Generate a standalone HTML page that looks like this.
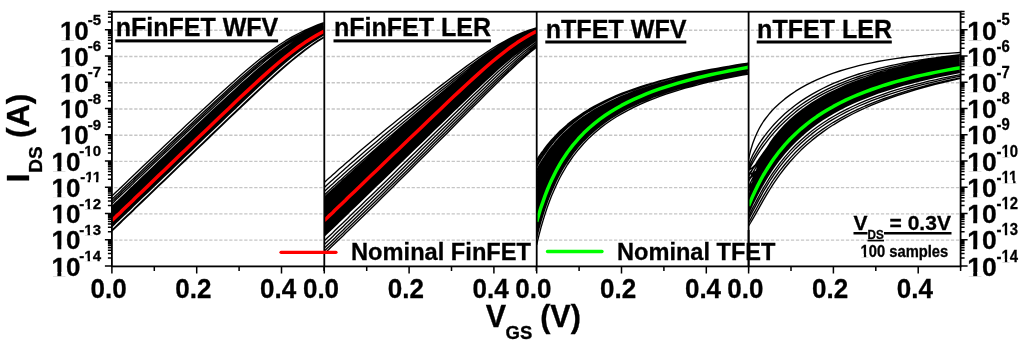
<!DOCTYPE html>
<html><head><meta charset="utf-8"><style>html,body{margin:0;padding:0;background:#fff;overflow:hidden}svg{display:block}</style></head><body>
<svg width="1024" height="343" viewBox="0 0 1024 343">
<rect width="1024" height="343" fill="#fff"/>
<defs>
<clipPath id="c0"><rect x="111.90" y="11.70" width="212.00" height="254.30"/></clipPath>
<clipPath id="c1"><rect x="324.30" y="11.70" width="212.00" height="254.30"/></clipPath>
<clipPath id="c2"><rect x="536.70" y="11.70" width="212.00" height="254.30"/></clipPath>
<clipPath id="c3"><rect x="748.60" y="11.70" width="212.00" height="254.30"/></clipPath>
</defs>
<line x1="114.2" y1="30.25" x2="322.9" y2="30.25" stroke="#c6c6c6" stroke-width="1.3" stroke-dasharray="3.3 1.7"/>
<line x1="114.2" y1="56.49" x2="322.9" y2="56.49" stroke="#c6c6c6" stroke-width="1.3" stroke-dasharray="3.3 1.7"/>
<line x1="114.2" y1="82.74" x2="322.9" y2="82.74" stroke="#c6c6c6" stroke-width="1.3" stroke-dasharray="3.3 1.7"/>
<line x1="114.2" y1="108.98" x2="322.9" y2="108.98" stroke="#c6c6c6" stroke-width="1.3" stroke-dasharray="3.3 1.7"/>
<line x1="114.2" y1="135.23" x2="322.9" y2="135.23" stroke="#c6c6c6" stroke-width="1.3" stroke-dasharray="3.3 1.7"/>
<line x1="114.2" y1="161.47" x2="322.9" y2="161.47" stroke="#c6c6c6" stroke-width="1.3" stroke-dasharray="3.3 1.7"/>
<line x1="114.2" y1="187.72" x2="322.9" y2="187.72" stroke="#c6c6c6" stroke-width="1.3" stroke-dasharray="3.3 1.7"/>
<line x1="114.2" y1="213.96" x2="322.9" y2="213.96" stroke="#c6c6c6" stroke-width="1.3" stroke-dasharray="3.3 1.7"/>
<line x1="114.2" y1="240.21" x2="322.9" y2="240.21" stroke="#c6c6c6" stroke-width="1.3" stroke-dasharray="3.3 1.7"/>
<line x1="326.6" y1="30.25" x2="535.3" y2="30.25" stroke="#c6c6c6" stroke-width="1.3" stroke-dasharray="3.3 1.7"/>
<line x1="326.6" y1="56.49" x2="535.3" y2="56.49" stroke="#c6c6c6" stroke-width="1.3" stroke-dasharray="3.3 1.7"/>
<line x1="326.6" y1="82.74" x2="535.3" y2="82.74" stroke="#c6c6c6" stroke-width="1.3" stroke-dasharray="3.3 1.7"/>
<line x1="326.6" y1="108.98" x2="535.3" y2="108.98" stroke="#c6c6c6" stroke-width="1.3" stroke-dasharray="3.3 1.7"/>
<line x1="326.6" y1="135.23" x2="535.3" y2="135.23" stroke="#c6c6c6" stroke-width="1.3" stroke-dasharray="3.3 1.7"/>
<line x1="326.6" y1="161.47" x2="535.3" y2="161.47" stroke="#c6c6c6" stroke-width="1.3" stroke-dasharray="3.3 1.7"/>
<line x1="326.6" y1="187.72" x2="535.3" y2="187.72" stroke="#c6c6c6" stroke-width="1.3" stroke-dasharray="3.3 1.7"/>
<line x1="326.6" y1="213.96" x2="535.3" y2="213.96" stroke="#c6c6c6" stroke-width="1.3" stroke-dasharray="3.3 1.7"/>
<line x1="326.6" y1="240.21" x2="535.3" y2="240.21" stroke="#c6c6c6" stroke-width="1.3" stroke-dasharray="3.3 1.7"/>
<line x1="539.0" y1="30.25" x2="747.7" y2="30.25" stroke="#c6c6c6" stroke-width="1.3" stroke-dasharray="3.3 1.7"/>
<line x1="539.0" y1="56.49" x2="747.7" y2="56.49" stroke="#c6c6c6" stroke-width="1.3" stroke-dasharray="3.3 1.7"/>
<line x1="539.0" y1="82.74" x2="747.7" y2="82.74" stroke="#c6c6c6" stroke-width="1.3" stroke-dasharray="3.3 1.7"/>
<line x1="539.0" y1="108.98" x2="747.7" y2="108.98" stroke="#c6c6c6" stroke-width="1.3" stroke-dasharray="3.3 1.7"/>
<line x1="539.0" y1="135.23" x2="747.7" y2="135.23" stroke="#c6c6c6" stroke-width="1.3" stroke-dasharray="3.3 1.7"/>
<line x1="539.0" y1="161.47" x2="747.7" y2="161.47" stroke="#c6c6c6" stroke-width="1.3" stroke-dasharray="3.3 1.7"/>
<line x1="539.0" y1="187.72" x2="747.7" y2="187.72" stroke="#c6c6c6" stroke-width="1.3" stroke-dasharray="3.3 1.7"/>
<line x1="539.0" y1="213.96" x2="747.7" y2="213.96" stroke="#c6c6c6" stroke-width="1.3" stroke-dasharray="3.3 1.7"/>
<line x1="539.0" y1="240.21" x2="747.7" y2="240.21" stroke="#c6c6c6" stroke-width="1.3" stroke-dasharray="3.3 1.7"/>
<line x1="750.9" y1="30.25" x2="959.6" y2="30.25" stroke="#c6c6c6" stroke-width="1.3" stroke-dasharray="3.3 1.7"/>
<line x1="750.9" y1="56.49" x2="959.6" y2="56.49" stroke="#c6c6c6" stroke-width="1.3" stroke-dasharray="3.3 1.7"/>
<line x1="750.9" y1="82.74" x2="959.6" y2="82.74" stroke="#c6c6c6" stroke-width="1.3" stroke-dasharray="3.3 1.7"/>
<line x1="750.9" y1="108.98" x2="959.6" y2="108.98" stroke="#c6c6c6" stroke-width="1.3" stroke-dasharray="3.3 1.7"/>
<line x1="750.9" y1="135.23" x2="959.6" y2="135.23" stroke="#c6c6c6" stroke-width="1.3" stroke-dasharray="3.3 1.7"/>
<line x1="750.9" y1="161.47" x2="959.6" y2="161.47" stroke="#c6c6c6" stroke-width="1.3" stroke-dasharray="3.3 1.7"/>
<line x1="750.9" y1="187.72" x2="959.6" y2="187.72" stroke="#c6c6c6" stroke-width="1.3" stroke-dasharray="3.3 1.7"/>
<line x1="750.9" y1="213.96" x2="959.6" y2="213.96" stroke="#c6c6c6" stroke-width="1.3" stroke-dasharray="3.3 1.7"/>
<line x1="750.9" y1="240.21" x2="959.6" y2="240.21" stroke="#c6c6c6" stroke-width="1.3" stroke-dasharray="3.3 1.7"/>
<g clip-path="url(#c0)" fill="none" stroke-linejoin="round">
<path d="M111.9 196.1l2.1 -2 2.1 -2.1 2.2 -2 2.1 -2 2.1 -2.1 2.1 -2 2.1 -2 2.2 -2.1 2.1 -2 2.1 -2 2.1 -2 2.1 -2.1 5.4 -5.1 5.4 -5.2 5.4 -5.1 5.4 -5.1 5.4 -5.2 5.4 -5.1 5.4 -5.1 5.4 -5.1 5.4 -5.1 5.4 -5 5.4 -5.1 6.4 -5.9 6.3 -5.9 6.4 -5.9 6.3 -5.9 6.4 -5.7 6.4 -5.7 6.3 -5.7 6.4 -5.5 6.3 -5.3 6.4 -5.2 6.4 -4.9 6.3 -4.7 6.4 -4.4 6.3 -4.1 6.4 -3.8 6.4 -3.4 6.3 -3.1 6.4 -2.9 6.3 -2.6 6.4 -2.3 M111.9 199.3l2.1 -2 2.1 -2.1 2.2 -2 2.1 -2 2.1 -2.1 2.1 -2 2.1 -2 2.2 -2.1 2.1 -2 2.1 -2 2.1 -2.1 2.1 -2 5.4 -5.1 5.4 -5.2 5.4 -5.1 5.4 -5.2 5.4 -5.1 5.4 -5.1 5.4 -5.1 5.4 -5.1 5.4 -5.1 5.4 -5.1 5.4 -5.1 6.4 -6 6.3 -5.9 6.4 -5.9 6.3 -5.9 6.4 -5.8 6.4 -5.8 6.3 -5.7 6.4 -5.5 6.3 -5.5 6.4 -5.3 6.4 -5 6.3 -4.9 6.4 -4.5 6.3 -4.3 6.4 -3.9 6.4 -3.6 6.3 -3.3 6.4 -3 6.3 -2.8 6.4 -2.4 M111.9 201.5l2.1 -2 2.1 -2.1 2.2 -2 2.1 -2 2.1 -2.1 2.1 -2 2.1 -2 2.2 -2.1 2.1 -2 2.1 -2 2.1 -2.1 2.1 -2 5.4 -5.1 5.4 -5.2 5.4 -5.1 5.4 -5.2 5.4 -5.1 5.4 -5.2 5.4 -5.1 5.4 -5.1 5.4 -5.1 5.4 -5.1 5.4 -5.1 6.4 -6 6.3 -5.9 6.4 -6 6.3 -5.9 6.4 -5.8 6.4 -5.8 6.3 -5.7 6.4 -5.7 6.3 -5.5 6.4 -5.3 6.4 -5.2 6.3 -4.9 6.4 -4.7 6.3 -4.4 6.4 -4 6.4 -3.7 6.3 -3.4 6.4 -3.1 6.3 -2.9 6.4 -2.5 M111.9 203.7l2.1 -2 2.1 -2.1 2.2 -2 2.1 -2 2.1 -2.1 2.1 -2 2.1 -2 2.2 -2.1 2.1 -2 2.1 -2 2.1 -2.1 2.1 -2 5.4 -5.1 5.4 -5.2 5.4 -5.2 5.4 -5.1 5.4 -5.1 5.4 -5.2 5.4 -5.1 5.4 -5.1 5.4 -5.2 5.4 -5.1 5.4 -5.1 6.4 -6 6.3 -5.9 6.4 -6 6.3 -5.9 6.4 -5.9 6.4 -5.8 6.3 -5.8 6.4 -5.7 6.3 -5.5 6.4 -5.4 6.4 -5.3 6.3 -5 6.4 -4.8 6.3 -4.5 6.4 -4.2 6.4 -3.8 6.3 -3.5 6.4 -3.2 6.3 -2.9 6.4 -2.7 M111.9 206.6l2.1 -2 2.1 -2.1 2.2 -2 2.1 -2 2.1 -2.1 2.1 -2 2.1 -2 2.2 -2.1 2.1 -2 2.1 -2 2.1 -2.1 2.1 -2 5.4 -5.2 5.4 -5.1 5.4 -5.2 5.4 -5.1 5.4 -5.2 5.4 -5.1 5.4 -5.2 5.4 -5.1 5.4 -5.1 5.4 -5.1 5.4 -5.2 6.4 -6 6.3 -6 6.4 -6 6.3 -5.9 6.4 -5.9 6.4 -5.9 6.3 -5.8 6.4 -5.7 6.3 -5.7 6.4 -5.5 6.4 -5.3 6.3 -5.2 6.4 -4.9 6.3 -4.6 6.4 -4.3 6.4 -4.1 6.3 -3.6 6.4 -3.4 6.3 -3 6.4 -2.8 M111.9 206.9l2.1 -2 2.1 -2.1 2.2 -2 2.1 -2 2.1 -2.1 2.1 -2 2.1 -2 2.2 -2.1 2.1 -2 2.1 -2 2.1 -2.1 2.1 -2 5.4 -5.2 5.4 -5.1 5.4 -5.2 5.4 -5.1 5.4 -5.2 5.4 -5.1 5.4 -5.2 5.4 -5.1 5.4 -5.1 5.4 -5.2 5.4 -5.1 6.4 -6 6.3 -6 6.4 -6 6.3 -5.9 6.4 -5.9 6.4 -5.9 6.3 -5.8 6.4 -5.8 6.3 -5.6 6.4 -5.5 6.4 -5.4 6.3 -5.2 6.4 -4.9 6.3 -4.6 6.4 -4.4 6.4 -4 6.3 -3.7 6.4 -3.3 6.3 -3.1 6.4 -2.8 M111.9 207l2.1 -2 2.1 -2 2.2 -2.1 2.1 -2 2.1 -2 2.1 -2.1 2.1 -2 2.2 -2 2.1 -2.1 2.1 -2 2.1 -2 2.1 -2.1 5.4 -5.1 5.4 -5.2 5.4 -5.2 5.4 -5.1 5.4 -5.2 5.4 -5.1 5.4 -5.1 5.4 -5.2 5.4 -5.1 5.4 -5.1 5.4 -5.1 6.4 -6.1 6.3 -6 6.4 -5.9 6.3 -6 6.4 -5.9 6.4 -5.9 6.3 -5.8 6.4 -5.8 6.3 -5.6 6.4 -5.5 6.4 -5.4 6.3 -5.2 6.4 -4.9 6.3 -4.6 6.4 -4.4 6.4 -4 6.3 -3.7 6.4 -3.4 6.3 -3 6.4 -2.8 M111.9 207.2l2.1 -2.1 2.1 -2 2.2 -2.1 2.1 -2 2.1 -2 2.1 -2.1 2.1 -2 2.2 -2 2.1 -2.1 2.1 -2 2.1 -2 2.1 -2 5.4 -5.2 5.4 -5.2 5.4 -5.1 5.4 -5.2 5.4 -5.1 5.4 -5.2 5.4 -5.1 5.4 -5.2 5.4 -5.1 5.4 -5.1 5.4 -5.1 6.4 -6 6.3 -6.1 6.4 -5.9 6.3 -6 6.4 -5.9 6.4 -5.9 6.3 -5.8 6.4 -5.8 6.3 -5.6 6.4 -5.5 6.4 -5.4 6.3 -5.2 6.4 -4.9 6.3 -4.7 6.4 -4.3 6.4 -4.1 6.3 -3.7 6.4 -3.3 6.3 -3.1 6.4 -2.8 M111.9 207.5l2.1 -2 2.1 -2.1 2.2 -2 2.1 -2.1 2.1 -2 2.1 -2 2.1 -2.1 2.2 -2 2.1 -2 2.1 -2.1 2.1 -2 2.1 -2 5.4 -5.2 5.4 -5.1 5.4 -5.2 5.4 -5.2 5.4 -5.1 5.4 -5.2 5.4 -5.1 5.4 -5.1 5.4 -5.2 5.4 -5.1 5.4 -5.1 6.4 -6 6.3 -6 6.4 -6 6.3 -6 6.4 -5.9 6.4 -5.9 6.3 -5.8 6.4 -5.8 6.3 -5.6 6.4 -5.6 6.4 -5.3 6.3 -5.2 6.4 -5 6.3 -4.6 6.4 -4.4 6.4 -4.1 6.3 -3.7 6.4 -3.4 6.3 -3.1 6.4 -2.7 M111.9 207.6l2.1 -2 2.1 -2 2.2 -2.1 2.1 -2 2.1 -2.1 2.1 -2 2.1 -2 2.2 -2.1 2.1 -2 2.1 -2 2.1 -2.1 2.1 -2 5.4 -5.2 5.4 -5.1 5.4 -5.2 5.4 -5.1 5.4 -5.2 5.4 -5.1 5.4 -5.2 5.4 -5.1 5.4 -5.1 5.4 -5.2 5.4 -5.1 6.4 -6 6.3 -6 6.4 -6 6.3 -6 6.4 -5.9 6.4 -5.9 6.3 -5.8 6.4 -5.8 6.3 -5.6 6.4 -5.6 6.4 -5.3 6.3 -5.2 6.4 -5 6.3 -4.7 6.4 -4.3 6.4 -4.1 6.3 -3.7 6.4 -3.4 6.3 -3.1 6.4 -2.8 M111.9 208.1l2.1 -2.1 2.1 -2 2.2 -2 2.1 -2.1 2.1 -2 2.1 -2 2.1 -2.1 2.2 -2 2.1 -2 2.1 -2.1 2.1 -2 2.1 -2 5.4 -5.2 5.4 -5.2 5.4 -5.1 5.4 -5.2 5.4 -5.1 5.4 -5.2 5.4 -5.1 5.4 -5.2 5.4 -5.1 5.4 -5.1 5.4 -5.1 6.4 -6.1 6.3 -6 6.4 -6 6.3 -5.9 6.4 -6 6.4 -5.9 6.3 -5.8 6.4 -5.8 6.3 -5.6 6.4 -5.6 6.4 -5.4 6.3 -5.2 6.4 -5 6.3 -4.7 6.4 -4.4 6.4 -4 6.3 -3.8 6.4 -3.4 6.3 -3.1 6.4 -2.8 M111.9 208.6l2.1 -2.1 2.1 -2 2.2 -2 2.1 -2.1 2.1 -2 2.1 -2 2.1 -2.1 2.2 -2 2.1 -2 2.1 -2.1 2.1 -2 2.1 -2 5.4 -5.2 5.4 -5.2 5.4 -5.1 5.4 -5.2 5.4 -5.1 5.4 -5.2 5.4 -5.1 5.4 -5.2 5.4 -5.1 5.4 -5.1 5.4 -5.2 6.4 -6 6.3 -6 6.4 -6 6.3 -6 6.4 -5.9 6.4 -5.9 6.3 -5.9 6.4 -5.7 6.3 -5.7 6.4 -5.6 6.4 -5.4 6.3 -5.2 6.4 -5 6.3 -4.7 6.4 -4.5 6.4 -4.1 6.3 -3.7 6.4 -3.5 6.3 -3.1 6.4 -2.9 M111.9 208.5l2.1 -2.1 2.1 -2 2.2 -2.1 2.1 -2 2.1 -2 2.1 -2.1 2.1 -2 2.2 -2 2.1 -2.1 2.1 -2 2.1 -2 2.1 -2.1 5.4 -5.1 5.4 -5.2 5.4 -5.2 5.4 -5.1 5.4 -5.2 5.4 -5.1 5.4 -5.2 5.4 -5.1 5.4 -5.1 5.4 -5.2 5.4 -5.1 6.4 -6 6.3 -6 6.4 -6 6.3 -6 6.4 -5.9 6.4 -5.9 6.3 -5.9 6.4 -5.7 6.3 -5.7 6.4 -5.6 6.4 -5.4 6.3 -5.2 6.4 -5 6.3 -4.7 6.4 -4.4 6.4 -4.1 6.3 -3.8 6.4 -3.4 6.3 -3.2 6.4 -2.8 M111.9 208.7l2.1 -2.1 2.1 -2 2.2 -2 2.1 -2.1 2.1 -2 2.1 -2 2.1 -2.1 2.2 -2 2.1 -2 2.1 -2.1 2.1 -2 2.1 -2 5.4 -5.2 5.4 -5.2 5.4 -5.1 5.4 -5.2 5.4 -5.2 5.4 -5.1 5.4 -5.1 5.4 -5.2 5.4 -5.1 5.4 -5.2 5.4 -5.1 6.4 -6 6.3 -6 6.4 -6 6.3 -6 6.4 -5.9 6.4 -5.9 6.3 -5.9 6.4 -5.8 6.3 -5.6 6.4 -5.6 6.4 -5.4 6.3 -5.2 6.4 -5 6.3 -4.8 6.4 -4.4 6.4 -4.1 6.3 -3.8 6.4 -3.5 6.3 -3.1 6.4 -2.8 M111.9 209.1l2.1 -2 2.1 -2 2.2 -2.1 2.1 -2 2.1 -2 2.1 -2.1 2.1 -2 2.2 -2 2.1 -2.1 2.1 -2 2.1 -2 2.1 -2.1 5.4 -5.1 5.4 -5.2 5.4 -5.2 5.4 -5.1 5.4 -5.2 5.4 -5.1 5.4 -5.2 5.4 -5.1 5.4 -5.2 5.4 -5.1 5.4 -5.1 6.4 -6.1 6.3 -6 6.4 -6 6.3 -5.9 6.4 -6 6.4 -5.9 6.3 -5.9 6.4 -5.7 6.3 -5.7 6.4 -5.6 6.4 -5.4 6.3 -5.3 6.4 -5 6.3 -4.8 6.4 -4.4 6.4 -4.2 6.3 -3.8 6.4 -3.4 6.3 -3.2 6.4 -2.9 M111.9 209.3l2.1 -2 2.1 -2 2.2 -2.1 2.1 -2 2.1 -2 2.1 -2.1 2.1 -2 2.2 -2 2.1 -2.1 2.1 -2 2.1 -2 2.1 -2.1 5.4 -5.1 5.4 -5.2 5.4 -5.2 5.4 -5.1 5.4 -5.2 5.4 -5.1 5.4 -5.2 5.4 -5.1 5.4 -5.2 5.4 -5.1 5.4 -5.1 6.4 -6.1 6.3 -6 6.4 -6 6.3 -5.9 6.4 -6 6.4 -5.9 6.3 -5.9 6.4 -5.8 6.3 -5.7 6.4 -5.5 6.4 -5.5 6.3 -5.2 6.4 -5.1 6.3 -4.7 6.4 -4.5 6.4 -4.1 6.3 -3.9 6.4 -3.4 6.3 -3.2 6.4 -2.9 M111.9 209.5l2.1 -2 2.1 -2 2.2 -2.1 2.1 -2 2.1 -2 2.1 -2.1 2.1 -2 2.2 -2 2.1 -2.1 2.1 -2 2.1 -2 2.1 -2.1 5.4 -5.1 5.4 -5.2 5.4 -5.2 5.4 -5.1 5.4 -5.2 5.4 -5.1 5.4 -5.2 5.4 -5.1 5.4 -5.2 5.4 -5.1 5.4 -5.1 6.4 -6.1 6.3 -6 6.4 -6 6.3 -6 6.4 -5.9 6.4 -5.9 6.3 -5.9 6.4 -5.8 6.3 -5.7 6.4 -5.6 6.4 -5.4 6.3 -5.3 6.4 -5 6.3 -4.8 6.4 -4.5 6.4 -4.1 6.3 -3.9 6.4 -3.5 6.3 -3.1 6.4 -2.9 M111.9 209.6l2.1 -2.1 2.1 -2 2.2 -2 2.1 -2.1 2.1 -2 2.1 -2 2.1 -2.1 2.2 -2 2.1 -2 2.1 -2.1 2.1 -2 2.1 -2 5.4 -5.2 5.4 -5.2 5.4 -5.1 5.4 -5.2 5.4 -5.2 5.4 -5.1 5.4 -5.2 5.4 -5.1 5.4 -5.1 5.4 -5.2 5.4 -5.1 6.4 -6 6.3 -6.1 6.4 -6 6.3 -5.9 6.4 -6 6.4 -5.9 6.3 -5.9 6.4 -5.8 6.3 -5.7 6.4 -5.6 6.4 -5.4 6.3 -5.3 6.4 -5 6.3 -4.8 6.4 -4.4 6.4 -4.2 6.3 -3.8 6.4 -3.5 6.3 -3.2 6.4 -2.9 M111.9 210l2.1 -2 2.1 -2.1 2.2 -2 2.1 -2 2.1 -2.1 2.1 -2 2.1 -2.1 2.2 -2 2.1 -2 2.1 -2.1 2.1 -2 2.1 -2 5.4 -5.2 5.4 -5.2 5.4 -5.1 5.4 -5.2 5.4 -5.1 5.4 -5.2 5.4 -5.1 5.4 -5.2 5.4 -5.1 5.4 -5.2 5.4 -5.1 6.4 -6 6.3 -6.1 6.4 -6 6.3 -5.9 6.4 -6 6.4 -5.9 6.3 -5.9 6.4 -5.8 6.3 -5.7 6.4 -5.6 6.4 -5.5 6.3 -5.2 6.4 -5.1 6.3 -4.8 6.4 -4.5 6.4 -4.2 6.3 -3.8 6.4 -3.5 6.3 -3.2 6.4 -2.9 M111.9 210.4l2.1 -2.1 2.1 -2 2.2 -2 2.1 -2.1 2.1 -2 2.1 -2 2.1 -2.1 2.2 -2 2.1 -2 2.1 -2.1 2.1 -2 2.1 -2 5.4 -5.2 5.4 -5.2 5.4 -5.1 5.4 -5.2 5.4 -5.2 5.4 -5.1 5.4 -5.2 5.4 -5.1 5.4 -5.2 5.4 -5.1 5.4 -5.1 6.4 -6.1 6.3 -6 6.4 -6 6.3 -6 6.4 -5.9 6.4 -6 6.3 -5.8 6.4 -5.8 6.3 -5.8 6.4 -5.6 6.4 -5.5 6.3 -5.2 6.4 -5.1 6.3 -4.8 6.4 -4.5 6.4 -4.3 6.3 -3.8 6.4 -3.6 6.3 -3.2 6.4 -2.9 M111.9 210.2l2.1 -2 2.1 -2.1 2.2 -2 2.1 -2 2.1 -2.1 2.1 -2 2.1 -2 2.2 -2.1 2.1 -2 2.1 -2 2.1 -2.1 2.1 -2 5.4 -5.2 5.4 -5.1 5.4 -5.2 5.4 -5.2 5.4 -5.1 5.4 -5.2 5.4 -5.1 5.4 -5.2 5.4 -5.1 5.4 -5.1 5.4 -5.2 6.4 -6 6.3 -6 6.4 -6 6.3 -6 6.4 -6 6.4 -5.9 6.3 -5.9 6.4 -5.8 6.3 -5.7 6.4 -5.6 6.4 -5.5 6.3 -5.3 6.4 -5 6.3 -4.8 6.4 -4.6 6.4 -4.1 6.3 -3.9 6.4 -3.5 6.3 -3.2 6.4 -3 M111.9 210.6l2.1 -2 2.1 -2 2.2 -2.1 2.1 -2 2.1 -2 2.1 -2.1 2.1 -2 2.2 -2 2.1 -2.1 2.1 -2 2.1 -2 2.1 -2.1 5.4 -5.1 5.4 -5.2 5.4 -5.2 5.4 -5.1 5.4 -5.2 5.4 -5.2 5.4 -5.1 5.4 -5.2 5.4 -5.1 5.4 -5.1 5.4 -5.2 6.4 -6 6.3 -6 6.4 -6.1 6.3 -5.9 6.4 -6 6.4 -5.9 6.3 -5.9 6.4 -5.8 6.3 -5.8 6.4 -5.6 6.4 -5.4 6.3 -5.3 6.4 -5.1 6.3 -4.9 6.4 -4.5 6.4 -4.2 6.3 -3.9 6.4 -3.5 6.3 -3.3 6.4 -2.9 M111.9 210.6l2.1 -2 2.1 -2.1 2.2 -2 2.1 -2.1 2.1 -2 2.1 -2 2.1 -2.1 2.2 -2 2.1 -2 2.1 -2.1 2.1 -2 2.1 -2 5.4 -5.2 5.4 -5.2 5.4 -5.1 5.4 -5.2 5.4 -5.1 5.4 -5.2 5.4 -5.2 5.4 -5.1 5.4 -5.1 5.4 -5.2 5.4 -5.1 6.4 -6.1 6.3 -6 6.4 -6 6.3 -6 6.4 -5.9 6.4 -6 6.3 -5.8 6.4 -5.9 6.3 -5.7 6.4 -5.6 6.4 -5.5 6.3 -5.3 6.4 -5.1 6.3 -4.8 6.4 -4.5 6.4 -4.2 6.3 -3.9 6.4 -3.6 6.3 -3.2 6.4 -2.9 M111.9 211l2.1 -2.1 2.1 -2 2.2 -2.1 2.1 -2 2.1 -2 2.1 -2.1 2.1 -2 2.2 -2 2.1 -2.1 2.1 -2 2.1 -2 2.1 -2.1 5.4 -5.1 5.4 -5.2 5.4 -5.2 5.4 -5.1 5.4 -5.2 5.4 -5.1 5.4 -5.2 5.4 -5.1 5.4 -5.2 5.4 -5.1 5.4 -5.2 6.4 -6 6.3 -6 6.4 -6.1 6.3 -5.9 6.4 -6 6.4 -5.9 6.3 -5.9 6.4 -5.8 6.3 -5.8 6.4 -5.6 6.4 -5.5 6.3 -5.3 6.4 -5.1 6.3 -4.8 6.4 -4.6 6.4 -4.2 6.3 -3.9 6.4 -3.6 6.3 -3.2 6.4 -3 M111.9 211.1l2.1 -2 2.1 -2.1 2.2 -2 2.1 -2.1 2.1 -2 2.1 -2 2.1 -2.1 2.2 -2 2.1 -2 2.1 -2.1 2.1 -2 2.1 -2 5.4 -5.2 5.4 -5.2 5.4 -5.1 5.4 -5.2 5.4 -5.2 5.4 -5.1 5.4 -5.2 5.4 -5.1 5.4 -5.2 5.4 -5.1 5.4 -5.1 6.4 -6.1 6.3 -6 6.4 -6 6.3 -6 6.4 -6 6.4 -5.9 6.3 -5.9 6.4 -5.8 6.3 -5.8 6.4 -5.6 6.4 -5.5 6.3 -5.3 6.4 -5.1 6.3 -4.9 6.4 -4.5 6.4 -4.3 6.3 -3.9 6.4 -3.5 6.3 -3.3 6.4 -2.9 M111.9 211.7l2.1 -2.1 2.1 -2 2.2 -2.1 2.1 -2 2.1 -2 2.1 -2.1 2.1 -2 2.2 -2 2.1 -2.1 2.1 -2 2.1 -2 2.1 -2.1 5.4 -5.1 5.4 -5.2 5.4 -5.2 5.4 -5.1 5.4 -5.2 5.4 -5.2 5.4 -5.1 5.4 -5.2 5.4 -5.1 5.4 -5.2 5.4 -5.1 6.4 -6 6.3 -6.1 6.4 -6 6.3 -6 6.4 -6 6.4 -5.9 6.3 -5.9 6.4 -5.8 6.3 -5.8 6.4 -5.6 6.4 -5.5 6.3 -5.4 6.4 -5.1 6.3 -4.9 6.4 -4.6 6.4 -4.2 6.3 -4 6.4 -3.6 6.3 -3.2 6.4 -3 M111.9 211.7l2.1 -2 2.1 -2.1 2.2 -2 2.1 -2.1 2.1 -2 2.1 -2 2.1 -2.1 2.2 -2 2.1 -2 2.1 -2.1 2.1 -2 2.1 -2 5.4 -5.2 5.4 -5.2 5.4 -5.1 5.4 -5.2 5.4 -5.2 5.4 -5.1 5.4 -5.2 5.4 -5.1 5.4 -5.2 5.4 -5.1 5.4 -5.2 6.4 -6 6.3 -6 6.4 -6.1 6.3 -6 6.4 -5.9 6.4 -6 6.3 -5.9 6.4 -5.8 6.3 -5.7 6.4 -5.7 6.4 -5.5 6.3 -5.3 6.4 -5.2 6.3 -4.8 6.4 -4.6 6.4 -4.3 6.3 -3.9 6.4 -3.7 6.3 -3.2 6.4 -3 M111.9 212.2l2.1 -2 2.1 -2 2.2 -2.1 2.1 -2 2.1 -2 2.1 -2.1 2.1 -2 2.2 -2 2.1 -2.1 2.1 -2 2.1 -2 2.1 -2.1 5.4 -5.2 5.4 -5.1 5.4 -5.2 5.4 -5.2 5.4 -5.1 5.4 -5.2 5.4 -5.1 5.4 -5.2 5.4 -5.1 5.4 -5.2 5.4 -5.1 6.4 -6.1 6.3 -6 6.4 -6 6.3 -6 6.4 -6 6.4 -6 6.3 -5.9 6.4 -5.8 6.3 -5.8 6.4 -5.6 6.4 -5.6 6.3 -5.3 6.4 -5.2 6.3 -4.9 6.4 -4.6 6.4 -4.3 6.3 -4 6.4 -3.6 6.3 -3.3 6.4 -3 M111.9 212.5l2.1 -2.1 2.1 -2 2.2 -2.1 2.1 -2 2.1 -2 2.1 -2.1 2.1 -2 2.2 -2 2.1 -2.1 2.1 -2 2.1 -2 2.1 -2.1 5.4 -5.1 5.4 -5.2 5.4 -5.2 5.4 -5.1 5.4 -5.2 5.4 -5.2 5.4 -5.1 5.4 -5.2 5.4 -5.1 5.4 -5.2 5.4 -5.1 6.4 -6.1 6.3 -6 6.4 -6 6.3 -6 6.4 -6 6.4 -6 6.3 -5.9 6.4 -5.8 6.3 -5.8 6.4 -5.7 6.4 -5.5 6.3 -5.3 6.4 -5.2 6.3 -4.9 6.4 -4.6 6.4 -4.4 6.3 -3.9 6.4 -3.7 6.3 -3.3 6.4 -3 M111.9 212.6l2.1 -2 2.1 -2 2.2 -2.1 2.1 -2 2.1 -2 2.1 -2.1 2.1 -2 2.2 -2.1 2.1 -2 2.1 -2 2.1 -2.1 2.1 -2 5.4 -5.2 5.4 -5.1 5.4 -5.2 5.4 -5.2 5.4 -5.1 5.4 -5.2 5.4 -5.2 5.4 -5.1 5.4 -5.2 5.4 -5.1 5.4 -5.2 6.4 -6 6.3 -6 6.4 -6.1 6.3 -6 6.4 -6 6.4 -5.9 6.3 -5.9 6.4 -5.9 6.3 -5.7 6.4 -5.7 6.4 -5.5 6.3 -5.4 6.4 -5.2 6.3 -4.9 6.4 -4.6 6.4 -4.4 6.3 -3.9 6.4 -3.7 6.3 -3.3 6.4 -3.1 M111.9 212.4l2.1 -2 2.1 -2.1 2.2 -2 2.1 -2 2.1 -2.1 2.1 -2 2.1 -2 2.2 -2.1 2.1 -2 2.1 -2 2.1 -2.1 2.1 -2 5.4 -5.2 5.4 -5.2 5.4 -5.1 5.4 -5.2 5.4 -5.2 5.4 -5.1 5.4 -5.2 5.4 -5.1 5.4 -5.2 5.4 -5.1 5.4 -5.2 6.4 -6 6.3 -6.1 6.4 -6 6.3 -6 6.4 -6 6.4 -5.9 6.3 -5.9 6.4 -5.9 6.3 -5.7 6.4 -5.7 6.4 -5.5 6.3 -5.4 6.4 -5.1 6.3 -5 6.4 -4.6 6.4 -4.3 6.3 -4 6.4 -3.6 6.3 -3.3 6.4 -3 M111.9 213l2.1 -2 2.1 -2 2.2 -2.1 2.1 -2 2.1 -2 2.1 -2.1 2.1 -2 2.2 -2 2.1 -2.1 2.1 -2 2.1 -2 2.1 -2.1 5.4 -5.2 5.4 -5.1 5.4 -5.2 5.4 -5.2 5.4 -5.1 5.4 -5.2 5.4 -5.1 5.4 -5.2 5.4 -5.2 5.4 -5.1 5.4 -5.2 6.4 -6 6.3 -6 6.4 -6.1 6.3 -6 6.4 -6 6.4 -5.9 6.3 -5.9 6.4 -5.9 6.3 -5.8 6.4 -5.7 6.4 -5.5 6.3 -5.4 6.4 -5.2 6.3 -4.9 6.4 -4.7 6.4 -4.3 6.3 -4 6.4 -3.7 6.3 -3.4 6.4 -3 M111.9 213.4l2.1 -2 2.1 -2.1 2.2 -2 2.1 -2.1 2.1 -2 2.1 -2 2.1 -2.1 2.2 -2 2.1 -2 2.1 -2.1 2.1 -2 2.1 -2 5.4 -5.2 5.4 -5.2 5.4 -5.2 5.4 -5.1 5.4 -5.2 5.4 -5.2 5.4 -5.1 5.4 -5.2 5.4 -5.1 5.4 -5.2 5.4 -5.1 6.4 -6.1 6.3 -6 6.4 -6.1 6.3 -6 6.4 -6 6.4 -5.9 6.3 -5.9 6.4 -5.9 6.3 -5.8 6.4 -5.7 6.4 -5.5 6.3 -5.4 6.4 -5.2 6.3 -5 6.4 -4.7 6.4 -4.3 6.3 -4 6.4 -3.7 6.3 -3.4 6.4 -3.1 M111.9 213.7l2.1 -2.1 2.1 -2 2.2 -2 2.1 -2.1 2.1 -2 2.1 -2.1 2.1 -2 2.2 -2 2.1 -2.1 2.1 -2 2.1 -2 2.1 -2.1 5.4 -5.1 5.4 -5.2 5.4 -5.2 5.4 -5.2 5.4 -5.1 5.4 -5.2 5.4 -5.1 5.4 -5.2 5.4 -5.2 5.4 -5.1 5.4 -5.2 6.4 -6 6.3 -6.1 6.4 -6 6.3 -6 6.4 -6 6.4 -6 6.3 -5.9 6.4 -5.9 6.3 -5.7 6.4 -5.7 6.4 -5.6 6.3 -5.4 6.4 -5.2 6.3 -5 6.4 -4.7 6.4 -4.4 6.3 -4 6.4 -3.7 6.3 -3.4 6.4 -3.1 M111.9 213.6l2.1 -2.1 2.1 -2 2.2 -2 2.1 -2.1 2.1 -2 2.1 -2 2.1 -2.1 2.2 -2 2.1 -2 2.1 -2.1 2.1 -2 2.1 -2 5.4 -5.2 5.4 -5.2 5.4 -5.2 5.4 -5.1 5.4 -5.2 5.4 -5.2 5.4 -5.1 5.4 -5.2 5.4 -5.1 5.4 -5.2 5.4 -5.1 6.4 -6.1 6.3 -6 6.4 -6.1 6.3 -6 6.4 -6 6.4 -5.9 6.3 -6 6.4 -5.8 6.3 -5.8 6.4 -5.7 6.4 -5.6 6.3 -5.4 6.4 -5.2 6.3 -4.9 6.4 -4.7 6.4 -4.4 6.3 -4 6.4 -3.8 6.3 -3.3 6.4 -3.1 M111.9 214l2.1 -2 2.1 -2 2.2 -2.1 2.1 -2 2.1 -2.1 2.1 -2 2.1 -2 2.2 -2.1 2.1 -2 2.1 -2 2.1 -2.1 2.1 -2 5.4 -5.2 5.4 -5.1 5.4 -5.2 5.4 -5.2 5.4 -5.2 5.4 -5.1 5.4 -5.2 5.4 -5.1 5.4 -5.2 5.4 -5.2 5.4 -5.1 6.4 -6.1 6.3 -6 6.4 -6 6.3 -6.1 6.4 -6 6.4 -5.9 6.3 -6 6.4 -5.8 6.3 -5.8 6.4 -5.7 6.4 -5.6 6.3 -5.4 6.4 -5.3 6.3 -4.9 6.4 -4.7 6.4 -4.4 6.3 -4.1 6.4 -3.7 6.3 -3.4 6.4 -3.1 M111.9 214.2l2.1 -2.1 2.1 -2 2.2 -2 2.1 -2.1 2.1 -2 2.1 -2 2.1 -2.1 2.2 -2 2.1 -2.1 2.1 -2 2.1 -2 2.1 -2.1 5.4 -5.1 5.4 -5.2 5.4 -5.2 5.4 -5.1 5.4 -5.2 5.4 -5.2 5.4 -5.1 5.4 -5.2 5.4 -5.2 5.4 -5.1 5.4 -5.2 6.4 -6 6.3 -6.1 6.4 -6 6.3 -6 6.4 -6 6.4 -6 6.3 -5.9 6.4 -5.9 6.3 -5.8 6.4 -5.7 6.4 -5.6 6.3 -5.4 6.4 -5.2 6.3 -5 6.4 -4.7 6.4 -4.5 6.3 -4 6.4 -3.8 6.3 -3.4 6.4 -3.1 M111.9 214.4l2.1 -2 2.1 -2 2.2 -2.1 2.1 -2 2.1 -2 2.1 -2.1 2.1 -2 2.2 -2 2.1 -2.1 2.1 -2 2.1 -2 2.1 -2.1 5.4 -5.2 5.4 -5.1 5.4 -5.2 5.4 -5.2 5.4 -5.1 5.4 -5.2 5.4 -5.2 5.4 -5.1 5.4 -5.2 5.4 -5.1 5.4 -5.2 6.4 -6.1 6.3 -6 6.4 -6.1 6.3 -6 6.4 -6 6.4 -6 6.3 -5.9 6.4 -5.9 6.3 -5.8 6.4 -5.7 6.4 -5.6 6.3 -5.4 6.4 -5.2 6.3 -5 6.4 -4.8 6.4 -4.4 6.3 -4.1 6.4 -3.7 6.3 -3.4 6.4 -3.2 M111.9 215.1l2.1 -2.1 2.1 -2 2.2 -2 2.1 -2.1 2.1 -2 2.1 -2.1 2.1 -2 2.2 -2 2.1 -2.1 2.1 -2 2.1 -2 2.1 -2.1 5.4 -5.1 5.4 -5.2 5.4 -5.2 5.4 -5.2 5.4 -5.1 5.4 -5.2 5.4 -5.2 5.4 -5.1 5.4 -5.2 5.4 -5.2 5.4 -5.1 6.4 -6.1 6.3 -6 6.4 -6.1 6.3 -6 6.4 -6 6.4 -6 6.3 -5.9 6.4 -5.9 6.3 -5.8 6.4 -5.8 6.4 -5.6 6.3 -5.4 6.4 -5.3 6.3 -5 6.4 -4.8 6.4 -4.4 6.3 -4.1 6.4 -3.8 6.3 -3.5 6.4 -3.1 M111.9 214.9l2.1 -2 2.1 -2 2.2 -2.1 2.1 -2 2.1 -2 2.1 -2.1 2.1 -2 2.2 -2.1 2.1 -2 2.1 -2 2.1 -2.1 2.1 -2 5.4 -5.2 5.4 -5.1 5.4 -5.2 5.4 -5.2 5.4 -5.2 5.4 -5.1 5.4 -5.2 5.4 -5.2 5.4 -5.1 5.4 -5.2 5.4 -5.1 6.4 -6.1 6.3 -6.1 6.4 -6 6.3 -6 6.4 -6 6.4 -6 6.3 -5.9 6.4 -5.9 6.3 -5.9 6.4 -5.7 6.4 -5.6 6.3 -5.4 6.4 -5.3 6.3 -5 6.4 -4.8 6.4 -4.4 6.3 -4.1 6.4 -3.8 6.3 -3.4 6.4 -3.2 M111.9 215.3l2.1 -2 2.1 -2 2.2 -2.1 2.1 -2 2.1 -2.1 2.1 -2 2.1 -2 2.2 -2.1 2.1 -2 2.1 -2 2.1 -2.1 2.1 -2 5.4 -5.2 5.4 -5.2 5.4 -5.1 5.4 -5.2 5.4 -5.2 5.4 -5.1 5.4 -5.2 5.4 -5.2 5.4 -5.1 5.4 -5.2 5.4 -5.1 6.4 -6.1 6.3 -6.1 6.4 -6 6.3 -6.1 6.4 -6 6.4 -5.9 6.3 -6 6.4 -5.9 6.3 -5.8 6.4 -5.7 6.4 -5.7 6.3 -5.4 6.4 -5.3 6.3 -5 6.4 -4.8 6.4 -4.5 6.3 -4.1 6.4 -3.8 6.3 -3.5 6.4 -3.1 M111.9 215.8l2.1 -2.1 2.1 -2 2.2 -2.1 2.1 -2 2.1 -2 2.1 -2.1 2.1 -2 2.2 -2 2.1 -2.1 2.1 -2 2.1 -2 2.1 -2.1 5.4 -5.2 5.4 -5.1 5.4 -5.2 5.4 -5.2 5.4 -5.2 5.4 -5.1 5.4 -5.2 5.4 -5.2 5.4 -5.1 5.4 -5.2 5.4 -5.1 6.4 -6.1 6.3 -6.1 6.4 -6 6.3 -6.1 6.4 -6 6.4 -6 6.3 -5.9 6.4 -5.9 6.3 -5.8 6.4 -5.8 6.4 -5.6 6.3 -5.5 6.4 -5.3 6.3 -5 6.4 -4.8 6.4 -4.5 6.3 -4.2 6.4 -3.8 6.3 -3.5 6.4 -3.1 M111.9 215.7l2.1 -2 2.1 -2.1 2.2 -2 2.1 -2 2.1 -2.1 2.1 -2 2.1 -2.1 2.2 -2 2.1 -2 2.1 -2.1 2.1 -2 2.1 -2 5.4 -5.2 5.4 -5.2 5.4 -5.2 5.4 -5.1 5.4 -5.2 5.4 -5.2 5.4 -5.1 5.4 -5.2 5.4 -5.2 5.4 -5.1 5.4 -5.2 6.4 -6.1 6.3 -6 6.4 -6.1 6.3 -6 6.4 -6 6.4 -6 6.3 -6 6.4 -5.8 6.3 -5.9 6.4 -5.7 6.4 -5.6 6.3 -5.5 6.4 -5.3 6.3 -5.1 6.4 -4.8 6.4 -4.4 6.3 -4.2 6.4 -3.8 6.3 -3.5 6.4 -3.2 M111.9 216l2.1 -2 2.1 -2 2.2 -2.1 2.1 -2 2.1 -2 2.1 -2.1 2.1 -2 2.2 -2 2.1 -2.1 2.1 -2 2.1 -2.1 2.1 -2 5.4 -5.2 5.4 -5.1 5.4 -5.2 5.4 -5.2 5.4 -5.2 5.4 -5.1 5.4 -5.2 5.4 -5.2 5.4 -5.1 5.4 -5.2 5.4 -5.2 6.4 -6 6.3 -6.1 6.4 -6 6.3 -6.1 6.4 -6 6.4 -6 6.3 -5.9 6.4 -6 6.3 -5.8 6.4 -5.7 6.4 -5.7 6.3 -5.5 6.4 -5.3 6.3 -5 6.4 -4.8 6.4 -4.5 6.3 -4.2 6.4 -3.8 6.3 -3.5 6.4 -3.2 M111.9 216.3l2.1 -2 2.1 -2 2.2 -2.1 2.1 -2 2.1 -2.1 2.1 -2 2.1 -2 2.2 -2.1 2.1 -2 2.1 -2 2.1 -2.1 2.1 -2 5.4 -5.2 5.4 -5.2 5.4 -5.1 5.4 -5.2 5.4 -5.2 5.4 -5.2 5.4 -5.1 5.4 -5.2 5.4 -5.2 5.4 -5.1 5.4 -5.2 6.4 -6.1 6.3 -6 6.4 -6.1 6.3 -6 6.4 -6 6.4 -6 6.3 -6 6.4 -5.9 6.3 -5.8 6.4 -5.8 6.4 -5.6 6.3 -5.5 6.4 -5.3 6.3 -5.1 6.4 -4.8 6.4 -4.6 6.3 -4.1 6.4 -3.9 6.3 -3.5 6.4 -3.2 M111.9 216.6l2.1 -2.1 2.1 -2 2.2 -2 2.1 -2.1 2.1 -2 2.1 -2.1 2.1 -2 2.2 -2 2.1 -2.1 2.1 -2 2.1 -2 2.1 -2.1 5.4 -5.2 5.4 -5.1 5.4 -5.2 5.4 -5.2 5.4 -5.2 5.4 -5.1 5.4 -5.2 5.4 -5.2 5.4 -5.1 5.4 -5.2 5.4 -5.2 6.4 -6 6.3 -6.1 6.4 -6.1 6.3 -6 6.4 -6 6.4 -6 6.3 -6 6.4 -5.9 6.3 -5.8 6.4 -5.8 6.4 -5.6 6.3 -5.5 6.4 -5.4 6.3 -5.1 6.4 -4.8 6.4 -4.5 6.3 -4.2 6.4 -3.9 6.3 -3.5 6.4 -3.2 M111.9 216.5l2.1 -2 2.1 -2 2.2 -2.1 2.1 -2 2.1 -2 2.1 -2.1 2.1 -2 2.2 -2 2.1 -2.1 2.1 -2 2.1 -2.1 2.1 -2 5.4 -5.2 5.4 -5.1 5.4 -5.2 5.4 -5.2 5.4 -5.2 5.4 -5.1 5.4 -5.2 5.4 -5.2 5.4 -5.1 5.4 -5.2 5.4 -5.2 6.4 -6 6.3 -6.1 6.4 -6.1 6.3 -6 6.4 -6 6.4 -6 6.3 -6 6.4 -5.9 6.3 -5.8 6.4 -5.8 6.4 -5.7 6.3 -5.5 6.4 -5.3 6.3 -5.1 6.4 -4.8 6.4 -4.5 6.3 -4.2 6.4 -3.9 6.3 -3.5 6.4 -3.2 M111.9 217l2.1 -2 2.1 -2 2.2 -2.1 2.1 -2 2.1 -2 2.1 -2.1 2.1 -2 2.2 -2 2.1 -2.1 2.1 -2 2.1 -2.1 2.1 -2 5.4 -5.2 5.4 -5.1 5.4 -5.2 5.4 -5.2 5.4 -5.2 5.4 -5.1 5.4 -5.2 5.4 -5.2 5.4 -5.2 5.4 -5.1 5.4 -5.2 6.4 -6.1 6.3 -6 6.4 -6.1 6.3 -6 6.4 -6.1 6.4 -6 6.3 -5.9 6.4 -6 6.3 -5.8 6.4 -5.8 6.4 -5.6 6.3 -5.6 6.4 -5.3 6.3 -5.1 6.4 -4.9 6.4 -4.5 6.3 -4.2 6.4 -3.9 6.3 -3.6 6.4 -3.2 M111.9 217.5l2.1 -2 2.1 -2 2.2 -2.1 2.1 -2 2.1 -2 2.1 -2.1 2.1 -2 2.2 -2 2.1 -2.1 2.1 -2 2.1 -2.1 2.1 -2 5.4 -5.2 5.4 -5.1 5.4 -5.2 5.4 -5.2 5.4 -5.2 5.4 -5.2 5.4 -5.1 5.4 -5.2 5.4 -5.2 5.4 -5.1 5.4 -5.2 6.4 -6.1 6.3 -6.1 6.4 -6 6.3 -6.1 6.4 -6 6.4 -6 6.3 -6 6.4 -5.9 6.3 -5.9 6.4 -5.8 6.4 -5.6 6.3 -5.6 6.4 -5.3 6.3 -5.2 6.4 -4.8 6.4 -4.6 6.3 -4.3 6.4 -3.9 6.3 -3.6 6.4 -3.2 M111.9 217.2l2.1 -2 2.1 -2.1 2.2 -2 2.1 -2 2.1 -2.1 2.1 -2 2.1 -2 2.2 -2.1 2.1 -2 2.1 -2.1 2.1 -2 2.1 -2 5.4 -5.2 5.4 -5.2 5.4 -5.2 5.4 -5.1 5.4 -5.2 5.4 -5.2 5.4 -5.2 5.4 -5.1 5.4 -5.2 5.4 -5.2 5.4 -5.1 6.4 -6.1 6.3 -6.1 6.4 -6 6.3 -6.1 6.4 -6 6.4 -6 6.3 -6 6.4 -5.9 6.3 -5.9 6.4 -5.7 6.4 -5.7 6.3 -5.5 6.4 -5.4 6.3 -5.1 6.4 -4.9 6.4 -4.5 6.3 -4.3 6.4 -3.9 6.3 -3.5 6.4 -3.3 M111.9 217.9l2.1 -2 2.1 -2 2.2 -2.1 2.1 -2 2.1 -2.1 2.1 -2 2.1 -2 2.2 -2.1 2.1 -2 2.1 -2 2.1 -2.1 2.1 -2 5.4 -5.2 5.4 -5.2 5.4 -5.1 5.4 -5.2 5.4 -5.2 5.4 -5.2 5.4 -5.2 5.4 -5.1 5.4 -5.2 5.4 -5.2 5.4 -5.1 6.4 -6.1 6.3 -6.1 6.4 -6.1 6.3 -6 6.4 -6 6.4 -6.1 6.3 -5.9 6.4 -6 6.3 -5.8 6.4 -5.8 6.4 -5.7 6.3 -5.6 6.4 -5.3 6.3 -5.2 6.4 -4.9 6.4 -4.6 6.3 -4.3 6.4 -3.9 6.3 -3.6 6.4 -3.3 M111.9 218l2.1 -2 2.1 -2 2.2 -2.1 2.1 -2 2.1 -2.1 2.1 -2 2.1 -2 2.2 -2.1 2.1 -2 2.1 -2 2.1 -2.1 2.1 -2 5.4 -5.2 5.4 -5.2 5.4 -5.2 5.4 -5.1 5.4 -5.2 5.4 -5.2 5.4 -5.2 5.4 -5.1 5.4 -5.2 5.4 -5.2 5.4 -5.1 6.4 -6.1 6.3 -6.1 6.4 -6.1 6.3 -6 6.4 -6.1 6.4 -6 6.3 -6 6.4 -5.9 6.3 -5.9 6.4 -5.8 6.4 -5.6 6.3 -5.6 6.4 -5.4 6.3 -5.1 6.4 -4.9 6.4 -4.6 6.3 -4.3 6.4 -3.9 6.3 -3.6 6.4 -3.3 M111.9 218.1l2.1 -2 2.1 -2.1 2.2 -2 2.1 -2 2.1 -2.1 2.1 -2 2.1 -2 2.2 -2.1 2.1 -2 2.1 -2 2.1 -2.1 2.1 -2 5.4 -5.2 5.4 -5.2 5.4 -5.2 5.4 -5.1 5.4 -5.2 5.4 -5.2 5.4 -5.2 5.4 -5.1 5.4 -5.2 5.4 -5.2 5.4 -5.2 6.4 -6 6.3 -6.1 6.4 -6.1 6.3 -6 6.4 -6.1 6.4 -6 6.3 -6 6.4 -5.9 6.3 -5.9 6.4 -5.8 6.4 -5.7 6.3 -5.5 6.4 -5.4 6.3 -5.2 6.4 -4.9 6.4 -4.6 6.3 -4.2 6.4 -4 6.3 -3.6 6.4 -3.3 M111.9 218.9l2.1 -2 2.1 -2.1 2.2 -2 2.1 -2.1 2.1 -2 2.1 -2 2.1 -2.1 2.2 -2 2.1 -2 2.1 -2.1 2.1 -2 2.1 -2.1 5.4 -5.1 5.4 -5.2 5.4 -5.2 5.4 -5.2 5.4 -5.2 5.4 -5.1 5.4 -5.2 5.4 -5.2 5.4 -5.2 5.4 -5.1 5.4 -5.2 6.4 -6.1 6.3 -6.1 6.4 -6.1 6.3 -6 6.4 -6.1 6.4 -6 6.3 -6 6.4 -5.9 6.3 -5.9 6.4 -5.8 6.4 -5.7 6.3 -5.6 6.4 -5.4 6.3 -5.2 6.4 -4.9 6.4 -4.7 6.3 -4.3 6.4 -4 6.3 -3.6 6.4 -3.4 M111.9 218.9l2.1 -2.1 2.1 -2 2.2 -2 2.1 -2.1 2.1 -2 2.1 -2 2.1 -2.1 2.2 -2 2.1 -2 2.1 -2.1 2.1 -2 2.1 -2.1 5.4 -5.1 5.4 -5.2 5.4 -5.2 5.4 -5.2 5.4 -5.2 5.4 -5.1 5.4 -5.2 5.4 -5.2 5.4 -5.2 5.4 -5.1 5.4 -5.2 6.4 -6.1 6.3 -6.1 6.4 -6.1 6.3 -6 6.4 -6.1 6.4 -6 6.3 -6 6.4 -5.9 6.3 -5.9 6.4 -5.8 6.4 -5.7 6.3 -5.6 6.4 -5.4 6.3 -5.2 6.4 -4.9 6.4 -4.7 6.3 -4.3 6.4 -4 6.3 -3.7 6.4 -3.3 M111.9 218.7l2.1 -2 2.1 -2 2.2 -2.1 2.1 -2 2.1 -2.1 2.1 -2 2.1 -2 2.2 -2.1 2.1 -2 2.1 -2 2.1 -2.1 2.1 -2 5.4 -5.2 5.4 -5.2 5.4 -5.2 5.4 -5.1 5.4 -5.2 5.4 -5.2 5.4 -5.2 5.4 -5.1 5.4 -5.2 5.4 -5.2 5.4 -5.2 6.4 -6 6.3 -6.1 6.4 -6.1 6.3 -6.1 6.4 -6 6.4 -6 6.3 -6 6.4 -6 6.3 -5.8 6.4 -5.9 6.4 -5.7 6.3 -5.5 6.4 -5.4 6.3 -5.2 6.4 -4.9 6.4 -4.7 6.3 -4.3 6.4 -4 6.3 -3.6 6.4 -3.3 M111.9 219.2l2.1 -2 2.1 -2 2.2 -2.1 2.1 -2 2.1 -2.1 2.1 -2 2.1 -2 2.2 -2.1 2.1 -2 2.1 -2 2.1 -2.1 2.1 -2 5.4 -5.2 5.4 -5.2 5.4 -5.2 5.4 -5.1 5.4 -5.2 5.4 -5.2 5.4 -5.2 5.4 -5.2 5.4 -5.1 5.4 -5.2 5.4 -5.2 6.4 -6.1 6.3 -6.1 6.4 -6 6.3 -6.1 6.4 -6 6.4 -6.1 6.3 -6 6.4 -5.9 6.3 -5.9 6.4 -5.8 6.4 -5.7 6.3 -5.6 6.4 -5.4 6.3 -5.3 6.4 -4.9 6.4 -4.7 6.3 -4.3 6.4 -4 6.3 -3.7 6.4 -3.3 M111.9 219.6l2.1 -2.1 2.1 -2 2.2 -2 2.1 -2.1 2.1 -2 2.1 -2 2.1 -2.1 2.2 -2 2.1 -2.1 2.1 -2 2.1 -2 2.1 -2.1 5.4 -5.2 5.4 -5.1 5.4 -5.2 5.4 -5.2 5.4 -5.2 5.4 -5.2 5.4 -5.1 5.4 -5.2 5.4 -5.2 5.4 -5.2 5.4 -5.1 6.4 -6.1 6.3 -6.1 6.4 -6.1 6.3 -6.1 6.4 -6 6.4 -6.1 6.3 -5.9 6.4 -6 6.3 -5.9 6.4 -5.8 6.4 -5.8 6.3 -5.6 6.4 -5.4 6.3 -5.2 6.4 -5 6.4 -4.7 6.3 -4.3 6.4 -4 6.3 -3.7 6.4 -3.4 M111.9 219.7l2.1 -2.1 2.1 -2 2.2 -2 2.1 -2.1 2.1 -2 2.1 -2.1 2.1 -2 2.2 -2 2.1 -2.1 2.1 -2 2.1 -2 2.1 -2.1 5.4 -5.2 5.4 -5.1 5.4 -5.2 5.4 -5.2 5.4 -5.2 5.4 -5.2 5.4 -5.2 5.4 -5.1 5.4 -5.2 5.4 -5.2 5.4 -5.2 6.4 -6.1 6.3 -6 6.4 -6.1 6.3 -6.1 6.4 -6 6.4 -6.1 6.3 -6 6.4 -5.9 6.3 -5.9 6.4 -5.9 6.4 -5.7 6.3 -5.6 6.4 -5.4 6.3 -5.2 6.4 -5 6.4 -4.7 6.3 -4.4 6.4 -4 6.3 -3.7 6.4 -3.3 M111.9 220.1l2.1 -2.1 2.1 -2 2.2 -2 2.1 -2.1 2.1 -2 2.1 -2 2.1 -2.1 2.2 -2 2.1 -2.1 2.1 -2 2.1 -2 2.1 -2.1 5.4 -5.1 5.4 -5.2 5.4 -5.2 5.4 -5.2 5.4 -5.2 5.4 -5.2 5.4 -5.1 5.4 -5.2 5.4 -5.2 5.4 -5.2 5.4 -5.2 6.4 -6.1 6.3 -6 6.4 -6.1 6.3 -6.1 6.4 -6.1 6.4 -6 6.3 -6 6.4 -6 6.3 -5.9 6.4 -5.8 6.4 -5.7 6.3 -5.7 6.4 -5.4 6.3 -5.2 6.4 -5 6.4 -4.7 6.3 -4.4 6.4 -4.1 6.3 -3.7 6.4 -3.4 M111.9 220.2l2.1 -2.1 2.1 -2 2.2 -2 2.1 -2.1 2.1 -2 2.1 -2.1 2.1 -2 2.2 -2 2.1 -2.1 2.1 -2 2.1 -2 2.1 -2.1 5.4 -5.2 5.4 -5.1 5.4 -5.2 5.4 -5.2 5.4 -5.2 5.4 -5.2 5.4 -5.2 5.4 -5.1 5.4 -5.2 5.4 -5.2 5.4 -5.2 6.4 -6.1 6.3 -6.1 6.4 -6 6.3 -6.1 6.4 -6.1 6.4 -6 6.3 -6 6.4 -6 6.3 -5.9 6.4 -5.8 6.4 -5.8 6.3 -5.6 6.4 -5.4 6.3 -5.3 6.4 -5 6.4 -4.7 6.3 -4.4 6.4 -4 6.3 -3.7 6.4 -3.4 M111.9 220.6l2.1 -2.1 2.1 -2 2.2 -2.1 2.1 -2 2.1 -2 2.1 -2.1 2.1 -2 2.2 -2 2.1 -2.1 2.1 -2 2.1 -2 2.1 -2.1 5.4 -5.2 5.4 -5.2 5.4 -5.1 5.4 -5.2 5.4 -5.2 5.4 -5.2 5.4 -5.2 5.4 -5.2 5.4 -5.1 5.4 -5.2 5.4 -5.2 6.4 -6.1 6.3 -6.1 6.4 -6.1 6.3 -6 6.4 -6.1 6.4 -6 6.3 -6.1 6.4 -5.9 6.3 -5.9 6.4 -5.9 6.4 -5.7 6.3 -5.7 6.4 -5.4 6.3 -5.3 6.4 -5 6.4 -4.7 6.3 -4.4 6.4 -4.1 6.3 -3.8 6.4 -3.4 M111.9 221l2.1 -2.1 2.1 -2 2.2 -2.1 2.1 -2 2.1 -2 2.1 -2.1 2.1 -2 2.2 -2 2.1 -2.1 2.1 -2 2.1 -2 2.1 -2.1 5.4 -5.2 5.4 -5.2 5.4 -5.1 5.4 -5.2 5.4 -5.2 5.4 -5.2 5.4 -5.2 5.4 -5.2 5.4 -5.1 5.4 -5.2 5.4 -5.2 6.4 -6.1 6.3 -6.1 6.4 -6.1 6.3 -6 6.4 -6.1 6.4 -6 6.3 -6.1 6.4 -5.9 6.3 -6 6.4 -5.8 6.4 -5.8 6.3 -5.6 6.4 -5.5 6.3 -5.2 6.4 -5.1 6.4 -4.7 6.3 -4.5 6.4 -4.1 6.3 -3.7 6.4 -3.4 M111.9 220.8l2.1 -2.1 2.1 -2 2.2 -2 2.1 -2.1 2.1 -2 2.1 -2 2.1 -2.1 2.2 -2 2.1 -2.1 2.1 -2 2.1 -2 2.1 -2.1 5.4 -5.2 5.4 -5.1 5.4 -5.2 5.4 -5.2 5.4 -5.2 5.4 -5.2 5.4 -5.2 5.4 -5.1 5.4 -5.2 5.4 -5.2 5.4 -5.2 6.4 -6.1 6.3 -6.1 6.4 -6.1 6.3 -6 6.4 -6.1 6.4 -6 6.3 -6 6.4 -6 6.3 -5.9 6.4 -5.9 6.4 -5.7 6.3 -5.7 6.4 -5.4 6.3 -5.3 6.4 -5 6.4 -4.8 6.3 -4.4 6.4 -4.1 6.3 -3.7 6.4 -3.4 M111.9 221.2l2.1 -2 2.1 -2.1 2.2 -2 2.1 -2.1 2.1 -2 2.1 -2 2.1 -2.1 2.2 -2 2.1 -2 2.1 -2.1 2.1 -2 2.1 -2 5.4 -5.2 5.4 -5.2 5.4 -5.2 5.4 -5.2 5.4 -5.2 5.4 -5.2 5.4 -5.1 5.4 -5.2 5.4 -5.2 5.4 -5.2 5.4 -5.2 6.4 -6.1 6.3 -6.1 6.4 -6 6.3 -6.1 6.4 -6.1 6.4 -6 6.3 -6 6.4 -6 6.3 -5.9 6.4 -5.9 6.4 -5.7 6.3 -5.7 6.4 -5.5 6.3 -5.2 6.4 -5.1 6.4 -4.8 6.3 -4.4 6.4 -4.1 6.3 -3.8 6.4 -3.4 M111.9 221.3l2.1 -2 2.1 -2.1 2.2 -2 2.1 -2 2.1 -2.1 2.1 -2 2.1 -2.1 2.2 -2 2.1 -2 2.1 -2.1 2.1 -2 2.1 -2 5.4 -5.2 5.4 -5.2 5.4 -5.2 5.4 -5.2 5.4 -5.2 5.4 -5.1 5.4 -5.2 5.4 -5.2 5.4 -5.2 5.4 -5.2 5.4 -5.2 6.4 -6 6.3 -6.1 6.4 -6.1 6.3 -6.1 6.4 -6.1 6.4 -6 6.3 -6 6.4 -6 6.3 -5.9 6.4 -5.9 6.4 -5.7 6.3 -5.7 6.4 -5.5 6.3 -5.3 6.4 -5 6.4 -4.8 6.3 -4.4 6.4 -4.1 6.3 -3.8 6.4 -3.5 M111.9 221.7l2.1 -2.1 2.1 -2 2.2 -2 2.1 -2.1 2.1 -2 2.1 -2.1 2.1 -2 2.2 -2 2.1 -2.1 2.1 -2 2.1 -2 2.1 -2.1 5.4 -5.2 5.4 -5.1 5.4 -5.2 5.4 -5.2 5.4 -5.2 5.4 -5.2 5.4 -5.2 5.4 -5.2 5.4 -5.1 5.4 -5.2 5.4 -5.2 6.4 -6.1 6.3 -6.1 6.4 -6.1 6.3 -6 6.4 -6.1 6.4 -6.1 6.3 -6 6.4 -5.9 6.3 -6 6.4 -5.8 6.4 -5.8 6.3 -5.7 6.4 -5.4 6.3 -5.3 6.4 -5.1 6.4 -4.8 6.3 -4.5 6.4 -4.1 6.3 -3.8 6.4 -3.5 M111.9 221.6l2.1 -2 2.1 -2 2.2 -2.1 2.1 -2 2.1 -2 2.1 -2.1 2.1 -2 2.2 -2.1 2.1 -2 2.1 -2 2.1 -2.1 2.1 -2 5.4 -5.2 5.4 -5.2 5.4 -5.2 5.4 -5.1 5.4 -5.2 5.4 -5.2 5.4 -5.2 5.4 -5.2 5.4 -5.2 5.4 -5.1 5.4 -5.2 6.4 -6.1 6.3 -6.1 6.4 -6.1 6.3 -6.1 6.4 -6 6.4 -6.1 6.3 -6 6.4 -6 6.3 -5.9 6.4 -5.9 6.4 -5.7 6.3 -5.7 6.4 -5.5 6.3 -5.3 6.4 -5 6.4 -4.8 6.3 -4.5 6.4 -4.1 6.3 -3.8 6.4 -3.5 M111.9 222l2.1 -2 2.1 -2.1 2.2 -2 2.1 -2 2.1 -2.1 2.1 -2 2.1 -2.1 2.2 -2 2.1 -2 2.1 -2.1 2.1 -2 2.1 -2 5.4 -5.2 5.4 -5.2 5.4 -5.2 5.4 -5.2 5.4 -5.2 5.4 -5.1 5.4 -5.2 5.4 -5.2 5.4 -5.2 5.4 -5.2 5.4 -5.1 6.4 -6.1 6.3 -6.1 6.4 -6.1 6.3 -6.1 6.4 -6.1 6.4 -6 6.3 -6 6.4 -6 6.3 -5.9 6.4 -5.9 6.4 -5.8 6.3 -5.6 6.4 -5.5 6.3 -5.4 6.4 -5 6.4 -4.8 6.3 -4.5 6.4 -4.2 6.3 -3.8 6.4 -3.5 M111.9 222.3l2.1 -2 2.1 -2 2.2 -2.1 2.1 -2 2.1 -2.1 2.1 -2 2.1 -2 2.2 -2.1 2.1 -2 2.1 -2 2.1 -2.1 2.1 -2 5.4 -5.2 5.4 -5.2 5.4 -5.2 5.4 -5.2 5.4 -5.1 5.4 -5.2 5.4 -5.2 5.4 -5.2 5.4 -5.2 5.4 -5.2 5.4 -5.1 6.4 -6.1 6.3 -6.1 6.4 -6.1 6.3 -6.1 6.4 -6.1 6.4 -6 6.3 -6 6.4 -6 6.3 -5.9 6.4 -5.9 6.4 -5.8 6.3 -5.6 6.4 -5.6 6.3 -5.3 6.4 -5.1 6.4 -4.8 6.3 -4.5 6.4 -4.2 6.3 -3.8 6.4 -3.5 M111.9 222.8l2.1 -2 2.1 -2.1 2.2 -2 2.1 -2.1 2.1 -2 2.1 -2 2.1 -2.1 2.2 -2 2.1 -2 2.1 -2.1 2.1 -2 2.1 -2.1 5.4 -5.1 5.4 -5.2 5.4 -5.2 5.4 -5.2 5.4 -5.2 5.4 -5.2 5.4 -5.1 5.4 -5.2 5.4 -5.2 5.4 -5.2 5.4 -5.2 6.4 -6.1 6.3 -6.1 6.4 -6.1 6.3 -6 6.4 -6.1 6.4 -6 6.3 -6.1 6.4 -6 6.3 -5.9 6.4 -5.9 6.4 -5.8 6.3 -5.6 6.4 -5.6 6.3 -5.3 6.4 -5.1 6.4 -4.8 6.3 -4.6 6.4 -4.2 6.3 -3.8 6.4 -3.6 M111.9 223.1l2.1 -2.1 2.1 -2 2.2 -2 2.1 -2.1 2.1 -2 2.1 -2 2.1 -2.1 2.2 -2 2.1 -2.1 2.1 -2 2.1 -2 2.1 -2.1 5.4 -5.1 5.4 -5.2 5.4 -5.2 5.4 -5.2 5.4 -5.2 5.4 -5.2 5.4 -5.2 5.4 -5.1 5.4 -5.2 5.4 -5.2 5.4 -5.2 6.4 -6.1 6.3 -6.1 6.4 -6.1 6.3 -6 6.4 -6.1 6.4 -6.1 6.3 -6 6.4 -6 6.3 -5.9 6.4 -5.9 6.4 -5.8 6.3 -5.7 6.4 -5.5 6.3 -5.3 6.4 -5.2 6.4 -4.8 6.3 -4.6 6.4 -4.2 6.3 -3.9 6.4 -3.5 M111.9 222.8l2.1 -2 2.1 -2 2.2 -2.1 2.1 -2 2.1 -2.1 2.1 -2 2.1 -2 2.2 -2.1 2.1 -2 2.1 -2 2.1 -2.1 2.1 -2 5.4 -5.2 5.4 -5.2 5.4 -5.2 5.4 -5.2 5.4 -5.1 5.4 -5.2 5.4 -5.2 5.4 -5.2 5.4 -5.2 5.4 -5.2 5.4 -5.1 6.4 -6.1 6.3 -6.1 6.4 -6.1 6.3 -6.1 6.4 -6.1 6.4 -6 6.3 -6 6.4 -6 6.3 -6 6.4 -5.8 6.4 -5.8 6.3 -5.7 6.4 -5.5 6.3 -5.4 6.4 -5.1 6.4 -4.8 6.3 -4.5 6.4 -4.3 6.3 -3.8 6.4 -3.5 M111.9 223.2l2.1 -2.1 2.1 -2 2.2 -2 2.1 -2.1 2.1 -2 2.1 -2 2.1 -2.1 2.2 -2 2.1 -2.1 2.1 -2 2.1 -2 2.1 -2.1 5.4 -5.2 5.4 -5.1 5.4 -5.2 5.4 -5.2 5.4 -5.2 5.4 -5.2 5.4 -5.2 5.4 -5.1 5.4 -5.2 5.4 -5.2 5.4 -5.2 6.4 -6.1 6.3 -6.1 6.4 -6.1 6.3 -6 6.4 -6.1 6.4 -6.1 6.3 -6 6.4 -6 6.3 -5.9 6.4 -5.9 6.4 -5.8 6.3 -5.7 6.4 -5.5 6.3 -5.4 6.4 -5.1 6.4 -4.8 6.3 -4.6 6.4 -4.2 6.3 -3.9 6.4 -3.5 M111.9 223.7l2.1 -2 2.1 -2.1 2.2 -2 2.1 -2 2.1 -2.1 2.1 -2 2.1 -2.1 2.2 -2 2.1 -2 2.1 -2.1 2.1 -2 2.1 -2 5.4 -5.2 5.4 -5.2 5.4 -5.2 5.4 -5.2 5.4 -5.2 5.4 -5.1 5.4 -5.2 5.4 -5.2 5.4 -5.2 5.4 -5.2 5.4 -5.2 6.4 -6.1 6.3 -6 6.4 -6.1 6.3 -6.1 6.4 -6.1 6.4 -6 6.3 -6.1 6.4 -6 6.3 -5.9 6.4 -5.9 6.4 -5.8 6.3 -5.7 6.4 -5.5 6.3 -5.4 6.4 -5.1 6.4 -4.9 6.3 -4.6 6.4 -4.3 6.3 -3.9 6.4 -3.5 M111.9 223.4l2.1 -2 2.1 -2.1 2.2 -2 2.1 -2 2.1 -2.1 2.1 -2 2.1 -2 2.2 -2.1 2.1 -2 2.1 -2 2.1 -2.1 2.1 -2 5.4 -5.2 5.4 -5.2 5.4 -5.2 5.4 -5.2 5.4 -5.1 5.4 -5.2 5.4 -5.2 5.4 -5.2 5.4 -5.2 5.4 -5.2 5.4 -5.1 6.4 -6.1 6.3 -6.1 6.4 -6.1 6.3 -6.1 6.4 -6.1 6.4 -6 6.3 -6 6.4 -6 6.3 -6 6.4 -5.9 6.4 -5.8 6.3 -5.6 6.4 -5.6 6.3 -5.3 6.4 -5.2 6.4 -4.9 6.3 -4.5 6.4 -4.3 6.3 -3.9 6.4 -3.5 M111.9 224l2.1 -2.1 2.1 -2 2.2 -2 2.1 -2.1 2.1 -2 2.1 -2.1 2.1 -2 2.2 -2 2.1 -2.1 2.1 -2 2.1 -2 2.1 -2.1 5.4 -5.2 5.4 -5.1 5.4 -5.2 5.4 -5.2 5.4 -5.2 5.4 -5.2 5.4 -5.2 5.4 -5.1 5.4 -5.2 5.4 -5.2 5.4 -5.2 6.4 -6.1 6.3 -6.1 6.4 -6.1 6.3 -6.1 6.4 -6 6.4 -6.1 6.3 -6 6.4 -6 6.3 -5.9 6.4 -5.9 6.4 -5.8 6.3 -5.7 6.4 -5.6 6.3 -5.4 6.4 -5.1 6.4 -4.9 6.3 -4.6 6.4 -4.3 6.3 -3.9 6.4 -3.6 M111.9 224.3l2.1 -2.1 2.1 -2 2.2 -2 2.1 -2.1 2.1 -2 2.1 -2 2.1 -2.1 2.2 -2 2.1 -2 2.1 -2.1 2.1 -2 2.1 -2.1 5.4 -5.1 5.4 -5.2 5.4 -5.2 5.4 -5.2 5.4 -5.2 5.4 -5.2 5.4 -5.1 5.4 -5.2 5.4 -5.2 5.4 -5.2 5.4 -5.2 6.4 -6.1 6.3 -6.1 6.4 -6.1 6.3 -6 6.4 -6.1 6.4 -6.1 6.3 -6 6.4 -6 6.3 -5.9 6.4 -5.9 6.4 -5.8 6.3 -5.7 6.4 -5.6 6.3 -5.4 6.4 -5.2 6.4 -4.9 6.3 -4.6 6.4 -4.3 6.3 -3.9 6.4 -3.6 M111.9 224.8l2.1 -2 2.1 -2.1 2.2 -2 2.1 -2 2.1 -2.1 2.1 -2 2.1 -2.1 2.2 -2 2.1 -2 2.1 -2.1 2.1 -2 2.1 -2 5.4 -5.2 5.4 -5.2 5.4 -5.2 5.4 -5.2 5.4 -5.2 5.4 -5.2 5.4 -5.1 5.4 -5.2 5.4 -5.2 5.4 -5.2 5.4 -5.2 6.4 -6.1 6.3 -6.1 6.4 -6 6.3 -6.1 6.4 -6.1 6.4 -6.1 6.3 -6 6.4 -6 6.3 -5.9 6.4 -5.9 6.4 -5.9 6.3 -5.7 6.4 -5.6 6.3 -5.4 6.4 -5.1 6.4 -5 6.3 -4.6 6.4 -4.3 6.3 -4 6.4 -3.6 M111.9 224.9l2.1 -2 2.1 -2 2.2 -2.1 2.1 -2 2.1 -2.1 2.1 -2 2.1 -2 2.2 -2.1 2.1 -2 2.1 -2 2.1 -2.1 2.1 -2 5.4 -5.2 5.4 -5.2 5.4 -5.2 5.4 -5.2 5.4 -5.1 5.4 -5.2 5.4 -5.2 5.4 -5.2 5.4 -5.2 5.4 -5.2 5.4 -5.1 6.4 -6.1 6.3 -6.1 6.4 -6.1 6.3 -6.1 6.4 -6.1 6.4 -6 6.3 -6.1 6.4 -6 6.3 -5.9 6.4 -5.9 6.4 -5.8 6.3 -5.8 6.4 -5.5 6.3 -5.4 6.4 -5.2 6.4 -5 6.3 -4.6 6.4 -4.3 6.3 -4 6.4 -3.7 M111.9 225l2.1 -2.1 2.1 -2 2.2 -2 2.1 -2.1 2.1 -2 2.1 -2.1 2.1 -2 2.2 -2 2.1 -2.1 2.1 -2 2.1 -2 2.1 -2.1 5.4 -5.2 5.4 -5.1 5.4 -5.2 5.4 -5.2 5.4 -5.2 5.4 -5.2 5.4 -5.2 5.4 -5.2 5.4 -5.1 5.4 -5.2 5.4 -5.2 6.4 -6.1 6.3 -6.1 6.4 -6.1 6.3 -6.1 6.4 -6 6.4 -6.1 6.3 -6 6.4 -6 6.3 -6 6.4 -5.9 6.4 -5.8 6.3 -5.7 6.4 -5.6 6.3 -5.4 6.4 -5.2 6.4 -4.9 6.3 -4.7 6.4 -4.3 6.3 -4 6.4 -3.6 M111.9 225.2l2.1 -2 2.1 -2.1 2.2 -2 2.1 -2 2.1 -2.1 2.1 -2 2.1 -2.1 2.2 -2 2.1 -2 2.1 -2.1 2.1 -2 2.1 -2 5.4 -5.2 5.4 -5.2 5.4 -5.2 5.4 -5.2 5.4 -5.2 5.4 -5.2 5.4 -5.1 5.4 -5.2 5.4 -5.2 5.4 -5.2 5.4 -5.2 6.4 -6.1 6.3 -6.1 6.4 -6 6.3 -6.1 6.4 -6.1 6.4 -6.1 6.3 -6 6.4 -6 6.3 -6 6.4 -5.9 6.4 -5.8 6.3 -5.7 6.4 -5.6 6.3 -5.4 6.4 -5.2 6.4 -5 6.3 -4.6 6.4 -4.4 6.3 -4 6.4 -3.6 M111.9 225.5l2.1 -2.1 2.1 -2 2.2 -2 2.1 -2.1 2.1 -2 2.1 -2.1 2.1 -2 2.2 -2 2.1 -2.1 2.1 -2 2.1 -2 2.1 -2.1 5.4 -5.2 5.4 -5.1 5.4 -5.2 5.4 -5.2 5.4 -5.2 5.4 -5.2 5.4 -5.2 5.4 -5.2 5.4 -5.1 5.4 -5.2 5.4 -5.2 6.4 -6.1 6.3 -6.1 6.4 -6.1 6.3 -6.1 6.4 -6 6.4 -6.1 6.3 -6 6.4 -6 6.3 -6 6.4 -5.9 6.4 -5.8 6.3 -5.8 6.4 -5.6 6.3 -5.4 6.4 -5.2 6.4 -5 6.3 -4.6 6.4 -4.4 6.3 -4 6.4 -3.7 M111.9 226.1l2.1 -2.1 2.1 -2 2.2 -2 2.1 -2.1 2.1 -2 2.1 -2.1 2.1 -2 2.2 -2 2.1 -2.1 2.1 -2 2.1 -2 2.1 -2.1 5.4 -5.2 5.4 -5.1 5.4 -5.2 5.4 -5.2 5.4 -5.2 5.4 -5.2 5.4 -5.2 5.4 -5.2 5.4 -5.1 5.4 -5.2 5.4 -5.2 6.4 -6.1 6.3 -6.1 6.4 -6.1 6.3 -6.1 6.4 -6 6.4 -6.1 6.3 -6 6.4 -6 6.3 -6 6.4 -5.9 6.4 -5.9 6.3 -5.7 6.4 -5.6 6.3 -5.5 6.4 -5.2 6.4 -5 6.3 -4.7 6.4 -4.4 6.3 -4 6.4 -3.7 M111.9 225.9l2.1 -2 2.1 -2.1 2.2 -2 2.1 -2 2.1 -2.1 2.1 -2 2.1 -2 2.2 -2.1 2.1 -2 2.1 -2.1 2.1 -2 2.1 -2 5.4 -5.2 5.4 -5.2 5.4 -5.2 5.4 -5.2 5.4 -5.2 5.4 -5.1 5.4 -5.2 5.4 -5.2 5.4 -5.2 5.4 -5.2 5.4 -5.1 6.4 -6.1 6.3 -6.1 6.4 -6.1 6.3 -6.1 6.4 -6.1 6.4 -6 6.3 -6.1 6.4 -6 6.3 -6 6.4 -5.9 6.4 -5.8 6.3 -5.7 6.4 -5.6 6.3 -5.5 6.4 -5.2 6.4 -5 6.3 -4.7 6.4 -4.4 6.3 -4 6.4 -3.7 M111.9 226.2l2.1 -2.1 2.1 -2 2.2 -2 2.1 -2.1 2.1 -2 2.1 -2 2.1 -2.1 2.2 -2 2.1 -2 2.1 -2.1 2.1 -2 2.1 -2.1 5.4 -5.1 5.4 -5.2 5.4 -5.2 5.4 -5.2 5.4 -5.2 5.4 -5.2 5.4 -5.2 5.4 -5.1 5.4 -5.2 5.4 -5.2 5.4 -5.2 6.4 -6.1 6.3 -6.1 6.4 -6.1 6.3 -6.1 6.4 -6 6.4 -6.1 6.3 -6 6.4 -6 6.3 -6 6.4 -5.9 6.4 -5.8 6.3 -5.8 6.4 -5.6 6.3 -5.4 6.4 -5.3 6.4 -5 6.3 -4.7 6.4 -4.4 6.3 -4 6.4 -3.7 M111.9 226.6l2.1 -2.1 2.1 -2 2.2 -2.1 2.1 -2 2.1 -2 2.1 -2.1 2.1 -2 2.2 -2 2.1 -2.1 2.1 -2 2.1 -2 2.1 -2.1 5.4 -5.2 5.4 -5.2 5.4 -5.1 5.4 -5.2 5.4 -5.2 5.4 -5.2 5.4 -5.2 5.4 -5.2 5.4 -5.1 5.4 -5.2 5.4 -5.2 6.4 -6.1 6.3 -6.1 6.4 -6.1 6.3 -6.1 6.4 -6.1 6.4 -6 6.3 -6.1 6.4 -6 6.3 -5.9 6.4 -6 6.4 -5.8 6.3 -5.7 6.4 -5.7 6.3 -5.4 6.4 -5.3 6.4 -5 6.3 -4.7 6.4 -4.4 6.3 -4.1 6.4 -3.7 M111.9 226.7l2.1 -2 2.1 -2.1 2.2 -2 2.1 -2 2.1 -2.1 2.1 -2 2.1 -2.1 2.2 -2 2.1 -2 2.1 -2.1 2.1 -2 2.1 -2 5.4 -5.2 5.4 -5.2 5.4 -5.2 5.4 -5.2 5.4 -5.2 5.4 -5.1 5.4 -5.2 5.4 -5.2 5.4 -5.2 5.4 -5.2 5.4 -5.2 6.4 -6.1 6.3 -6.1 6.4 -6 6.3 -6.1 6.4 -6.1 6.4 -6.1 6.3 -6 6.4 -6 6.3 -6 6.4 -5.9 6.4 -5.9 6.3 -5.7 6.4 -5.6 6.3 -5.5 6.4 -5.3 6.4 -5 6.3 -4.7 6.4 -4.4 6.3 -4.1 6.4 -3.7 M111.9 230.2l2.1 -2 2.1 -2 2.2 -2.1 2.1 -2 2.1 -2.1 2.1 -2 2.1 -2 2.2 -2.1 2.1 -2 2.1 -2 2.1 -2.1 2.1 -2 5.4 -5.2 5.4 -5.2 5.4 -5.2 5.4 -5.2 5.4 -5.1 5.4 -5.2 5.4 -5.2 5.4 -5.2 5.4 -5.2 5.4 -5.2 5.4 -5.1 6.4 -6.1 6.3 -6.1 6.4 -6.1 6.3 -6.1 6.4 -6.1 6.4 -6.1 6.3 -6 6.4 -6.1 6.3 -5.9 6.4 -6 6.4 -5.9 6.3 -5.8 6.4 -5.7 6.3 -5.6 6.4 -5.3 6.4 -5.2 6.3 -4.9 6.4 -4.6 6.3 -4.3 6.4 -3.9 M111.9 231l2.1 -2 2.1 -2 2.2 -2.1 2.1 -2 2.1 -2.1 2.1 -2 2.1 -2 2.2 -2.1 2.1 -2 2.1 -2 2.1 -2.1 2.1 -2 5.4 -5.2 5.4 -5.2 5.4 -5.2 5.4 -5.2 5.4 -5.1 5.4 -5.2 5.4 -5.2 5.4 -5.2 5.4 -5.2 5.4 -5.2 5.4 -5.1 6.4 -6.1 6.3 -6.1 6.4 -6.1 6.3 -6.1 6.4 -6.1 6.4 -6.1 6.3 -6 6.4 -6.1 6.3 -6 6.4 -5.9 6.4 -5.9 6.3 -5.8 6.4 -5.8 6.3 -5.5 6.4 -5.4 6.4 -5.2 6.3 -5 6.4 -4.6 6.3 -4.3 6.4 -4" stroke="#000" stroke-width="1.35"/>
<path d="M111.9 220.5l2.1 -2 2.1 -2.1 2.2 -2 2.1 -2 2.1 -2.1 2.1 -2 2.1 -2 2.2 -2.1 2.1 -2 2.1 -2 2.1 -2.1 2.1 -2 5.4 -5.2 5.4 -5.2 5.4 -5.2 5.4 -5.2 5.4 -5.1 5.4 -5.2 5.4 -5.2 5.4 -5.2 5.4 -5.2 5.4 -5.2 5.4 -5.1 6.4 -6.1 6.3 -6.1 6.4 -6.1 6.3 -6.1 6.4 -6 6.4 -6.1 6.3 -6 6.4 -6 6.3 -5.9 6.4 -5.8 6.4 -5.8 6.3 -5.6 6.4 -5.5 6.3 -5.2 6.4 -5 6.4 -4.8 6.3 -4.4 6.4 -4 6.3 -3.8 6.4 -3.4" stroke="#ff0000" stroke-width="3.5"/>
</g>
<g clip-path="url(#c1)" fill="none" stroke-linejoin="round">
<path d="M324.3 182.5l2.1 -2 2.1 -1.9 2.2 -1.9 2.1 -1.9 2.1 -1.9 2.1 -1.9 2.1 -1.9 2.2 -1.9 2.1 -1.8 2.1 -1.9 2.1 -1.8 2.1 -1.8 5.4 -4.7 5.4 -4.6 5.4 -4.5 5.4 -4.6 5.4 -4.5 5.4 -4.4 5.4 -4.5 5.4 -4.4 5.4 -4.4 5.4 -4.3 5.4 -4.4 6.4 -5 6.3 -5.1 6.4 -5 6.3 -5 6.4 -4.9 6.4 -4.9 6.3 -4.8 6.4 -4.8 6.3 -4.7 6.4 -4.6 6.4 -4.5 6.3 -4.3 6.4 -4.2 6.3 -3.9 6.4 -3.6 6.4 -3.4 6.3 -3 6.4 -2.7 6.3 -2.3 6.4 -2 M324.3 187.5l2.1 -2 2.1 -1.9 2.2 -2 2.1 -1.9 2.1 -1.9 2.1 -1.9 2.1 -1.9 2.2 -1.9 2.1 -1.9 2.1 -1.9 2.1 -1.8 2.1 -1.9 5.4 -4.7 5.4 -4.7 5.4 -4.6 5.4 -4.6 5.4 -4.6 5.4 -4.6 5.4 -4.5 5.4 -4.5 5.4 -4.5 5.4 -4.5 5.4 -4.4 6.4 -5.2 6.3 -5.2 6.4 -5.2 6.3 -5.1 6.4 -5.1 6.4 -5 6.3 -5 6.4 -4.9 6.3 -4.9 6.4 -4.7 6.4 -4.7 6.3 -4.5 6.4 -4.3 6.3 -4.1 6.4 -3.9 6.4 -3.5 6.3 -3.2 6.4 -2.9 6.3 -2.5 6.4 -2.1 M324.3 191.5l2.1 -2 2.1 -1.9 2.2 -2 2.1 -1.9 2.1 -2 2.1 -1.9 2.1 -1.9 2.2 -1.9 2.1 -1.9 2.1 -1.9 2.1 -1.9 2.1 -1.9 5.4 -4.7 5.4 -4.8 5.4 -4.7 5.4 -4.7 5.4 -4.6 5.4 -4.7 5.4 -4.6 5.4 -4.6 5.4 -4.5 5.4 -4.6 5.4 -4.5 6.4 -5.3 6.3 -5.3 6.4 -5.3 6.3 -5.2 6.4 -5.2 6.4 -5.2 6.3 -5.1 6.4 -5.1 6.3 -4.9 6.4 -4.9 6.4 -4.8 6.3 -4.7 6.4 -4.4 6.3 -4.3 6.4 -4 6.4 -3.6 6.3 -3.4 6.4 -3 6.3 -2.7 6.4 -2.2 M324.3 195l2.1 -2 2.1 -2 2.2 -1.9 2.1 -2 2.1 -1.9 2.1 -1.9 2.1 -2 2.2 -1.9 2.1 -1.9 2.1 -1.9 2.1 -1.9 2.1 -1.9 5.4 -4.8 5.4 -4.8 5.4 -4.8 5.4 -4.7 5.4 -4.8 5.4 -4.7 5.4 -4.7 5.4 -4.6 5.4 -4.7 5.4 -4.6 5.4 -4.6 6.4 -5.4 6.3 -5.4 6.4 -5.4 6.3 -5.3 6.4 -5.3 6.4 -5.3 6.3 -5.2 6.4 -5.2 6.3 -5.1 6.4 -5 6.4 -4.9 6.3 -4.7 6.4 -4.6 6.3 -4.4 6.4 -4.1 6.4 -3.8 6.3 -3.5 6.4 -3.1 6.3 -2.8 6.4 -2.4 M324.3 197.2l2.1 -2 2.1 -2 2.2 -1.9 2.1 -2 2.1 -1.9 2.1 -2 2.1 -1.9 2.2 -2 2.1 -1.9 2.1 -1.9 2.1 -1.9 2.1 -1.9 5.4 -4.9 5.4 -4.8 5.4 -4.8 5.4 -4.8 5.4 -4.8 5.4 -4.7 5.4 -4.7 5.4 -4.7 5.4 -4.7 5.4 -4.7 5.4 -4.7 6.4 -5.4 6.3 -5.5 6.4 -5.4 6.3 -5.4 6.4 -5.4 6.4 -5.3 6.3 -5.3 6.4 -5.2 6.3 -5.2 6.4 -5.1 6.4 -5 6.3 -4.8 6.4 -4.6 6.3 -4.5 6.4 -4.2 6.4 -3.9 6.3 -3.5 6.4 -3.3 6.3 -2.8 6.4 -2.5 M324.3 199l2.1 -2 2.1 -2 2.2 -2 2.1 -2 2.1 -1.9 2.1 -2 2.1 -1.9 2.2 -2 2.1 -1.9 2.1 -1.9 2.1 -2 2.1 -1.9 5.4 -4.8 5.4 -4.9 5.4 -4.8 5.4 -4.8 5.4 -4.8 5.4 -4.8 5.4 -4.8 5.4 -4.7 5.4 -4.7 5.4 -4.8 5.4 -4.7 6.4 -5.5 6.3 -5.5 6.4 -5.5 6.3 -5.4 6.4 -5.4 6.4 -5.4 6.3 -5.3 6.4 -5.3 6.3 -5.3 6.4 -5.1 6.4 -5 6.3 -4.9 6.4 -4.7 6.3 -4.5 6.4 -4.3 6.4 -4 6.3 -3.6 6.4 -3.3 6.3 -2.9 6.4 -2.6 M324.3 199.2l2.1 -2 2.1 -2 2.2 -2 2.1 -2 2.1 -1.9 2.1 -2 2.1 -1.9 2.2 -2 2.1 -1.9 2.1 -1.9 2.1 -1.9 2.1 -2 5.4 -4.8 5.4 -4.9 5.4 -4.8 5.4 -4.9 5.4 -4.7 5.4 -4.8 5.4 -4.8 5.4 -4.7 5.4 -4.8 5.4 -4.7 5.4 -4.7 6.4 -5.5 6.3 -5.5 6.4 -5.5 6.3 -5.5 6.4 -5.4 6.4 -5.4 6.3 -5.3 6.4 -5.3 6.3 -5.3 6.4 -5.1 6.4 -5 6.3 -4.9 6.4 -4.8 6.3 -4.5 6.4 -4.2 6.4 -4 6.3 -3.6 6.4 -3.3 6.3 -3 6.4 -2.5 M324.3 200l2.1 -2 2.1 -2 2.2 -2 2.1 -1.9 2.1 -2 2.1 -2 2.1 -1.9 2.2 -2 2.1 -1.9 2.1 -1.9 2.1 -2 2.1 -1.9 5.4 -4.9 5.4 -4.8 5.4 -4.9 5.4 -4.8 5.4 -4.8 5.4 -4.8 5.4 -4.8 5.4 -4.8 5.4 -4.7 5.4 -4.8 5.4 -4.7 6.4 -5.5 6.3 -5.6 6.4 -5.5 6.3 -5.4 6.4 -5.5 6.4 -5.4 6.3 -5.4 6.4 -5.3 6.3 -5.3 6.4 -5.1 6.4 -5.1 6.3 -4.9 6.4 -4.8 6.3 -4.5 6.4 -4.3 6.4 -4 6.3 -3.7 6.4 -3.3 6.3 -3 6.4 -2.6 M324.3 200.4l2.1 -2.1 2.1 -1.9 2.2 -2 2.1 -2 2.1 -2 2.1 -1.9 2.1 -2 2.2 -1.9 2.1 -1.9 2.1 -2 2.1 -1.9 2.1 -1.9 5.4 -4.9 5.4 -4.9 5.4 -4.9 5.4 -4.8 5.4 -4.8 5.4 -4.8 5.4 -4.8 5.4 -4.8 5.4 -4.7 5.4 -4.8 5.4 -4.7 6.4 -5.6 6.3 -5.5 6.4 -5.5 6.3 -5.5 6.4 -5.5 6.4 -5.4 6.3 -5.4 6.4 -5.3 6.3 -5.3 6.4 -5.2 6.4 -5.1 6.3 -4.9 6.4 -4.8 6.3 -4.5 6.4 -4.3 6.4 -4 6.3 -3.7 6.4 -3.3 6.3 -3 6.4 -2.6 M324.3 201.3l2.1 -2 2.1 -2 2.2 -2 2.1 -1.9 2.1 -2 2.1 -2 2.1 -1.9 2.2 -2 2.1 -1.9 2.1 -1.9 2.1 -2 2.1 -1.9 5.4 -4.9 5.4 -4.9 5.4 -4.9 5.4 -4.8 5.4 -4.9 5.4 -4.8 5.4 -4.8 5.4 -4.8 5.4 -4.8 5.4 -4.7 5.4 -4.8 6.4 -5.6 6.3 -5.5 6.4 -5.6 6.3 -5.5 6.4 -5.5 6.4 -5.4 6.3 -5.5 6.4 -5.3 6.3 -5.3 6.4 -5.2 6.4 -5.1 6.3 -5 6.4 -4.8 6.3 -4.6 6.4 -4.3 6.4 -4.1 6.3 -3.7 6.4 -3.4 6.3 -3 6.4 -2.6 M324.3 201.7l2.1 -2 2.1 -2 2.2 -2 2.1 -2 2.1 -2 2.1 -1.9 2.1 -2 2.2 -1.9 2.1 -2 2.1 -1.9 2.1 -2 2.1 -1.9 5.4 -4.9 5.4 -4.9 5.4 -4.9 5.4 -4.8 5.4 -4.9 5.4 -4.8 5.4 -4.8 5.4 -4.8 5.4 -4.8 5.4 -4.8 5.4 -4.7 6.4 -5.6 6.3 -5.6 6.4 -5.6 6.3 -5.5 6.4 -5.5 6.4 -5.5 6.3 -5.4 6.4 -5.4 6.3 -5.3 6.4 -5.2 6.4 -5.1 6.3 -5 6.4 -4.8 6.3 -4.6 6.4 -4.3 6.4 -4.1 6.3 -3.7 6.4 -3.4 6.3 -3 6.4 -2.7 M324.3 201.9l2.1 -2 2.1 -2 2.2 -1.9 2.1 -2 2.1 -2 2.1 -1.9 2.1 -2 2.2 -2 2.1 -1.9 2.1 -2 2.1 -1.9 2.1 -1.9 5.4 -4.9 5.4 -4.9 5.4 -4.9 5.4 -4.9 5.4 -4.8 5.4 -4.9 5.4 -4.8 5.4 -4.8 5.4 -4.8 5.4 -4.8 5.4 -4.7 6.4 -5.6 6.3 -5.6 6.4 -5.6 6.3 -5.5 6.4 -5.5 6.4 -5.5 6.3 -5.4 6.4 -5.4 6.3 -5.3 6.4 -5.3 6.4 -5.1 6.3 -5 6.4 -4.8 6.3 -4.6 6.4 -4.4 6.4 -4 6.3 -3.8 6.4 -3.4 6.3 -3 6.4 -2.7 M324.3 202.6l2.1 -2 2.1 -2 2.2 -1.9 2.1 -2 2.1 -2 2.1 -2 2.1 -1.9 2.2 -2 2.1 -1.9 2.1 -2 2.1 -1.9 2.1 -2 5.4 -4.9 5.4 -4.9 5.4 -4.9 5.4 -4.9 5.4 -4.8 5.4 -4.9 5.4 -4.8 5.4 -4.8 5.4 -4.8 5.4 -4.8 5.4 -4.8 6.4 -5.6 6.3 -5.6 6.4 -5.6 6.3 -5.6 6.4 -5.5 6.4 -5.5 6.3 -5.4 6.4 -5.4 6.3 -5.4 6.4 -5.2 6.4 -5.2 6.3 -5 6.4 -4.9 6.3 -4.6 6.4 -4.4 6.4 -4.1 6.3 -3.7 6.4 -3.4 6.3 -3.1 6.4 -2.7 M324.3 202.8l2.1 -2 2.1 -2 2.2 -2 2.1 -1.9 2.1 -2 2.1 -2 2.1 -1.9 2.2 -2 2.1 -2 2.1 -1.9 2.1 -1.9 2.1 -2 5.4 -4.9 5.4 -4.9 5.4 -4.9 5.4 -4.9 5.4 -4.9 5.4 -4.8 5.4 -4.9 5.4 -4.8 5.4 -4.8 5.4 -4.8 5.4 -4.8 6.4 -5.6 6.3 -5.6 6.4 -5.6 6.3 -5.5 6.4 -5.6 6.4 -5.5 6.3 -5.4 6.4 -5.5 6.3 -5.3 6.4 -5.3 6.4 -5.1 6.3 -5 6.4 -4.9 6.3 -4.6 6.4 -4.4 6.4 -4.1 6.3 -3.8 6.4 -3.4 6.3 -3.1 6.4 -2.7 M324.3 203.7l2.1 -2 2.1 -2 2.2 -2 2.1 -1.9 2.1 -2 2.1 -2 2.1 -2 2.2 -1.9 2.1 -2 2.1 -1.9 2.1 -2 2.1 -1.9 5.4 -5 5.4 -4.9 5.4 -4.9 5.4 -4.9 5.4 -4.9 5.4 -4.8 5.4 -4.9 5.4 -4.8 5.4 -4.9 5.4 -4.8 5.4 -4.8 6.4 -5.6 6.3 -5.7 6.4 -5.6 6.3 -5.6 6.4 -5.5 6.4 -5.6 6.3 -5.4 6.4 -5.5 6.3 -5.4 6.4 -5.3 6.4 -5.1 6.3 -5.1 6.4 -4.9 6.3 -4.7 6.4 -4.4 6.4 -4.1 6.3 -3.8 6.4 -3.5 6.3 -3.1 6.4 -2.7 M324.3 203.9l2.1 -2 2.1 -2 2.2 -2 2.1 -2 2.1 -1.9 2.1 -2 2.1 -2 2.2 -1.9 2.1 -2 2.1 -2 2.1 -1.9 2.1 -2 5.4 -4.9 5.4 -4.9 5.4 -4.9 5.4 -4.9 5.4 -4.9 5.4 -4.9 5.4 -4.9 5.4 -4.8 5.4 -4.8 5.4 -4.9 5.4 -4.8 6.4 -5.6 6.3 -5.6 6.4 -5.7 6.3 -5.6 6.4 -5.5 6.4 -5.6 6.3 -5.5 6.4 -5.4 6.3 -5.4 6.4 -5.3 6.4 -5.2 6.3 -5 6.4 -4.9 6.3 -4.7 6.4 -4.4 6.4 -4.2 6.3 -3.8 6.4 -3.4 6.3 -3.1 6.4 -2.8 M324.3 204.6l2.1 -2 2.1 -2 2.2 -2 2.1 -2 2.1 -2 2.1 -2 2.1 -1.9 2.2 -2 2.1 -2 2.1 -1.9 2.1 -2 2.1 -1.9 5.4 -5 5.4 -4.9 5.4 -4.9 5.4 -5 5.4 -4.8 5.4 -4.9 5.4 -4.9 5.4 -4.9 5.4 -4.8 5.4 -4.8 5.4 -4.9 6.4 -5.6 6.3 -5.7 6.4 -5.6 6.3 -5.6 6.4 -5.6 6.4 -5.6 6.3 -5.5 6.4 -5.5 6.3 -5.4 6.4 -5.3 6.4 -5.2 6.3 -5.1 6.4 -4.9 6.3 -4.7 6.4 -4.4 6.4 -4.2 6.3 -3.8 6.4 -3.5 6.3 -3.2 6.4 -2.7 M324.3 204.5l2.1 -2 2.1 -2 2.2 -2 2.1 -2 2.1 -2 2.1 -1.9 2.1 -2 2.2 -2 2.1 -1.9 2.1 -2 2.1 -1.9 2.1 -2 5.4 -5 5.4 -4.9 5.4 -4.9 5.4 -4.9 5.4 -4.9 5.4 -4.9 5.4 -4.9 5.4 -4.8 5.4 -4.9 5.4 -4.8 5.4 -4.8 6.4 -5.7 6.3 -5.6 6.4 -5.7 6.3 -5.6 6.4 -5.6 6.4 -5.5 6.3 -5.5 6.4 -5.5 6.3 -5.4 6.4 -5.3 6.4 -5.2 6.3 -5.1 6.4 -4.9 6.3 -4.7 6.4 -4.5 6.4 -4.1 6.3 -3.8 6.4 -3.5 6.3 -3.2 6.4 -2.8 M324.3 205.5l2.1 -2 2.1 -2 2.2 -2 2.1 -2 2.1 -2 2.1 -2 2.1 -1.9 2.2 -2 2.1 -2 2.1 -1.9 2.1 -2 2.1 -2 5.4 -4.9 5.4 -5 5.4 -4.9 5.4 -4.9 5.4 -5 5.4 -4.9 5.4 -4.8 5.4 -4.9 5.4 -4.9 5.4 -4.8 5.4 -4.9 6.4 -5.7 6.3 -5.7 6.4 -5.6 6.3 -5.7 6.4 -5.6 6.4 -5.5 6.3 -5.6 6.4 -5.5 6.3 -5.4 6.4 -5.4 6.4 -5.2 6.3 -5.1 6.4 -5 6.3 -4.7 6.4 -4.5 6.4 -4.2 6.3 -3.8 6.4 -3.6 6.3 -3.1 6.4 -2.9 M324.3 205.4l2.1 -2.1 2.1 -2 2.2 -2 2.1 -1.9 2.1 -2 2.1 -2 2.1 -2 2.2 -1.9 2.1 -2 2.1 -2 2.1 -1.9 2.1 -2 5.4 -4.9 5.4 -5 5.4 -4.9 5.4 -5 5.4 -4.9 5.4 -4.9 5.4 -4.8 5.4 -4.9 5.4 -4.9 5.4 -4.8 5.4 -4.9 6.4 -5.7 6.3 -5.6 6.4 -5.7 6.3 -5.6 6.4 -5.6 6.4 -5.6 6.3 -5.6 6.4 -5.5 6.3 -5.4 6.4 -5.3 6.4 -5.3 6.3 -5.1 6.4 -4.9 6.3 -4.8 6.4 -4.4 6.4 -4.2 6.3 -3.9 6.4 -3.5 6.3 -3.2 6.4 -2.8 M324.3 205.7l2.1 -2 2.1 -2 2.2 -2 2.1 -2 2.1 -1.9 2.1 -2 2.1 -2 2.2 -2 2.1 -1.9 2.1 -2 2.1 -2 2.1 -1.9 5.4 -5 5.4 -4.9 5.4 -5 5.4 -4.9 5.4 -4.9 5.4 -4.9 5.4 -4.9 5.4 -4.9 5.4 -4.9 5.4 -4.8 5.4 -4.9 6.4 -5.7 6.3 -5.7 6.4 -5.6 6.3 -5.7 6.4 -5.6 6.4 -5.6 6.3 -5.6 6.4 -5.5 6.3 -5.4 6.4 -5.4 6.4 -5.2 6.3 -5.1 6.4 -5 6.3 -4.7 6.4 -4.5 6.4 -4.2 6.3 -3.9 6.4 -3.5 6.3 -3.2 6.4 -2.8 M324.3 206.8l2.1 -2.1 2.1 -2 2.2 -2 2.1 -2 2.1 -1.9 2.1 -2 2.1 -2 2.2 -2 2.1 -2 2.1 -1.9 2.1 -2 2.1 -2 5.4 -4.9 5.4 -5 5.4 -5 5.4 -4.9 5.4 -4.9 5.4 -5 5.4 -4.9 5.4 -4.9 5.4 -4.9 5.4 -4.9 5.4 -4.8 6.4 -5.8 6.3 -5.7 6.4 -5.7 6.3 -5.6 6.4 -5.7 6.4 -5.6 6.3 -5.6 6.4 -5.5 6.3 -5.5 6.4 -5.4 6.4 -5.3 6.3 -5.2 6.4 -4.9 6.3 -4.8 6.4 -4.5 6.4 -4.3 6.3 -3.9 6.4 -3.6 6.3 -3.2 6.4 -2.8 M324.3 207.1l2.1 -2.1 2.1 -2 2.2 -2 2.1 -2 2.1 -1.9 2.1 -2 2.1 -2 2.2 -2 2.1 -2 2.1 -1.9 2.1 -2 2.1 -2 5.4 -4.9 5.4 -5 5.4 -5 5.4 -4.9 5.4 -5 5.4 -4.9 5.4 -4.9 5.4 -4.9 5.4 -4.9 5.4 -4.9 5.4 -4.9 6.4 -5.7 6.3 -5.8 6.4 -5.7 6.3 -5.6 6.4 -5.7 6.4 -5.6 6.3 -5.6 6.4 -5.6 6.3 -5.5 6.4 -5.4 6.4 -5.3 6.3 -5.1 6.4 -5 6.3 -4.8 6.4 -4.6 6.4 -4.2 6.3 -3.9 6.4 -3.6 6.3 -3.2 6.4 -2.9 M324.3 207.9l2.1 -2.1 2.1 -2 2.2 -2 2.1 -2 2.1 -1.9 2.1 -2 2.1 -2 2.2 -2 2.1 -2 2.1 -1.9 2.1 -2 2.1 -2 5.4 -5 5.4 -5 5.4 -5 5.4 -4.9 5.4 -5 5.4 -4.9 5.4 -5 5.4 -4.9 5.4 -4.9 5.4 -4.9 5.4 -4.9 6.4 -5.8 6.3 -5.7 6.4 -5.7 6.3 -5.7 6.4 -5.7 6.4 -5.7 6.3 -5.6 6.4 -5.6 6.3 -5.5 6.4 -5.4 6.4 -5.3 6.3 -5.2 6.4 -5.1 6.3 -4.8 6.4 -4.5 6.4 -4.3 6.3 -4 6.4 -3.6 6.3 -3.2 6.4 -2.9 M324.3 209l2.1 -2 2.1 -2 2.2 -2.1 2.1 -2 2.1 -1.9 2.1 -2 2.1 -2 2.2 -2 2.1 -2 2.1 -2 2.1 -1.9 2.1 -2 5.4 -5 5.4 -5 5.4 -5 5.4 -5 5.4 -5 5.4 -5 5.4 -4.9 5.4 -5 5.4 -4.9 5.4 -4.9 5.4 -5 6.4 -5.8 6.3 -5.7 6.4 -5.8 6.3 -5.7 6.4 -5.7 6.4 -5.7 6.3 -5.7 6.4 -5.6 6.3 -5.5 6.4 -5.5 6.4 -5.4 6.3 -5.2 6.4 -5.1 6.3 -4.8 6.4 -4.6 6.4 -4.3 6.3 -4 6.4 -3.7 6.3 -3.3 6.4 -2.9 M324.3 208.5l2.1 -2 2.1 -2 2.2 -2 2.1 -2 2.1 -2 2.1 -2 2.1 -1.9 2.2 -2 2.1 -2 2.1 -2 2.1 -2 2.1 -1.9 5.4 -5.1 5.4 -5 5.4 -4.9 5.4 -5 5.4 -5 5.4 -4.9 5.4 -5 5.4 -4.9 5.4 -5 5.4 -4.9 5.4 -4.9 6.4 -5.8 6.3 -5.7 6.4 -5.8 6.3 -5.7 6.4 -5.7 6.4 -5.7 6.3 -5.6 6.4 -5.6 6.3 -5.5 6.4 -5.5 6.4 -5.3 6.3 -5.3 6.4 -5 6.3 -4.9 6.4 -4.5 6.4 -4.3 6.3 -4 6.4 -3.7 6.3 -3.2 6.4 -3 M324.3 209.1l2.1 -2 2.1 -2 2.2 -2 2.1 -2 2.1 -2 2.1 -2 2.1 -2 2.2 -2 2.1 -2 2.1 -2 2.1 -1.9 2.1 -2 5.4 -5 5.4 -5 5.4 -5 5.4 -5 5.4 -5 5.4 -5 5.4 -4.9 5.4 -5 5.4 -4.9 5.4 -5 5.4 -4.9 6.4 -5.8 6.3 -5.7 6.4 -5.8 6.3 -5.8 6.4 -5.7 6.4 -5.7 6.3 -5.6 6.4 -5.6 6.3 -5.6 6.4 -5.5 6.4 -5.3 6.3 -5.3 6.4 -5 6.3 -4.9 6.4 -4.6 6.4 -4.3 6.3 -4 6.4 -3.7 6.3 -3.3 6.4 -2.9 M324.3 209.8l2.1 -2 2.1 -2 2.2 -2 2.1 -2 2.1 -2 2.1 -2 2.1 -2 2.2 -2 2.1 -2 2.1 -1.9 2.1 -2 2.1 -2 5.4 -5 5.4 -5.1 5.4 -5 5.4 -5 5.4 -5 5.4 -4.9 5.4 -5 5.4 -5 5.4 -4.9 5.4 -5 5.4 -4.9 6.4 -5.8 6.3 -5.8 6.4 -5.8 6.3 -5.8 6.4 -5.7 6.4 -5.7 6.3 -5.7 6.4 -5.7 6.3 -5.5 6.4 -5.5 6.4 -5.4 6.3 -5.3 6.4 -5.1 6.3 -4.9 6.4 -4.6 6.4 -4.3 6.3 -4.1 6.4 -3.6 6.3 -3.4 6.4 -3 M324.3 210.4l2.1 -2 2.1 -2 2.2 -2 2.1 -2 2.1 -2 2.1 -2 2.1 -2 2.2 -2 2.1 -2 2.1 -2 2.1 -2 2.1 -2 5.4 -5 5.4 -5 5.4 -5 5.4 -5.1 5.4 -5 5.4 -5 5.4 -4.9 5.4 -5 5.4 -5 5.4 -4.9 5.4 -5 6.4 -5.8 6.3 -5.8 6.4 -5.8 6.3 -5.8 6.4 -5.8 6.4 -5.7 6.3 -5.7 6.4 -5.7 6.3 -5.5 6.4 -5.6 6.4 -5.4 6.3 -5.3 6.4 -5.1 6.3 -4.9 6.4 -4.6 6.4 -4.4 6.3 -4 6.4 -3.7 6.3 -3.4 6.4 -3 M324.3 210.7l2.1 -2 2.1 -2 2.2 -2 2.1 -2.1 2.1 -2 2.1 -2 2.1 -1.9 2.2 -2 2.1 -2 2.1 -2 2.1 -2 2.1 -2 5.4 -5 5.4 -5.1 5.4 -5 5.4 -5 5.4 -5 5.4 -5 5.4 -5 5.4 -5 5.4 -5 5.4 -4.9 5.4 -5 6.4 -5.8 6.3 -5.8 6.4 -5.8 6.3 -5.8 6.4 -5.8 6.4 -5.7 6.3 -5.7 6.4 -5.7 6.3 -5.6 6.4 -5.5 6.4 -5.5 6.3 -5.2 6.4 -5.2 6.3 -4.9 6.4 -4.6 6.4 -4.4 6.3 -4.1 6.4 -3.7 6.3 -3.4 6.4 -3 M324.3 211.2l2.1 -2 2.1 -2.1 2.2 -2 2.1 -2 2.1 -2 2.1 -2 2.1 -2 2.2 -2 2.1 -2 2.1 -2 2.1 -1.9 2.1 -2 5.4 -5.1 5.4 -5 5.4 -5.1 5.4 -5 5.4 -5 5.4 -5 5.4 -5 5.4 -5 5.4 -5 5.4 -5 5.4 -4.9 6.4 -5.9 6.3 -5.8 6.4 -5.8 6.3 -5.8 6.4 -5.8 6.4 -5.8 6.3 -5.7 6.4 -5.7 6.3 -5.6 6.4 -5.5 6.4 -5.5 6.3 -5.3 6.4 -5.1 6.3 -4.9 6.4 -4.7 6.4 -4.4 6.3 -4.1 6.4 -3.7 6.3 -3.4 6.4 -3 M324.3 211.9l2.1 -2 2.1 -2 2.2 -2 2.1 -2 2.1 -2 2.1 -2 2.1 -2 2.2 -2 2.1 -2 2.1 -2 2.1 -2 2.1 -2 5.4 -5.1 5.4 -5 5.4 -5.1 5.4 -5 5.4 -5 5.4 -5 5.4 -5.1 5.4 -5 5.4 -5 5.4 -5 5.4 -5 6.4 -5.8 6.3 -5.9 6.4 -5.8 6.3 -5.8 6.4 -5.8 6.4 -5.8 6.3 -5.8 6.4 -5.7 6.3 -5.6 6.4 -5.6 6.4 -5.4 6.3 -5.4 6.4 -5.1 6.3 -5 6.4 -4.7 6.4 -4.4 6.3 -4.1 6.4 -3.8 6.3 -3.4 6.4 -3.1 M324.3 212.4l2.1 -2.1 2.1 -2 2.2 -2 2.1 -2 2.1 -2 2.1 -2 2.1 -2 2.2 -2 2.1 -2 2.1 -2 2.1 -2 2.1 -2 5.4 -5.1 5.4 -5 5.4 -5.1 5.4 -5 5.4 -5 5.4 -5.1 5.4 -5 5.4 -5 5.4 -5 5.4 -5 5.4 -5 6.4 -5.9 6.3 -5.9 6.4 -5.8 6.3 -5.9 6.4 -5.8 6.4 -5.8 6.3 -5.7 6.4 -5.7 6.3 -5.7 6.4 -5.6 6.4 -5.5 6.3 -5.3 6.4 -5.2 6.3 -5 6.4 -4.7 6.4 -4.4 6.3 -4.1 6.4 -3.8 6.3 -3.4 6.4 -3.1 M324.3 212.4l2.1 -2 2.1 -2 2.2 -2.1 2.1 -2 2.1 -2 2.1 -2 2.1 -2 2.2 -2 2.1 -2 2.1 -2 2.1 -2 2.1 -2 5.4 -5 5.4 -5.1 5.4 -5 5.4 -5.1 5.4 -5 5.4 -5.1 5.4 -5 5.4 -5 5.4 -5 5.4 -5 5.4 -5 6.4 -5.9 6.3 -5.9 6.4 -5.8 6.3 -5.9 6.4 -5.8 6.4 -5.8 6.3 -5.7 6.4 -5.7 6.3 -5.7 6.4 -5.6 6.4 -5.4 6.3 -5.4 6.4 -5.2 6.3 -5 6.4 -4.7 6.4 -4.4 6.3 -4.1 6.4 -3.8 6.3 -3.4 6.4 -3.1 M324.3 213.2l2.1 -2.1 2.1 -2 2.2 -2 2.1 -2 2.1 -2 2.1 -2 2.1 -2 2.2 -2 2.1 -2 2.1 -2 2.1 -2 2.1 -2 5.4 -5.1 5.4 -5.1 5.4 -5 5.4 -5.1 5.4 -5.1 5.4 -5 5.4 -5 5.4 -5.1 5.4 -5 5.4 -5 5.4 -5 6.4 -5.9 6.3 -5.9 6.4 -5.9 6.3 -5.9 6.4 -5.8 6.4 -5.8 6.3 -5.8 6.4 -5.7 6.3 -5.7 6.4 -5.6 6.4 -5.5 6.3 -5.4 6.4 -5.2 6.3 -5 6.4 -4.8 6.4 -4.4 6.3 -4.2 6.4 -3.8 6.3 -3.4 6.4 -3.2 M324.3 213.7l2.1 -2 2.1 -2.1 2.2 -2 2.1 -2 2.1 -2 2.1 -2 2.1 -2 2.2 -2 2.1 -2 2.1 -2 2.1 -2 2.1 -2 5.4 -5.1 5.4 -5.1 5.4 -5.1 5.4 -5 5.4 -5.1 5.4 -5.1 5.4 -5 5.4 -5 5.4 -5.1 5.4 -5 5.4 -5 6.4 -6 6.3 -5.9 6.4 -5.9 6.3 -5.8 6.4 -5.9 6.4 -5.8 6.3 -5.8 6.4 -5.8 6.3 -5.7 6.4 -5.6 6.4 -5.5 6.3 -5.4 6.4 -5.2 6.3 -5 6.4 -4.8 6.4 -4.5 6.3 -4.2 6.4 -3.8 6.3 -3.5 6.4 -3.1 M324.3 213.9l2.1 -2.1 2.1 -2 2.2 -2 2.1 -2 2.1 -2 2.1 -2 2.1 -2.1 2.2 -2 2.1 -2 2.1 -2 2.1 -2 2.1 -2 5.4 -5.1 5.4 -5 5.4 -5.1 5.4 -5.1 5.4 -5.1 5.4 -5 5.4 -5.1 5.4 -5 5.4 -5.1 5.4 -5 5.4 -5 6.4 -5.9 6.3 -5.9 6.4 -5.9 6.3 -5.9 6.4 -5.9 6.4 -5.8 6.3 -5.8 6.4 -5.8 6.3 -5.7 6.4 -5.6 6.4 -5.5 6.3 -5.4 6.4 -5.3 6.3 -5 6.4 -4.8 6.4 -4.5 6.3 -4.1 6.4 -3.9 6.3 -3.4 6.4 -3.2 M324.3 214.7l2.1 -2 2.1 -2 2.2 -2 2.1 -2.1 2.1 -2 2.1 -2 2.1 -2 2.2 -2 2.1 -2 2.1 -2 2.1 -2 2.1 -2 5.4 -5.1 5.4 -5.1 5.4 -5.1 5.4 -5.1 5.4 -5.1 5.4 -5.1 5.4 -5 5.4 -5.1 5.4 -5.1 5.4 -5 5.4 -5.1 6.4 -5.9 6.3 -5.9 6.4 -6 6.3 -5.9 6.4 -5.8 6.4 -5.9 6.3 -5.8 6.4 -5.8 6.3 -5.8 6.4 -5.6 6.4 -5.6 6.3 -5.4 6.4 -5.3 6.3 -5 6.4 -4.8 6.4 -4.6 6.3 -4.2 6.4 -3.8 6.3 -3.5 6.4 -3.2 M324.3 214.9l2.1 -2 2.1 -2.1 2.2 -2 2.1 -2 2.1 -2 2.1 -2 2.1 -2 2.2 -2.1 2.1 -2 2.1 -2 2.1 -2 2.1 -2 5.4 -5.1 5.4 -5.1 5.4 -5.1 5.4 -5.1 5.4 -5.1 5.4 -5 5.4 -5.1 5.4 -5.1 5.4 -5 5.4 -5.1 5.4 -5 6.4 -6 6.3 -5.9 6.4 -6 6.3 -5.9 6.4 -5.9 6.4 -5.8 6.3 -5.9 6.4 -5.8 6.3 -5.7 6.4 -5.7 6.4 -5.5 6.3 -5.4 6.4 -5.3 6.3 -5.1 6.4 -4.8 6.4 -4.5 6.3 -4.2 6.4 -3.9 6.3 -3.5 6.4 -3.2 M324.3 215.9l2.1 -2 2.1 -2 2.2 -2.1 2.1 -2 2.1 -2 2.1 -2 2.1 -2 2.2 -2 2.1 -2.1 2.1 -2 2.1 -2 2.1 -2 5.4 -5.1 5.4 -5.1 5.4 -5.1 5.4 -5.1 5.4 -5.1 5.4 -5.1 5.4 -5.1 5.4 -5.1 5.4 -5.1 5.4 -5.1 5.4 -5.1 6.4 -5.9 6.3 -6 6.4 -6 6.3 -5.9 6.4 -5.9 6.4 -5.9 6.3 -5.9 6.4 -5.8 6.3 -5.8 6.4 -5.7 6.4 -5.6 6.3 -5.4 6.4 -5.4 6.3 -5 6.4 -4.9 6.4 -4.6 6.3 -4.2 6.4 -3.9 6.3 -3.6 6.4 -3.2 M324.3 216.2l2.1 -2 2.1 -2.1 2.2 -2 2.1 -2 2.1 -2 2.1 -2.1 2.1 -2 2.2 -2 2.1 -2 2.1 -2 2.1 -2 2.1 -2.1 5.4 -5.1 5.4 -5.1 5.4 -5.1 5.4 -5.1 5.4 -5.1 5.4 -5.1 5.4 -5.1 5.4 -5.1 5.4 -5.1 5.4 -5.1 5.4 -5.1 6.4 -6 6.3 -5.9 6.4 -6 6.3 -5.9 6.4 -6 6.4 -5.9 6.3 -5.9 6.4 -5.8 6.3 -5.8 6.4 -5.7 6.4 -5.6 6.3 -5.5 6.4 -5.3 6.3 -5.1 6.4 -4.8 6.4 -4.6 6.3 -4.3 6.4 -3.9 6.3 -3.5 6.4 -3.3 M324.3 216.6l2.1 -2 2.1 -2 2.2 -2 2.1 -2.1 2.1 -2 2.1 -2 2.1 -2 2.2 -2.1 2.1 -2 2.1 -2 2.1 -2 2.1 -2 5.4 -5.2 5.4 -5.1 5.4 -5.1 5.4 -5.1 5.4 -5.1 5.4 -5.1 5.4 -5.1 5.4 -5.1 5.4 -5.1 5.4 -5.1 5.4 -5.1 6.4 -6 6.3 -6 6.4 -6 6.3 -5.9 6.4 -6 6.4 -5.9 6.3 -5.9 6.4 -5.9 6.3 -5.7 6.4 -5.8 6.4 -5.6 6.3 -5.5 6.4 -5.3 6.3 -5.1 6.4 -4.9 6.4 -4.6 6.3 -4.3 6.4 -3.9 6.3 -3.6 6.4 -3.2 M324.3 216.9l2.1 -2 2.1 -2 2.2 -2.1 2.1 -2 2.1 -2 2.1 -2 2.1 -2.1 2.2 -2 2.1 -2 2.1 -2 2.1 -2 2.1 -2.1 5.4 -5.1 5.4 -5.1 5.4 -5.1 5.4 -5.2 5.4 -5.1 5.4 -5.1 5.4 -5.1 5.4 -5.1 5.4 -5.1 5.4 -5.1 5.4 -5.1 6.4 -6 6.3 -6 6.4 -6 6.3 -6 6.4 -5.9 6.4 -6 6.3 -5.8 6.4 -5.9 6.3 -5.8 6.4 -5.7 6.4 -5.7 6.3 -5.5 6.4 -5.3 6.3 -5.1 6.4 -4.9 6.4 -4.6 6.3 -4.3 6.4 -4 6.3 -3.5 6.4 -3.3 M324.3 217.6l2.1 -2.1 2.1 -2 2.2 -2 2.1 -2.1 2.1 -2 2.1 -2 2.1 -2 2.2 -2.1 2.1 -2 2.1 -2 2.1 -2 2.1 -2 5.4 -5.2 5.4 -5.1 5.4 -5.2 5.4 -5.1 5.4 -5.1 5.4 -5.2 5.4 -5.1 5.4 -5.1 5.4 -5.1 5.4 -5.1 5.4 -5.1 6.4 -6.1 6.3 -6 6.4 -6 6.3 -6 6.4 -5.9 6.4 -6 6.3 -5.9 6.4 -5.9 6.3 -5.8 6.4 -5.8 6.4 -5.6 6.3 -5.5 6.4 -5.4 6.3 -5.1 6.4 -4.9 6.4 -4.7 6.3 -4.3 6.4 -3.9 6.3 -3.7 6.4 -3.3 M324.3 217.5l2.1 -2.1 2.1 -2 2.2 -2 2.1 -2 2.1 -2.1 2.1 -2 2.1 -2 2.2 -2 2.1 -2.1 2.1 -2 2.1 -2 2.1 -2 5.4 -5.2 5.4 -5.1 5.4 -5.1 5.4 -5.2 5.4 -5.1 5.4 -5.1 5.4 -5.1 5.4 -5.2 5.4 -5.1 5.4 -5.1 5.4 -5.1 6.4 -6 6.3 -6 6.4 -6 6.3 -6 6.4 -6 6.4 -5.9 6.3 -5.9 6.4 -5.9 6.3 -5.8 6.4 -5.8 6.4 -5.6 6.3 -5.6 6.4 -5.3 6.3 -5.2 6.4 -4.9 6.4 -4.6 6.3 -4.3 6.4 -4 6.3 -3.6 6.4 -3.3 M324.3 218.2l2.1 -2 2.1 -2 2.2 -2.1 2.1 -2 2.1 -2 2.1 -2.1 2.1 -2 2.2 -2 2.1 -2 2.1 -2.1 2.1 -2 2.1 -2 5.4 -5.2 5.4 -5.1 5.4 -5.2 5.4 -5.1 5.4 -5.1 5.4 -5.2 5.4 -5.1 5.4 -5.2 5.4 -5.1 5.4 -5.1 5.4 -5.1 6.4 -6.1 6.3 -6 6.4 -6 6.3 -6 6.4 -6 6.4 -6 6.3 -5.9 6.4 -5.9 6.3 -5.9 6.4 -5.8 6.4 -5.6 6.3 -5.6 6.4 -5.4 6.3 -5.1 6.4 -5 6.4 -4.6 6.3 -4.3 6.4 -4 6.3 -3.7 6.4 -3.3 M324.3 219.2l2.1 -2.1 2.1 -2 2.2 -2 2.1 -2.1 2.1 -2 2.1 -2 2.1 -2.1 2.2 -2 2.1 -2 2.1 -2.1 2.1 -2 2.1 -2 5.4 -5.2 5.4 -5.1 5.4 -5.2 5.4 -5.2 5.4 -5.1 5.4 -5.2 5.4 -5.1 5.4 -5.2 5.4 -5.1 5.4 -5.2 5.4 -5.1 6.4 -6.1 6.3 -6.1 6.4 -6 6.3 -6 6.4 -6.1 6.4 -6 6.3 -5.9 6.4 -6 6.3 -5.8 6.4 -5.8 6.4 -5.7 6.3 -5.6 6.4 -5.4 6.3 -5.2 6.4 -5 6.4 -4.7 6.3 -4.3 6.4 -4.1 6.3 -3.7 6.4 -3.3 M324.3 218.9l2.1 -2 2.1 -2.1 2.2 -2 2.1 -2 2.1 -2.1 2.1 -2 2.1 -2 2.2 -2 2.1 -2.1 2.1 -2 2.1 -2 2.1 -2.1 5.4 -5.1 5.4 -5.2 5.4 -5.1 5.4 -5.2 5.4 -5.2 5.4 -5.1 5.4 -5.2 5.4 -5.1 5.4 -5.2 5.4 -5.1 5.4 -5.1 6.4 -6.1 6.3 -6 6.4 -6.1 6.3 -6 6.4 -6 6.4 -6 6.3 -6 6.4 -5.9 6.3 -5.9 6.4 -5.7 6.4 -5.7 6.3 -5.6 6.4 -5.4 6.3 -5.2 6.4 -5 6.4 -4.6 6.3 -4.4 6.4 -4 6.3 -3.7 6.4 -3.3 M324.3 220.3l2.1 -2 2.1 -2.1 2.2 -2 2.1 -2.1 2.1 -2 2.1 -2 2.1 -2.1 2.2 -2 2.1 -2 2.1 -2.1 2.1 -2 2.1 -2 5.4 -5.2 5.4 -5.2 5.4 -5.2 5.4 -5.2 5.4 -5.1 5.4 -5.2 5.4 -5.2 5.4 -5.2 5.4 -5.2 5.4 -5.1 5.4 -5.2 6.4 -6.1 6.3 -6.1 6.4 -6.1 6.3 -6 6.4 -6.1 6.4 -6 6.3 -6 6.4 -6 6.3 -5.9 6.4 -5.8 6.4 -5.8 6.3 -5.6 6.4 -5.4 6.3 -5.3 6.4 -5 6.4 -4.7 6.3 -4.4 6.4 -4.1 6.3 -3.7 6.4 -3.4 M324.3 220l2.1 -2 2.1 -2.1 2.2 -2 2.1 -2 2.1 -2.1 2.1 -2 2.1 -2 2.2 -2.1 2.1 -2 2.1 -2.1 2.1 -2 2.1 -2 5.4 -5.2 5.4 -5.2 5.4 -5.2 5.4 -5.1 5.4 -5.2 5.4 -5.2 5.4 -5.1 5.4 -5.2 5.4 -5.2 5.4 -5.2 5.4 -5.1 6.4 -6.1 6.3 -6.1 6.4 -6.1 6.3 -6 6.4 -6.1 6.4 -6 6.3 -6 6.4 -5.9 6.3 -5.9 6.4 -5.9 6.4 -5.7 6.3 -5.6 6.4 -5.4 6.3 -5.3 6.4 -5 6.4 -4.7 6.3 -4.4 6.4 -4 6.3 -3.8 6.4 -3.3 M324.3 220.7l2.1 -2 2.1 -2.1 2.2 -2 2.1 -2 2.1 -2.1 2.1 -2 2.1 -2 2.2 -2.1 2.1 -2 2.1 -2.1 2.1 -2 2.1 -2 5.4 -5.2 5.4 -5.2 5.4 -5.2 5.4 -5.2 5.4 -5.2 5.4 -5.1 5.4 -5.2 5.4 -5.2 5.4 -5.2 5.4 -5.2 5.4 -5.1 6.4 -6.1 6.3 -6.1 6.4 -6.1 6.3 -6.1 6.4 -6.1 6.4 -6 6.3 -6 6.4 -6 6.3 -5.9 6.4 -5.9 6.4 -5.7 6.3 -5.6 6.4 -5.5 6.3 -5.3 6.4 -5 6.4 -4.7 6.3 -4.5 6.4 -4 6.3 -3.8 6.4 -3.4 M324.3 220.7l2.1 -2 2.1 -2 2.2 -2.1 2.1 -2 2.1 -2 2.1 -2.1 2.1 -2 2.2 -2.1 2.1 -2 2.1 -2 2.1 -2.1 2.1 -2 5.4 -5.2 5.4 -5.2 5.4 -5.2 5.4 -5.1 5.4 -5.2 5.4 -5.2 5.4 -5.2 5.4 -5.2 5.4 -5.2 5.4 -5.1 5.4 -5.2 6.4 -6.1 6.3 -6.1 6.4 -6.1 6.3 -6.1 6.4 -6 6.4 -6.1 6.3 -6 6.4 -6 6.3 -5.9 6.4 -5.8 6.4 -5.8 6.3 -5.6 6.4 -5.5 6.3 -5.2 6.4 -5.1 6.4 -4.7 6.3 -4.4 6.4 -4.1 6.3 -3.8 6.4 -3.4 M324.3 221.6l2.1 -2.1 2.1 -2 2.2 -2 2.1 -2.1 2.1 -2 2.1 -2 2.1 -2.1 2.2 -2 2.1 -2.1 2.1 -2 2.1 -2 2.1 -2.1 5.4 -5.1 5.4 -5.2 5.4 -5.2 5.4 -5.2 5.4 -5.2 5.4 -5.2 5.4 -5.2 5.4 -5.1 5.4 -5.2 5.4 -5.2 5.4 -5.2 6.4 -6.1 6.3 -6.1 6.4 -6.1 6.3 -6.1 6.4 -6 6.4 -6.1 6.3 -6 6.4 -6 6.3 -5.9 6.4 -5.9 6.4 -5.8 6.3 -5.6 6.4 -5.5 6.3 -5.3 6.4 -5.1 6.4 -4.8 6.3 -4.4 6.4 -4.2 6.3 -3.7 6.4 -3.5 M324.3 221.9l2.1 -2.1 2.1 -2 2.2 -2.1 2.1 -2 2.1 -2 2.1 -2.1 2.1 -2 2.2 -2 2.1 -2.1 2.1 -2 2.1 -2.1 2.1 -2 5.4 -5.2 5.4 -5.2 5.4 -5.2 5.4 -5.1 5.4 -5.2 5.4 -5.2 5.4 -5.2 5.4 -5.2 5.4 -5.2 5.4 -5.2 5.4 -5.1 6.4 -6.1 6.3 -6.1 6.4 -6.1 6.3 -6.1 6.4 -6.1 6.4 -6 6.3 -6.1 6.4 -5.9 6.3 -6 6.4 -5.8 6.4 -5.8 6.3 -5.7 6.4 -5.5 6.3 -5.3 6.4 -5.1 6.4 -4.8 6.3 -4.5 6.4 -4.1 6.3 -3.8 6.4 -3.5 M324.3 221.9l2.1 -2.1 2.1 -2 2.2 -2 2.1 -2.1 2.1 -2 2.1 -2.1 2.1 -2 2.2 -2 2.1 -2.1 2.1 -2 2.1 -2 2.1 -2.1 5.4 -5.2 5.4 -5.1 5.4 -5.2 5.4 -5.2 5.4 -5.2 5.4 -5.2 5.4 -5.2 5.4 -5.2 5.4 -5.2 5.4 -5.1 5.4 -5.2 6.4 -6.1 6.3 -6.1 6.4 -6.1 6.3 -6.1 6.4 -6.1 6.4 -6 6.3 -6 6.4 -6 6.3 -6 6.4 -5.8 6.4 -5.8 6.3 -5.7 6.4 -5.5 6.3 -5.3 6.4 -5.1 6.4 -4.8 6.3 -4.4 6.4 -4.2 6.3 -3.8 6.4 -3.5 M324.3 223l2.1 -2 2.1 -2.1 2.2 -2 2.1 -2 2.1 -2.1 2.1 -2 2.1 -2.1 2.2 -2 2.1 -2 2.1 -2.1 2.1 -2 2.1 -2 5.4 -5.2 5.4 -5.2 5.4 -5.2 5.4 -5.2 5.4 -5.2 5.4 -5.2 5.4 -5.2 5.4 -5.2 5.4 -5.1 5.4 -5.2 5.4 -5.2 6.4 -6.1 6.3 -6.1 6.4 -6.1 6.3 -6.1 6.4 -6.1 6.4 -6.1 6.3 -6 6.4 -6 6.3 -5.9 6.4 -5.9 6.4 -5.8 6.3 -5.7 6.4 -5.6 6.3 -5.3 6.4 -5.1 6.4 -4.9 6.3 -4.5 6.4 -4.3 6.3 -3.8 6.4 -3.5 M324.3 223.5l2.1 -2.1 2.1 -2 2.2 -2 2.1 -2.1 2.1 -2 2.1 -2 2.1 -2.1 2.2 -2 2.1 -2.1 2.1 -2 2.1 -2 2.1 -2.1 5.4 -5.2 5.4 -5.1 5.4 -5.2 5.4 -5.2 5.4 -5.2 5.4 -5.2 5.4 -5.2 5.4 -5.2 5.4 -5.2 5.4 -5.2 5.4 -5.1 6.4 -6.2 6.3 -6.1 6.4 -6.1 6.3 -6.1 6.4 -6 6.4 -6.1 6.3 -6 6.4 -6.1 6.3 -5.9 6.4 -5.9 6.4 -5.8 6.3 -5.7 6.4 -5.6 6.3 -5.4 6.4 -5.1 6.4 -4.9 6.3 -4.5 6.4 -4.3 6.3 -3.9 6.4 -3.5 M324.3 223.5l2.1 -2 2.1 -2 2.2 -2.1 2.1 -2 2.1 -2 2.1 -2.1 2.1 -2 2.2 -2.1 2.1 -2 2.1 -2 2.1 -2.1 2.1 -2 5.4 -5.2 5.4 -5.2 5.4 -5.2 5.4 -5.2 5.4 -5.2 5.4 -5.1 5.4 -5.2 5.4 -5.2 5.4 -5.2 5.4 -5.2 5.4 -5.2 6.4 -6.1 6.3 -6.1 6.4 -6.1 6.3 -6.1 6.4 -6.1 6.4 -6.1 6.3 -6 6.4 -6 6.3 -6 6.4 -5.9 6.4 -5.8 6.3 -5.7 6.4 -5.5 6.3 -5.4 6.4 -5.2 6.4 -4.8 6.3 -4.6 6.4 -4.2 6.3 -3.9 6.4 -3.6 M324.3 223.9l2.1 -2 2.1 -2.1 2.2 -2 2.1 -2 2.1 -2.1 2.1 -2 2.1 -2 2.2 -2.1 2.1 -2 2.1 -2.1 2.1 -2 2.1 -2 5.4 -5.2 5.4 -5.2 5.4 -5.2 5.4 -5.2 5.4 -5.2 5.4 -5.2 5.4 -5.2 5.4 -5.2 5.4 -5.1 5.4 -5.2 5.4 -5.2 6.4 -6.1 6.3 -6.1 6.4 -6.1 6.3 -6.1 6.4 -6.1 6.4 -6.1 6.3 -6 6.4 -6.1 6.3 -5.9 6.4 -5.9 6.4 -5.8 6.3 -5.8 6.4 -5.5 6.3 -5.4 6.4 -5.2 6.4 -4.9 6.3 -4.6 6.4 -4.2 6.3 -3.9 6.4 -3.6 M324.3 224.4l2.1 -2.1 2.1 -2 2.2 -2 2.1 -2.1 2.1 -2 2.1 -2 2.1 -2.1 2.2 -2 2.1 -2.1 2.1 -2 2.1 -2 2.1 -2.1 5.4 -5.2 5.4 -5.2 5.4 -5.1 5.4 -5.2 5.4 -5.2 5.4 -5.2 5.4 -5.2 5.4 -5.2 5.4 -5.2 5.4 -5.2 5.4 -5.2 6.4 -6.1 6.3 -6.1 6.4 -6.1 6.3 -6.1 6.4 -6.1 6.4 -6.1 6.3 -6 6.4 -6 6.3 -6 6.4 -5.9 6.4 -5.8 6.3 -5.8 6.4 -5.6 6.3 -5.4 6.4 -5.1 6.4 -5 6.3 -4.6 6.4 -4.3 6.3 -3.9 6.4 -3.6 M324.3 224.6l2.1 -2 2.1 -2.1 2.2 -2 2.1 -2 2.1 -2.1 2.1 -2 2.1 -2.1 2.2 -2 2.1 -2 2.1 -2.1 2.1 -2 2.1 -2 5.4 -5.2 5.4 -5.2 5.4 -5.2 5.4 -5.2 5.4 -5.2 5.4 -5.2 5.4 -5.2 5.4 -5.2 5.4 -5.2 5.4 -5.2 5.4 -5.1 6.4 -6.2 6.3 -6.1 6.4 -6.1 6.3 -6.1 6.4 -6.1 6.4 -6 6.3 -6.1 6.4 -6 6.3 -6 6.4 -5.9 6.4 -5.8 6.3 -5.8 6.4 -5.6 6.3 -5.4 6.4 -5.2 6.4 -4.9 6.3 -4.6 6.4 -4.3 6.3 -4 6.4 -3.6 M324.3 225.6l2.1 -2.1 2.1 -2 2.2 -2.1 2.1 -2 2.1 -2 2.1 -2.1 2.1 -2 2.2 -2 2.1 -2.1 2.1 -2 2.1 -2.1 2.1 -2 5.4 -5.2 5.4 -5.2 5.4 -5.2 5.4 -5.2 5.4 -5.2 5.4 -5.1 5.4 -5.2 5.4 -5.2 5.4 -5.2 5.4 -5.2 5.4 -5.2 6.4 -6.1 6.3 -6.2 6.4 -6.1 6.3 -6.1 6.4 -6.1 6.4 -6.1 6.3 -6 6.4 -6 6.3 -6 6.4 -6 6.4 -5.8 6.3 -5.8 6.4 -5.6 6.3 -5.4 6.4 -5.3 6.4 -4.9 6.3 -4.7 6.4 -4.4 6.3 -4 6.4 -3.6 M324.3 225.6l2.1 -2.1 2.1 -2 2.2 -2 2.1 -2.1 2.1 -2 2.1 -2 2.1 -2.1 2.2 -2 2.1 -2.1 2.1 -2 2.1 -2 2.1 -2.1 5.4 -5.2 5.4 -5.2 5.4 -5.1 5.4 -5.2 5.4 -5.2 5.4 -5.2 5.4 -5.2 5.4 -5.2 5.4 -5.2 5.4 -5.2 5.4 -5.2 6.4 -6.1 6.3 -6.1 6.4 -6.1 6.3 -6.2 6.4 -6.1 6.4 -6 6.3 -6.1 6.4 -6 6.3 -6 6.4 -5.9 6.4 -5.9 6.3 -5.8 6.4 -5.6 6.3 -5.4 6.4 -5.3 6.4 -4.9 6.3 -4.7 6.4 -4.4 6.3 -4 6.4 -3.6 M324.3 226.1l2.1 -2 2.1 -2 2.2 -2.1 2.1 -2 2.1 -2 2.1 -2.1 2.1 -2 2.2 -2.1 2.1 -2 2.1 -2 2.1 -2.1 2.1 -2 5.4 -5.2 5.4 -5.2 5.4 -5.2 5.4 -5.2 5.4 -5.2 5.4 -5.2 5.4 -5.2 5.4 -5.2 5.4 -5.2 5.4 -5.2 5.4 -5.2 6.4 -6.1 6.3 -6.1 6.4 -6.1 6.3 -6.1 6.4 -6.1 6.4 -6.1 6.3 -6.1 6.4 -6 6.3 -6 6.4 -6 6.4 -5.8 6.3 -5.8 6.4 -5.6 6.3 -5.5 6.4 -5.2 6.4 -5 6.3 -4.7 6.4 -4.4 6.3 -4.1 6.4 -3.7 M324.3 226.4l2.1 -2.1 2.1 -2 2.2 -2 2.1 -2.1 2.1 -2 2.1 -2 2.1 -2.1 2.2 -2 2.1 -2.1 2.1 -2 2.1 -2 2.1 -2.1 5.4 -5.2 5.4 -5.2 5.4 -5.1 5.4 -5.2 5.4 -5.2 5.4 -5.2 5.4 -5.2 5.4 -5.2 5.4 -5.2 5.4 -5.2 5.4 -5.2 6.4 -6.1 6.3 -6.2 6.4 -6.1 6.3 -6.1 6.4 -6.1 6.4 -6.1 6.3 -6 6.4 -6.1 6.3 -6 6.4 -5.9 6.4 -5.9 6.3 -5.8 6.4 -5.6 6.3 -5.5 6.4 -5.3 6.4 -5 6.3 -4.7 6.4 -4.4 6.3 -4 6.4 -3.7 M324.3 226.9l2.1 -2.1 2.1 -2 2.2 -2.1 2.1 -2 2.1 -2 2.1 -2.1 2.1 -2 2.2 -2 2.1 -2.1 2.1 -2 2.1 -2.1 2.1 -2 5.4 -5.2 5.4 -5.2 5.4 -5.2 5.4 -5.2 5.4 -5.2 5.4 -5.2 5.4 -5.2 5.4 -5.2 5.4 -5.2 5.4 -5.2 5.4 -5.2 6.4 -6.1 6.3 -6.1 6.4 -6.1 6.3 -6.1 6.4 -6.1 6.4 -6.1 6.3 -6.1 6.4 -6 6.3 -6.1 6.4 -5.9 6.4 -5.9 6.3 -5.8 6.4 -5.6 6.3 -5.5 6.4 -5.3 6.4 -5 6.3 -4.8 6.4 -4.4 6.3 -4.1 6.4 -3.7 M324.3 227.1l2.1 -2 2.1 -2 2.2 -2.1 2.1 -2 2.1 -2.1 2.1 -2 2.1 -2 2.2 -2.1 2.1 -2 2.1 -2.1 2.1 -2 2.1 -2 5.4 -5.2 5.4 -5.2 5.4 -5.2 5.4 -5.2 5.4 -5.2 5.4 -5.2 5.4 -5.2 5.4 -5.2 5.4 -5.2 5.4 -5.2 5.4 -5.2 6.4 -6.1 6.3 -6.1 6.4 -6.2 6.3 -6.1 6.4 -6.1 6.4 -6.1 6.3 -6.1 6.4 -6 6.3 -6 6.4 -6 6.4 -5.9 6.3 -5.7 6.4 -5.7 6.3 -5.5 6.4 -5.3 6.4 -5 6.3 -4.8 6.4 -4.4 6.3 -4.1 6.4 -3.8 M324.3 228.2l2.1 -2 2.1 -2.1 2.2 -2 2.1 -2.1 2.1 -2 2.1 -2 2.1 -2.1 2.2 -2 2.1 -2 2.1 -2.1 2.1 -2 2.1 -2.1 5.4 -5.2 5.4 -5.2 5.4 -5.1 5.4 -5.2 5.4 -5.2 5.4 -5.2 5.4 -5.2 5.4 -5.2 5.4 -5.2 5.4 -5.2 5.4 -5.3 6.4 -6.1 6.3 -6.1 6.4 -6.1 6.3 -6.2 6.4 -6.1 6.4 -6.1 6.3 -6.1 6.4 -6 6.3 -6 6.4 -6 6.4 -5.9 6.3 -5.8 6.4 -5.7 6.3 -5.6 6.4 -5.3 6.4 -5.1 6.3 -4.8 6.4 -4.5 6.3 -4.1 6.4 -3.8 M324.3 228.3l2.1 -2.1 2.1 -2 2.2 -2 2.1 -2.1 2.1 -2 2.1 -2 2.1 -2.1 2.2 -2 2.1 -2.1 2.1 -2 2.1 -2 2.1 -2.1 5.4 -5.2 5.4 -5.2 5.4 -5.2 5.4 -5.2 5.4 -5.2 5.4 -5.2 5.4 -5.2 5.4 -5.2 5.4 -5.2 5.4 -5.2 5.4 -5.2 6.4 -6.1 6.3 -6.1 6.4 -6.2 6.3 -6.1 6.4 -6.1 6.4 -6.1 6.3 -6.1 6.4 -6 6.3 -6.1 6.4 -5.9 6.4 -6 6.3 -5.8 6.4 -5.7 6.3 -5.5 6.4 -5.3 6.4 -5.1 6.3 -4.8 6.4 -4.5 6.3 -4.2 6.4 -3.8 M324.3 229l2.1 -2 2.1 -2.1 2.2 -2 2.1 -2.1 2.1 -2 2.1 -2 2.1 -2.1 2.2 -2 2.1 -2.1 2.1 -2 2.1 -2 2.1 -2.1 5.4 -5.2 5.4 -5.2 5.4 -5.2 5.4 -5.2 5.4 -5.2 5.4 -5.2 5.4 -5.2 5.4 -5.2 5.4 -5.2 5.4 -5.2 5.4 -5.2 6.4 -6.1 6.3 -6.1 6.4 -6.2 6.3 -6.1 6.4 -6.1 6.4 -6.1 6.3 -6.1 6.4 -6.1 6.3 -6 6.4 -6 6.4 -5.9 6.3 -5.9 6.4 -5.7 6.3 -5.5 6.4 -5.4 6.4 -5.1 6.3 -4.9 6.4 -4.5 6.3 -4.2 6.4 -3.8 M324.3 229.2l2.1 -2.1 2.1 -2 2.2 -2 2.1 -2.1 2.1 -2 2.1 -2 2.1 -2.1 2.2 -2 2.1 -2.1 2.1 -2 2.1 -2 2.1 -2.1 5.4 -5.2 5.4 -5.2 5.4 -5.2 5.4 -5.2 5.4 -5.2 5.4 -5.2 5.4 -5.2 5.4 -5.2 5.4 -5.2 5.4 -5.2 5.4 -5.2 6.4 -6.1 6.3 -6.2 6.4 -6.1 6.3 -6.1 6.4 -6.1 6.4 -6.1 6.3 -6.1 6.4 -6.1 6.3 -6 6.4 -6 6.4 -6 6.3 -5.8 6.4 -5.7 6.3 -5.6 6.4 -5.3 6.4 -5.2 6.3 -4.8 6.4 -4.6 6.3 -4.2 6.4 -3.8 M324.3 229.4l2.1 -2 2.1 -2 2.2 -2.1 2.1 -2 2.1 -2 2.1 -2.1 2.1 -2 2.2 -2.1 2.1 -2 2.1 -2 2.1 -2.1 2.1 -2 5.4 -5.2 5.4 -5.2 5.4 -5.2 5.4 -5.2 5.4 -5.2 5.4 -5.2 5.4 -5.2 5.4 -5.2 5.4 -5.2 5.4 -5.2 5.4 -5.2 6.4 -6.2 6.3 -6.1 6.4 -6.1 6.3 -6.2 6.4 -6.1 6.4 -6.1 6.3 -6.1 6.4 -6.1 6.3 -6 6.4 -6 6.4 -5.9 6.3 -5.9 6.4 -5.7 6.3 -5.6 6.4 -5.4 6.4 -5.1 6.3 -4.9 6.4 -4.5 6.3 -4.2 6.4 -3.9 M324.3 230l2.1 -2.1 2.1 -2 2.2 -2 2.1 -2.1 2.1 -2 2.1 -2.1 2.1 -2 2.2 -2 2.1 -2.1 2.1 -2 2.1 -2.1 2.1 -2 5.4 -5.2 5.4 -5.2 5.4 -5.2 5.4 -5.2 5.4 -5.2 5.4 -5.2 5.4 -5.2 5.4 -5.2 5.4 -5.2 5.4 -5.2 5.4 -5.2 6.4 -6.2 6.3 -6.1 6.4 -6.1 6.3 -6.2 6.4 -6.1 6.4 -6.1 6.3 -6.1 6.4 -6.1 6.3 -6 6.4 -6 6.4 -6 6.3 -5.8 6.4 -5.8 6.3 -5.6 6.4 -5.4 6.4 -5.1 6.3 -4.9 6.4 -4.6 6.3 -4.3 6.4 -3.8 M324.3 230.3l2.1 -2 2.1 -2 2.2 -2.1 2.1 -2 2.1 -2 2.1 -2.1 2.1 -2 2.2 -2.1 2.1 -2 2.1 -2 2.1 -2.1 2.1 -2 5.4 -5.2 5.4 -5.2 5.4 -5.2 5.4 -5.2 5.4 -5.2 5.4 -5.2 5.4 -5.2 5.4 -5.2 5.4 -5.2 5.4 -5.3 5.4 -5.2 6.4 -6.1 6.3 -6.1 6.4 -6.2 6.3 -6.1 6.4 -6.1 6.4 -6.2 6.3 -6.1 6.4 -6 6.3 -6.1 6.4 -6 6.4 -5.9 6.3 -5.9 6.4 -5.7 6.3 -5.7 6.4 -5.4 6.4 -5.2 6.3 -4.9 6.4 -4.6 6.3 -4.2 6.4 -4 M324.3 230.9l2.1 -2 2.1 -2.1 2.2 -2 2.1 -2 2.1 -2.1 2.1 -2 2.1 -2.1 2.2 -2 2.1 -2 2.1 -2.1 2.1 -2 2.1 -2.1 5.4 -5.1 5.4 -5.2 5.4 -5.2 5.4 -5.2 5.4 -5.3 5.4 -5.2 5.4 -5.2 5.4 -5.2 5.4 -5.2 5.4 -5.2 5.4 -5.2 6.4 -6.1 6.3 -6.2 6.4 -6.1 6.3 -6.2 6.4 -6.1 6.4 -6.1 6.3 -6.1 6.4 -6.1 6.3 -6.1 6.4 -6 6.4 -5.9 6.3 -5.9 6.4 -5.8 6.3 -5.6 6.4 -5.4 6.4 -5.2 6.3 -5 6.4 -4.6 6.3 -4.3 6.4 -4 M324.3 231.3l2.1 -2.1 2.1 -2 2.2 -2.1 2.1 -2 2.1 -2 2.1 -2.1 2.1 -2 2.2 -2.1 2.1 -2 2.1 -2 2.1 -2.1 2.1 -2 5.4 -5.2 5.4 -5.2 5.4 -5.2 5.4 -5.2 5.4 -5.2 5.4 -5.2 5.4 -5.2 5.4 -5.2 5.4 -5.2 5.4 -5.3 5.4 -5.2 6.4 -6.1 6.3 -6.2 6.4 -6.1 6.3 -6.1 6.4 -6.2 6.4 -6.1 6.3 -6.1 6.4 -6.1 6.3 -6.1 6.4 -6 6.4 -5.9 6.3 -5.9 6.4 -5.8 6.3 -5.6 6.4 -5.5 6.4 -5.2 6.3 -5 6.4 -4.6 6.3 -4.3 6.4 -4 M324.3 231.7l2.1 -2 2.1 -2.1 2.2 -2 2.1 -2 2.1 -2.1 2.1 -2 2.1 -2.1 2.2 -2 2.1 -2 2.1 -2.1 2.1 -2 2.1 -2.1 5.4 -5.2 5.4 -5.2 5.4 -5.2 5.4 -5.2 5.4 -5.2 5.4 -5.2 5.4 -5.2 5.4 -5.2 5.4 -5.2 5.4 -5.2 5.4 -5.2 6.4 -6.2 6.3 -6.1 6.4 -6.2 6.3 -6.1 6.4 -6.1 6.4 -6.2 6.3 -6.1 6.4 -6.1 6.3 -6 6.4 -6.1 6.4 -5.9 6.3 -5.9 6.4 -5.8 6.3 -5.7 6.4 -5.4 6.4 -5.3 6.3 -4.9 6.4 -4.7 6.3 -4.4 6.4 -4 M324.3 231.9l2.1 -2.1 2.1 -2 2.2 -2 2.1 -2.1 2.1 -2 2.1 -2.1 2.1 -2 2.2 -2 2.1 -2.1 2.1 -2 2.1 -2.1 2.1 -2 5.4 -5.2 5.4 -5.2 5.4 -5.2 5.4 -5.2 5.4 -5.2 5.4 -5.2 5.4 -5.2 5.4 -5.2 5.4 -5.2 5.4 -5.3 5.4 -5.2 6.4 -6.1 6.3 -6.2 6.4 -6.1 6.3 -6.2 6.4 -6.1 6.4 -6.1 6.3 -6.1 6.4 -6.1 6.3 -6.1 6.4 -6 6.4 -6 6.3 -5.9 6.4 -5.8 6.3 -5.6 6.4 -5.5 6.4 -5.2 6.3 -5 6.4 -4.7 6.3 -4.4 6.4 -4 M324.3 232.4l2.1 -2 2.1 -2 2.2 -2.1 2.1 -2 2.1 -2 2.1 -2.1 2.1 -2 2.2 -2.1 2.1 -2 2.1 -2 2.1 -2.1 2.1 -2 5.4 -5.2 5.4 -5.2 5.4 -5.2 5.4 -5.2 5.4 -5.2 5.4 -5.2 5.4 -5.3 5.4 -5.2 5.4 -5.2 5.4 -5.2 5.4 -5.2 6.4 -6.2 6.3 -6.1 6.4 -6.2 6.3 -6.1 6.4 -6.1 6.4 -6.2 6.3 -6.1 6.4 -6.1 6.3 -6.1 6.4 -6 6.4 -6 6.3 -5.9 6.4 -5.8 6.3 -5.7 6.4 -5.4 6.4 -5.3 6.3 -5 6.4 -4.8 6.3 -4.3 6.4 -4.1 M324.3 233.5l2.1 -2 2.1 -2.1 2.2 -2 2.1 -2.1 2.1 -2 2.1 -2 2.1 -2.1 2.2 -2 2.1 -2.1 2.1 -2 2.1 -2 2.1 -2.1 5.4 -5.2 5.4 -5.2 5.4 -5.2 5.4 -5.2 5.4 -5.2 5.4 -5.2 5.4 -5.2 5.4 -5.2 5.4 -5.3 5.4 -5.2 5.4 -5.2 6.4 -6.1 6.3 -6.2 6.4 -6.2 6.3 -6.1 6.4 -6.1 6.4 -6.2 6.3 -6.1 6.4 -6.1 6.3 -6.1 6.4 -6.1 6.4 -6 6.3 -5.9 6.4 -5.8 6.3 -5.7 6.4 -5.5 6.4 -5.4 6.3 -5 6.4 -4.8 6.3 -4.4 6.4 -4.1 M324.3 233.3l2.1 -2 2.1 -2 2.2 -2.1 2.1 -2 2.1 -2 2.1 -2.1 2.1 -2 2.2 -2.1 2.1 -2 2.1 -2 2.1 -2.1 2.1 -2 5.4 -5.2 5.4 -5.2 5.4 -5.2 5.4 -5.2 5.4 -5.2 5.4 -5.3 5.4 -5.2 5.4 -5.2 5.4 -5.2 5.4 -5.2 5.4 -5.2 6.4 -6.2 6.3 -6.1 6.4 -6.2 6.3 -6.1 6.4 -6.2 6.4 -6.1 6.3 -6.2 6.4 -6.1 6.3 -6 6.4 -6.1 6.4 -6 6.3 -5.9 6.4 -5.8 6.3 -5.7 6.4 -5.5 6.4 -5.4 6.3 -5 6.4 -4.8 6.3 -4.4 6.4 -4.1 M324.3 233.7l2.1 -2.1 2.1 -2 2.2 -2 2.1 -2.1 2.1 -2 2.1 -2 2.1 -2.1 2.2 -2 2.1 -2.1 2.1 -2 2.1 -2.1 2.1 -2 5.4 -5.2 5.4 -5.2 5.4 -5.2 5.4 -5.2 5.4 -5.2 5.4 -5.2 5.4 -5.2 5.4 -5.3 5.4 -5.2 5.4 -5.2 5.4 -5.2 6.4 -6.2 6.3 -6.1 6.4 -6.2 6.3 -6.1 6.4 -6.2 6.4 -6.1 6.3 -6.1 6.4 -6.2 6.3 -6 6.4 -6.1 6.4 -6 6.3 -5.9 6.4 -5.8 6.3 -5.8 6.4 -5.5 6.4 -5.3 6.3 -5.1 6.4 -4.8 6.3 -4.4 6.4 -4.1 M324.3 234.5l2.1 -2.1 2.1 -2 2.2 -2.1 2.1 -2 2.1 -2 2.1 -2.1 2.1 -2 2.2 -2 2.1 -2.1 2.1 -2 2.1 -2.1 2.1 -2 5.4 -5.2 5.4 -5.2 5.4 -5.2 5.4 -5.2 5.4 -5.2 5.4 -5.3 5.4 -5.2 5.4 -5.2 5.4 -5.2 5.4 -5.2 5.4 -5.2 6.4 -6.2 6.3 -6.2 6.4 -6.1 6.3 -6.2 6.4 -6.1 6.4 -6.2 6.3 -6.1 6.4 -6.1 6.3 -6.1 6.4 -6.1 6.4 -6 6.3 -5.9 6.4 -5.9 6.3 -5.7 6.4 -5.6 6.4 -5.3 6.3 -5.1 6.4 -4.9 6.3 -4.4 6.4 -4.2 M324.3 235.2l2.1 -2.1 2.1 -2 2.2 -2.1 2.1 -2 2.1 -2 2.1 -2.1 2.1 -2 2.2 -2 2.1 -2.1 2.1 -2 2.1 -2.1 2.1 -2 5.4 -5.2 5.4 -5.2 5.4 -5.2 5.4 -5.2 5.4 -5.2 5.4 -5.3 5.4 -5.2 5.4 -5.2 5.4 -5.2 5.4 -5.2 5.4 -5.3 6.4 -6.1 6.3 -6.2 6.4 -6.1 6.3 -6.2 6.4 -6.2 6.4 -6.1 6.3 -6.2 6.4 -6.1 6.3 -6.1 6.4 -6.1 6.4 -6 6.3 -5.9 6.4 -5.9 6.3 -5.7 6.4 -5.6 6.4 -5.4 6.3 -5.1 6.4 -4.9 6.3 -4.5 6.4 -4.2 M324.3 234.9l2.1 -2.1 2.1 -2 2.2 -2 2.1 -2.1 2.1 -2 2.1 -2.1 2.1 -2 2.2 -2 2.1 -2.1 2.1 -2 2.1 -2.1 2.1 -2 5.4 -5.2 5.4 -5.2 5.4 -5.2 5.4 -5.2 5.4 -5.2 5.4 -5.2 5.4 -5.3 5.4 -5.2 5.4 -5.2 5.4 -5.2 5.4 -5.2 6.4 -6.2 6.3 -6.2 6.4 -6.1 6.3 -6.2 6.4 -6.1 6.4 -6.2 6.3 -6.1 6.4 -6.1 6.3 -6.1 6.4 -6.1 6.4 -6 6.3 -6 6.4 -5.8 6.3 -5.8 6.4 -5.5 6.4 -5.4 6.3 -5.1 6.4 -4.9 6.3 -4.5 6.4 -4.2 M324.3 235.6l2.1 -2 2.1 -2.1 2.2 -2 2.1 -2 2.1 -2.1 2.1 -2 2.1 -2 2.2 -2.1 2.1 -2 2.1 -2.1 2.1 -2 2.1 -2.1 5.4 -5.2 5.4 -5.2 5.4 -5.2 5.4 -5.2 5.4 -5.2 5.4 -5.2 5.4 -5.2 5.4 -5.2 5.4 -5.3 5.4 -5.2 5.4 -5.2 6.4 -6.2 6.3 -6.1 6.4 -6.2 6.3 -6.2 6.4 -6.1 6.4 -6.2 6.3 -6.1 6.4 -6.2 6.3 -6.1 6.4 -6 6.4 -6.1 6.3 -5.9 6.4 -5.9 6.3 -5.8 6.4 -5.6 6.4 -5.4 6.3 -5.1 6.4 -4.9 6.3 -4.6 6.4 -4.2 M324.3 236l2.1 -2.1 2.1 -2 2.2 -2.1 2.1 -2 2.1 -2 2.1 -2.1 2.1 -2 2.2 -2.1 2.1 -2 2.1 -2 2.1 -2.1 2.1 -2 5.4 -5.2 5.4 -5.2 5.4 -5.2 5.4 -5.3 5.4 -5.2 5.4 -5.2 5.4 -5.2 5.4 -5.2 5.4 -5.2 5.4 -5.3 5.4 -5.2 6.4 -6.2 6.3 -6.1 6.4 -6.2 6.3 -6.2 6.4 -6.1 6.4 -6.2 6.3 -6.1 6.4 -6.2 6.3 -6.1 6.4 -6 6.4 -6.1 6.3 -5.9 6.4 -5.9 6.3 -5.8 6.4 -5.6 6.4 -5.4 6.3 -5.2 6.4 -4.9 6.3 -4.6 6.4 -4.2 M324.3 236.1l2.1 -2 2.1 -2.1 2.2 -2 2.1 -2.1 2.1 -2 2.1 -2 2.1 -2.1 2.2 -2 2.1 -2.1 2.1 -2 2.1 -2 2.1 -2.1 5.4 -5.2 5.4 -5.2 5.4 -5.2 5.4 -5.2 5.4 -5.2 5.4 -5.2 5.4 -5.2 5.4 -5.3 5.4 -5.2 5.4 -5.2 5.4 -5.2 6.4 -6.2 6.3 -6.2 6.4 -6.1 6.3 -6.2 6.4 -6.2 6.4 -6.1 6.3 -6.2 6.4 -6.1 6.3 -6.1 6.4 -6.1 6.4 -6 6.3 -6 6.4 -5.9 6.3 -5.8 6.4 -5.6 6.4 -5.4 6.3 -5.2 6.4 -4.9 6.3 -4.6 6.4 -4.2 M324.3 240.8l2.1 -2 2.1 -2 2.2 -2.1 2.1 -2 2.1 -2.1 2.1 -2 2.1 -2 2.2 -2.1 2.1 -2 2.1 -2.1 2.1 -2 2.1 -2.1 5.4 -5.2 5.4 -5.2 5.4 -5.3 5.4 -5.2 5.4 -5.2 5.4 -5.3 5.4 -5.2 5.4 -5.3 5.4 -5.3 5.4 -5.3 5.4 -5.2 6.4 -6.3 6.3 -6.2 6.4 -6.3 6.3 -6.2 6.4 -6.3 6.4 -6.2 6.3 -6.3 6.4 -6.2 6.3 -6.3 6.4 -6.2 6.4 -6.2 6.3 -6.1 6.4 -6 6.3 -6 6.4 -5.8 6.4 -5.7 6.3 -5.4 6.4 -5.1 6.3 -4.8 6.4 -4.5 M324.3 244.5l2.1 -2 2.1 -2 2.2 -2.1 2.1 -2 2.1 -2.1 2.1 -2 2.1 -2 2.2 -2.1 2.1 -2 2.1 -2.1 2.1 -2 2.1 -2.1 5.4 -5.2 5.4 -5.2 5.4 -5.3 5.4 -5.2 5.4 -5.3 5.4 -5.3 5.4 -5.2 5.4 -5.3 5.4 -5.3 5.4 -5.3 5.4 -5.3 6.4 -6.2 6.3 -6.3 6.4 -6.3 6.3 -6.3 6.4 -6.3 6.4 -6.3 6.3 -6.2 6.4 -6.3 6.3 -6.3 6.4 -6.3 6.4 -6.2 6.3 -6.2 6.4 -6.2 6.3 -6 6.4 -6 6.4 -5.7 6.3 -5.6 6.4 -5.3 6.3 -5 6.4 -4.7 M324.3 248.1l2.1 -2.1 2.1 -2 2.2 -2.1 2.1 -2 2.1 -2 2.1 -2.1 2.1 -2 2.2 -2.1 2.1 -2 2.1 -2.1 2.1 -2 2.1 -2.1 5.4 -5.2 5.4 -5.3 5.4 -5.2 5.4 -5.3 5.4 -5.2 5.4 -5.3 5.4 -5.3 5.4 -5.3 5.4 -5.3 5.4 -5.3 5.4 -5.3 6.4 -6.3 6.3 -6.3 6.4 -6.3 6.3 -6.3 6.4 -6.3 6.4 -6.4 6.3 -6.3 6.4 -6.3 6.3 -6.3 6.4 -6.4 6.4 -6.3 6.3 -6.2 6.4 -6.2 6.3 -6.2 6.4 -6 6.4 -5.9 6.3 -5.7 6.4 -5.5 6.3 -5.2 6.4 -4.8 M324.3 251.1l2.1 -2.1 2.1 -2 2.2 -2.1 2.1 -2 2.1 -2 2.1 -2.1 2.1 -2 2.2 -2.1 2.1 -2 2.1 -2.1 2.1 -2 2.1 -2.1 5.4 -5.2 5.4 -5.3 5.4 -5.2 5.4 -5.3 5.4 -5.3 5.4 -5.3 5.4 -5.3 5.4 -5.3 5.4 -5.3 5.4 -5.3 5.4 -5.3 6.4 -6.3 6.3 -6.4 6.4 -6.3 6.3 -6.3 6.4 -6.4 6.4 -6.3 6.3 -6.4 6.4 -6.3 6.3 -6.4 6.4 -6.4 6.4 -6.3 6.3 -6.3 6.4 -6.3 6.3 -6.2 6.4 -6.1 6.4 -6 6.3 -5.9 6.4 -5.6 6.3 -5.3 6.4 -5 M324.3 253.8l2.1 -2.1 2.1 -2 2.2 -2.1 2.1 -2 2.1 -2 2.1 -2.1 2.1 -2 2.2 -2.1 2.1 -2 2.1 -2.1 2.1 -2 2.1 -2.1 5.4 -5.2 5.4 -5.3 5.4 -5.3 5.4 -5.2 5.4 -5.3 5.4 -5.3 5.4 -5.3 5.4 -5.3 5.4 -5.4 5.4 -5.3 5.4 -5.4 6.4 -6.3 6.3 -6.3 6.4 -6.3 6.3 -6.4 6.4 -6.4 6.4 -6.3 6.3 -6.4 6.4 -6.4 6.3 -6.4 6.4 -6.4 6.4 -6.4 6.3 -6.4 6.4 -6.3 6.3 -6.3 6.4 -6.2 6.4 -6 6.3 -6 6.4 -5.7 6.3 -5.4 6.4 -5.2" stroke="#000" stroke-width="1.35"/>
<path d="M324.3 220.5l2.1 -2 2.1 -2.1 2.2 -2 2.1 -2 2.1 -2.1 2.1 -2 2.1 -2 2.2 -2.1 2.1 -2 2.1 -2 2.1 -2.1 2.1 -2 5.4 -5.2 5.4 -5.2 5.4 -5.2 5.4 -5.2 5.4 -5.1 5.4 -5.2 5.4 -5.2 5.4 -5.2 5.4 -5.2 5.4 -5.2 5.4 -5.1 6.4 -6.1 6.3 -6.1 6.4 -6.1 6.3 -6.1 6.4 -6 6.4 -6.1 6.3 -6 6.4 -6 6.3 -5.9 6.4 -5.8 6.4 -5.8 6.3 -5.6 6.4 -5.5 6.3 -5.2 6.4 -5 6.4 -4.8 6.3 -4.4 6.4 -4 6.3 -3.8 6.4 -3.4" stroke="#ff0000" stroke-width="3.5"/>
</g>
<g clip-path="url(#c2)" fill="none" stroke-linejoin="round">
<path d="M536.7 160l2.1 -3.3 2.1 -3.2 2.2 -2.9 2.1 -2.9 2.1 -2.7 2.1 -2.5 2.1 -2.5 2.2 -2.4 2.1 -2.2 2.1 -2.2 2.1 -2.1 2.1 -1.9 5.4 -4.8 5.4 -4.3 5.4 -3.9 5.4 -3.6 5.4 -3.4 5.4 -3.1 5.4 -2.8 5.4 -2.7 5.4 -2.5 5.4 -2.4 5.4 -2.2 6.4 -2.4 6.3 -2.3 6.4 -2.1 6.3 -2 6.4 -1.9 6.4 -1.8 6.3 -1.7 6.4 -1.6 6.3 -1.5 6.4 -1.5 6.4 -1.4 6.3 -1.3 6.4 -1.3 6.3 -1.2 6.4 -1.1 6.4 -1.1 6.3 -1.1 6.4 -1 6.3 -1 6.4 -1 M536.7 161.8l2.1 -3.5 2.1 -3.2 2.2 -3.1 2.1 -2.9 2.1 -2.8 2.1 -2.6 2.1 -2.6 2.2 -2.4 2.1 -2.3 2.1 -2.2 2.1 -2.1 2.1 -2.1 5.4 -4.8 5.4 -4.4 5.4 -4.1 5.4 -3.6 5.4 -3.4 5.4 -3.2 5.4 -2.9 5.4 -2.7 5.4 -2.6 5.4 -2.4 5.4 -2.2 6.4 -2.5 6.3 -2.3 6.4 -2.2 6.3 -2 6.4 -1.9 6.4 -1.8 6.3 -1.7 6.4 -1.6 6.3 -1.6 6.4 -1.5 6.4 -1.4 6.3 -1.3 6.4 -1.3 6.3 -1.2 6.4 -1.1 6.4 -1.2 6.3 -1 6.4 -1.1 6.3 -1 6.4 -.9 M536.7 164.5l2.1 -3.5 2.1 -3.4 2.2 -3.2 2.1 -3 2.1 -2.9 2.1 -2.8 2.1 -2.6 2.2 -2.5 2.1 -2.4 2.1 -2.3 2.1 -2.2 2.1 -2.1 5.4 -5 5.4 -4.5 5.4 -4.1 5.4 -3.8 5.4 -3.5 5.4 -3.2 5.4 -3 5.4 -2.8 5.4 -2.5 5.4 -2.5 5.4 -2.3 6.4 -2.5 6.3 -2.3 6.4 -2.2 6.3 -2.1 6.4 -1.9 6.4 -1.9 6.3 -1.7 6.4 -1.6 6.3 -1.6 6.4 -1.5 6.4 -1.4 6.3 -1.4 6.4 -1.2 6.3 -1.3 6.4 -1.2 6.4 -1.1 6.3 -1.1 6.4 -1 6.3 -1 6.4 -1 M536.7 166.6l2.1 -3.7 2.1 -3.5 2.2 -3.3 2.1 -3.1 2.1 -3 2.1 -2.8 2.1 -2.7 2.2 -2.6 2.1 -2.5 2.1 -2.3 2.1 -2.3 2.1 -2.1 5.4 -5.1 5.4 -4.7 5.4 -4.2 5.4 -3.9 5.4 -3.5 5.4 -3.3 5.4 -3 5.4 -2.9 5.4 -2.6 5.4 -2.5 5.4 -2.3 6.4 -2.5 6.3 -2.4 6.4 -2.3 6.3 -2 6.4 -2 6.4 -1.9 6.3 -1.7 6.4 -1.7 6.3 -1.6 6.4 -1.5 6.4 -1.4 6.3 -1.4 6.4 -1.3 6.3 -1.2 6.4 -1.2 6.4 -1.1 6.3 -1.1 6.4 -1.1 6.3 -1 6.4 -1 M536.7 170l2.1 -3.8 2.1 -3.6 2.2 -3.4 2.1 -3.2 2.1 -3.1 2.1 -2.9 2.1 -2.8 2.2 -2.6 2.1 -2.6 2.1 -2.4 2.1 -2.3 2.1 -2.2 5.4 -5.2 5.4 -4.8 5.4 -4.3 5.4 -3.9 5.4 -3.6 5.4 -3.4 5.4 -3.1 5.4 -2.8 5.4 -2.7 5.4 -2.5 5.4 -2.4 6.4 -2.6 6.3 -2.4 6.4 -2.2 6.3 -2.1 6.4 -2 6.4 -1.9 6.3 -1.8 6.4 -1.7 6.3 -1.6 6.4 -1.5 6.4 -1.4 6.3 -1.4 6.4 -1.3 6.3 -1.3 6.4 -1.2 6.4 -1.1 6.3 -1.1 6.4 -1.1 6.3 -1 6.4 -1 M536.7 172.7l2.1 -4 2.1 -3.8 2.2 -3.6 2.1 -3.3 2.1 -3.2 2.1 -3.1 2.1 -2.8 2.2 -2.8 2.1 -2.6 2.1 -2.5 2.1 -2.4 2.1 -2.3 5.4 -5.4 5.4 -4.9 5.4 -4.4 5.4 -4.1 5.4 -3.7 5.4 -3.4 5.4 -3.2 5.4 -2.9 5.4 -2.7 5.4 -2.6 5.4 -2.4 6.4 -2.6 6.3 -2.5 6.4 -2.3 6.3 -2.1 6.4 -2 6.4 -1.9 6.3 -1.8 6.4 -1.8 6.3 -1.6 6.4 -1.5 6.4 -1.5 6.3 -1.4 6.4 -1.3 6.3 -1.2 6.4 -1.3 6.4 -1.1 6.3 -1.1 6.4 -1.1 6.3 -1.1 6.4 -.9 M536.7 175.5l2.1 -4.2 2.1 -3.9 2.2 -3.8 2.1 -3.5 2.1 -3.3 2.1 -3.1 2.1 -3 2.2 -2.9 2.1 -2.7 2.1 -2.6 2.1 -2.5 2.1 -2.3 5.4 -5.6 5.4 -5 5.4 -4.6 5.4 -4.2 5.4 -3.8 5.4 -3.5 5.4 -3.2 5.4 -3 5.4 -2.8 5.4 -2.6 5.4 -2.4 6.4 -2.7 6.3 -2.5 6.4 -2.4 6.3 -2.2 6.4 -2 6.4 -1.9 6.3 -1.9 6.4 -1.7 6.3 -1.6 6.4 -1.6 6.4 -1.5 6.3 -1.4 6.4 -1.3 6.3 -1.3 6.4 -1.2 6.4 -1.2 6.3 -1.1 6.4 -1.1 6.3 -1.1 6.4 -1 M536.7 178.4l2.1 -4.3 2.1 -4.1 2.2 -3.8 2.1 -3.6 2.1 -3.5 2.1 -3.2 2.1 -3.1 2.2 -2.9 2.1 -2.8 2.1 -2.7 2.1 -2.5 2.1 -2.4 5.4 -5.7 5.4 -5.2 5.4 -4.6 5.4 -4.3 5.4 -3.8 5.4 -3.6 5.4 -3.3 5.4 -3 5.4 -2.9 5.4 -2.6 5.4 -2.5 6.4 -2.7 6.3 -2.6 6.4 -2.3 6.3 -2.2 6.4 -2.1 6.4 -2 6.3 -1.8 6.4 -1.8 6.3 -1.6 6.4 -1.6 6.4 -1.5 6.3 -1.4 6.4 -1.3 6.3 -1.3 6.4 -1.3 6.4 -1.2 6.3 -1.1 6.4 -1.1 6.3 -1 6.4 -1.1 M536.7 180.7l2.1 -4.5 2.1 -4.2 2.2 -3.9 2.1 -3.8 2.1 -3.5 2.1 -3.4 2.1 -3.1 2.2 -3.1 2.1 -2.8 2.1 -2.8 2.1 -2.6 2.1 -2.5 5.4 -5.8 5.4 -5.3 5.4 -4.7 5.4 -4.4 5.4 -3.9 5.4 -3.7 5.4 -3.3 5.4 -3.1 5.4 -2.9 5.4 -2.7 5.4 -2.5 6.4 -2.8 6.3 -2.5 6.4 -2.4 6.3 -2.3 6.4 -2.1 6.4 -1.9 6.3 -1.9 6.4 -1.8 6.3 -1.6 6.4 -1.6 6.4 -1.5 6.3 -1.4 6.4 -1.4 6.3 -1.3 6.4 -1.3 6.4 -1.2 6.3 -1.1 6.4 -1.1 6.3 -1.1 6.4 -1 M536.7 182.1l2.1 -4.5 2.1 -4.3 2.2 -4 2.1 -3.8 2.1 -3.5 2.1 -3.4 2.1 -3.2 2.2 -3.1 2.1 -2.9 2.1 -2.7 2.1 -2.7 2.1 -2.5 5.4 -5.9 5.4 -5.3 5.4 -4.8 5.4 -4.4 5.4 -4 5.4 -3.7 5.4 -3.3 5.4 -3.2 5.4 -2.9 5.4 -2.7 5.4 -2.5 6.4 -2.8 6.3 -2.6 6.4 -2.4 6.3 -2.3 6.4 -2.1 6.4 -2 6.3 -1.9 6.4 -1.8 6.3 -1.7 6.4 -1.6 6.4 -1.5 6.3 -1.5 6.4 -1.4 6.3 -1.3 6.4 -1.3 6.4 -1.2 6.3 -1.2 6.4 -1.1 6.3 -1.1 6.4 -1 M536.7 182.8l2.1 -4.6 2.1 -4.3 2.2 -4.1 2.1 -3.8 2.1 -3.6 2.1 -3.4 2.1 -3.3 2.2 -3.1 2.1 -2.9 2.1 -2.8 2.1 -2.6 2.1 -2.6 5.4 -5.9 5.4 -5.4 5.4 -4.8 5.4 -4.4 5.4 -4 5.4 -3.7 5.4 -3.4 5.4 -3.2 5.4 -2.9 5.4 -2.7 5.4 -2.6 6.4 -2.7 6.3 -2.6 6.4 -2.5 6.3 -2.2 6.4 -2.2 6.4 -2 6.3 -1.8 6.4 -1.8 6.3 -1.7 6.4 -1.6 6.4 -1.5 6.3 -1.5 6.4 -1.4 6.3 -1.3 6.4 -1.3 6.4 -1.2 6.3 -1.1 6.4 -1.1 6.3 -1.1 6.4 -1 M536.7 181.2l2.1 -4.5 2.1 -4.3 2.2 -4 2.1 -3.8 2.1 -3.6 2.1 -3.4 2.1 -3.2 2.2 -3 2.1 -2.9 2.1 -2.8 2.1 -2.6 2.1 -2.5 5.4 -5.9 5.4 -5.3 5.4 -4.8 5.4 -4.4 5.4 -3.9 5.4 -3.7 5.4 -3.3 5.4 -3.1 5.4 -2.9 5.4 -2.7 5.4 -2.5 6.4 -2.8 6.3 -2.5 6.4 -2.4 6.3 -2.3 6.4 -2.1 6.4 -1.9 6.3 -1.9 6.4 -1.7 6.3 -1.7 6.4 -1.6 6.4 -1.4 6.3 -1.5 6.4 -1.3 6.3 -1.3 6.4 -1.2 6.4 -1.2 6.3 -1.2 6.4 -1 6.3 -1.1 6.4 -1 M536.7 184.3l2.1 -4.7 2.1 -4.4 2.2 -4.1 2.1 -3.9 2.1 -3.7 2.1 -3.4 2.1 -3.3 2.2 -3.1 2.1 -3 2.1 -2.8 2.1 -2.7 2.1 -2.6 5.4 -6 5.4 -5.4 5.4 -4.9 5.4 -4.5 5.4 -4 5.4 -3.8 5.4 -3.4 5.4 -3.2 5.4 -2.9 5.4 -2.8 5.4 -2.5 6.4 -2.9 6.3 -2.6 6.4 -2.4 6.3 -2.3 6.4 -2.2 6.4 -2 6.3 -1.9 6.4 -1.8 6.3 -1.7 6.4 -1.6 6.4 -1.5 6.3 -1.5 6.4 -1.4 6.3 -1.3 6.4 -1.3 6.4 -1.2 6.3 -1.2 6.4 -1.1 6.3 -1.1 6.4 -1 M536.7 183.5l2.1 -4.6 2.1 -4.4 2.2 -4.1 2.1 -3.9 2.1 -3.6 2.1 -3.4 2.1 -3.3 2.2 -3.1 2.1 -3 2.1 -2.8 2.1 -2.6 2.1 -2.6 5.4 -6 5.4 -5.4 5.4 -4.8 5.4 -4.4 5.4 -4.1 5.4 -3.7 5.4 -3.4 5.4 -3.2 5.4 -2.9 5.4 -2.7 5.4 -2.6 6.4 -2.8 6.3 -2.6 6.4 -2.4 6.3 -2.3 6.4 -2.1 6.4 -2 6.3 -1.9 6.4 -1.8 6.3 -1.7 6.4 -1.6 6.4 -1.5 6.3 -1.5 6.4 -1.4 6.3 -1.3 6.4 -1.3 6.4 -1.2 6.3 -1.2 6.4 -1.1 6.3 -1 6.4 -1.1 M536.7 185l2.1 -4.7 2.1 -4.5 2.2 -4.1 2.1 -4 2.1 -3.7 2.1 -3.5 2.1 -3.3 2.2 -3.1 2.1 -3 2.1 -2.9 2.1 -2.7 2.1 -2.5 5.4 -6.1 5.4 -5.5 5.4 -4.9 5.4 -4.5 5.4 -4 5.4 -3.8 5.4 -3.4 5.4 -3.2 5.4 -3 5.4 -2.7 5.4 -2.6 6.4 -2.8 6.3 -2.7 6.4 -2.4 6.3 -2.3 6.4 -2.2 6.4 -2 6.3 -1.9 6.4 -1.8 6.3 -1.7 6.4 -1.6 6.4 -1.6 6.3 -1.4 6.4 -1.4 6.3 -1.4 6.4 -1.2 6.4 -1.3 6.3 -1.1 6.4 -1.2 6.3 -1 6.4 -1.1 M536.7 185l2.1 -4.8 2.1 -4.5 2.2 -4.2 2.1 -3.9 2.1 -3.7 2.1 -3.5 2.1 -3.4 2.2 -3.1 2.1 -3 2.1 -2.9 2.1 -2.7 2.1 -2.6 5.4 -6.1 5.4 -5.5 5.4 -4.9 5.4 -4.5 5.4 -4 5.4 -3.8 5.4 -3.4 5.4 -3.2 5.4 -3 5.4 -2.7 5.4 -2.6 6.4 -2.8 6.3 -2.6 6.4 -2.4 6.3 -2.3 6.4 -2.2 6.4 -2 6.3 -1.9 6.4 -1.8 6.3 -1.6 6.4 -1.6 6.4 -1.6 6.3 -1.4 6.4 -1.4 6.3 -1.3 6.4 -1.3 6.4 -1.2 6.3 -1.1 6.4 -1.1 6.3 -1.1 6.4 -1 M536.7 185.6l2.1 -4.8 2.1 -4.5 2.2 -4.3 2.1 -4 2.1 -3.7 2.1 -3.6 2.1 -3.3 2.2 -3.2 2.1 -3.1 2.1 -2.8 2.1 -2.8 2.1 -2.6 5.4 -6.1 5.4 -5.5 5.4 -5 5.4 -4.5 5.4 -4.1 5.4 -3.8 5.4 -3.4 5.4 -3.2 5.4 -3 5.4 -2.7 5.4 -2.6 6.4 -2.8 6.3 -2.6 6.4 -2.5 6.3 -2.3 6.4 -2.1 6.4 -2 6.3 -1.9 6.4 -1.8 6.3 -1.7 6.4 -1.5 6.4 -1.6 6.3 -1.4 6.4 -1.4 6.3 -1.3 6.4 -1.2 6.4 -1.2 6.3 -1.2 6.4 -1.1 6.3 -1 6.4 -1.1 M536.7 186.3l2.1 -4.8 2.1 -4.5 2.2 -4.3 2.1 -4 2.1 -3.7 2.1 -3.6 2.1 -3.3 2.2 -3.2 2.1 -3.1 2.1 -2.9 2.1 -2.7 2.1 -2.6 5.4 -6.2 5.4 -5.5 5.4 -5 5.4 -4.5 5.4 -4.1 5.4 -3.8 5.4 -3.4 5.4 -3.3 5.4 -2.9 5.4 -2.8 5.4 -2.6 6.4 -2.8 6.3 -2.7 6.4 -2.5 6.3 -2.3 6.4 -2.1 6.4 -2 6.3 -2 6.4 -1.8 6.3 -1.7 6.4 -1.6 6.4 -1.5 6.3 -1.5 6.4 -1.4 6.3 -1.3 6.4 -1.3 6.4 -1.2 6.3 -1.2 6.4 -1.1 6.3 -1.1 6.4 -1.1 M536.7 187.5l2.1 -4.9 2.1 -4.5 2.2 -4.3 2.1 -4 2.1 -3.8 2.1 -3.6 2.1 -3.4 2.2 -3.2 2.1 -3 2.1 -2.9 2.1 -2.8 2.1 -2.7 5.4 -6.2 5.4 -5.5 5.4 -5 5.4 -4.6 5.4 -4.1 5.4 -3.8 5.4 -3.5 5.4 -3.3 5.4 -3 5.4 -2.8 5.4 -2.6 6.4 -2.9 6.3 -2.6 6.4 -2.5 6.3 -2.4 6.4 -2.1 6.4 -2.1 6.3 -1.9 6.4 -1.9 6.3 -1.7 6.4 -1.6 6.4 -1.6 6.3 -1.5 6.4 -1.4 6.3 -1.4 6.4 -1.3 6.4 -1.2 6.3 -1.2 6.4 -1.2 6.3 -1.1 6.4 -1 M536.7 187.1l2.1 -4.9 2.1 -4.6 2.2 -4.3 2.1 -4.1 2.1 -3.8 2.1 -3.6 2.1 -3.5 2.2 -3.2 2.1 -3.1 2.1 -2.9 2.1 -2.8 2.1 -2.6 5.4 -6.2 5.4 -5.6 5.4 -5 5.4 -4.6 5.4 -4.1 5.4 -3.8 5.4 -3.5 5.4 -3.2 5.4 -3 5.4 -2.8 5.4 -2.6 6.4 -2.8 6.3 -2.7 6.4 -2.4 6.3 -2.3 6.4 -2.2 6.4 -2 6.3 -1.9 6.4 -1.8 6.3 -1.7 6.4 -1.6 6.4 -1.5 6.3 -1.4 6.4 -1.4 6.3 -1.3 6.4 -1.3 6.4 -1.2 6.3 -1.2 6.4 -1.1 6.3 -1 6.4 -1 M536.7 185.4l2.1 -4.8 2.1 -4.4 2.2 -4.2 2.1 -3.9 2.1 -3.8 2.1 -3.5 2.1 -3.3 2.2 -3.2 2.1 -3 2.1 -2.8 2.1 -2.7 2.1 -2.6 5.4 -6.1 5.4 -5.5 5.4 -4.9 5.4 -4.5 5.4 -4.1 5.4 -3.8 5.4 -3.4 5.4 -3.2 5.4 -3 5.4 -2.7 5.4 -2.6 6.4 -2.8 6.3 -2.7 6.4 -2.4 6.3 -2.3 6.4 -2.2 6.4 -2 6.3 -1.9 6.4 -1.8 6.3 -1.7 6.4 -1.7 6.4 -1.5 6.3 -1.5 6.4 -1.4 6.3 -1.3 6.4 -1.3 6.4 -1.2 6.3 -1.2 6.4 -1.1 6.3 -1.1 6.4 -1 M536.7 186.1l2.1 -4.8 2.1 -4.5 2.2 -4.3 2.1 -4 2.1 -3.7 2.1 -3.6 2.1 -3.3 2.2 -3.2 2.1 -3.1 2.1 -2.8 2.1 -2.8 2.1 -2.6 5.4 -6.2 5.4 -5.5 5.4 -4.9 5.4 -4.5 5.4 -4.2 5.4 -3.7 5.4 -3.5 5.4 -3.2 5.4 -3 5.4 -2.7 5.4 -2.6 6.4 -2.9 6.3 -2.6 6.4 -2.5 6.3 -2.3 6.4 -2.1 6.4 -2 6.3 -1.9 6.4 -1.8 6.3 -1.7 6.4 -1.7 6.4 -1.5 6.3 -1.5 6.4 -1.3 6.3 -1.4 6.4 -1.2 6.4 -1.3 6.3 -1.1 6.4 -1.1 6.3 -1.1 6.4 -1 M536.7 187.7l2.1 -5 2.1 -4.7 2.2 -4.3 2.1 -4.1 2.1 -3.9 2.1 -3.6 2.1 -3.5 2.2 -3.2 2.1 -3.1 2.1 -3 2.1 -2.8 2.1 -2.6 5.4 -6.3 5.4 -5.6 5.4 -5 5.4 -4.6 5.4 -4.1 5.4 -3.8 5.4 -3.5 5.4 -3.3 5.4 -3 5.4 -2.8 5.4 -2.6 6.4 -2.8 6.3 -2.6 6.4 -2.5 6.3 -2.3 6.4 -2.1 6.4 -2.1 6.3 -1.9 6.4 -1.8 6.3 -1.6 6.4 -1.7 6.4 -1.5 6.3 -1.4 6.4 -1.4 6.3 -1.3 6.4 -1.3 6.4 -1.2 6.3 -1.1 6.4 -1.1 6.3 -1.1 6.4 -1 M536.7 186.1l2.1 -4.8 2.1 -4.5 2.2 -4.2 2.1 -4 2.1 -3.8 2.1 -3.5 2.1 -3.4 2.2 -3.2 2.1 -3 2.1 -2.9 2.1 -2.7 2.1 -2.7 5.4 -6.1 5.4 -5.5 5.4 -5 5.4 -4.5 5.4 -4.1 5.4 -3.8 5.4 -3.4 5.4 -3.2 5.4 -3 5.4 -2.8 5.4 -2.6 6.4 -2.8 6.3 -2.6 6.4 -2.5 6.3 -2.3 6.4 -2.2 6.4 -2 6.3 -1.9 6.4 -1.8 6.3 -1.7 6.4 -1.6 6.4 -1.6 6.3 -1.4 6.4 -1.4 6.3 -1.3 6.4 -1.3 6.4 -1.2 6.3 -1.2 6.4 -1.1 6.3 -1.1 6.4 -1 M536.7 188.5l2.1 -5 2.1 -4.6 2.2 -4.4 2.1 -4.1 2.1 -3.9 2.1 -3.6 2.1 -3.5 2.2 -3.3 2.1 -3.1 2.1 -2.9 2.1 -2.8 2.1 -2.7 5.4 -6.3 5.4 -5.6 5.4 -5.1 5.4 -4.6 5.4 -4.2 5.4 -3.8 5.4 -3.5 5.4 -3.3 5.4 -3 5.4 -2.8 5.4 -2.6 6.4 -2.9 6.3 -2.6 6.4 -2.5 6.3 -2.3 6.4 -2.2 6.4 -2 6.3 -2 6.4 -1.8 6.3 -1.7 6.4 -1.6 6.4 -1.6 6.3 -1.4 6.4 -1.4 6.3 -1.4 6.4 -1.2 6.4 -1.3 6.3 -1.1 6.4 -1.1 6.3 -1.1 6.4 -1.1 M536.7 188.7l2.1 -5 2.1 -4.7 2.2 -4.4 2.1 -4.1 2.1 -3.9 2.1 -3.7 2.1 -3.5 2.2 -3.2 2.1 -3.2 2.1 -2.9 2.1 -2.8 2.1 -2.7 5.4 -6.3 5.4 -5.7 5.4 -5 5.4 -4.6 5.4 -4.2 5.4 -3.9 5.4 -3.5 5.4 -3.2 5.4 -3.1 5.4 -2.8 5.4 -2.6 6.4 -2.9 6.3 -2.6 6.4 -2.5 6.3 -2.3 6.4 -2.2 6.4 -2 6.3 -1.9 6.4 -1.8 6.3 -1.7 6.4 -1.7 6.4 -1.5 6.3 -1.5 6.4 -1.3 6.3 -1.4 6.4 -1.2 6.4 -1.2 6.3 -1.2 6.4 -1.1 6.3 -1.1 6.4 -1 M536.7 188l2.1 -5 2.1 -4.6 2.2 -4.4 2.1 -4 2.1 -3.9 2.1 -3.6 2.1 -3.5 2.2 -3.2 2.1 -3.1 2.1 -2.9 2.1 -2.8 2.1 -2.7 5.4 -6.2 5.4 -5.6 5.4 -5.1 5.4 -4.5 5.4 -4.2 5.4 -3.8 5.4 -3.5 5.4 -3.3 5.4 -3 5.4 -2.8 5.4 -2.6 6.4 -2.8 6.3 -2.7 6.4 -2.5 6.3 -2.3 6.4 -2.2 6.4 -2 6.3 -1.9 6.4 -1.8 6.3 -1.7 6.4 -1.7 6.4 -1.5 6.3 -1.5 6.4 -1.4 6.3 -1.3 6.4 -1.3 6.4 -1.2 6.3 -1.2 6.4 -1.1 6.3 -1.1 6.4 -1 M536.7 188.3l2.1 -5 2.1 -4.7 2.2 -4.4 2.1 -4.1 2.1 -3.9 2.1 -3.7 2.1 -3.4 2.2 -3.3 2.1 -3.1 2.1 -3 2.1 -2.8 2.1 -2.7 5.4 -6.3 5.4 -5.6 5.4 -5.1 5.4 -4.6 5.4 -4.1 5.4 -3.9 5.4 -3.5 5.4 -3.2 5.4 -3 5.4 -2.8 5.4 -2.6 6.4 -2.9 6.3 -2.6 6.4 -2.5 6.3 -2.3 6.4 -2.1 6.4 -2.1 6.3 -1.9 6.4 -1.8 6.3 -1.7 6.4 -1.6 6.4 -1.5 6.3 -1.4 6.4 -1.4 6.3 -1.3 6.4 -1.3 6.4 -1.2 6.3 -1.1 6.4 -1.1 6.3 -1.1 6.4 -1 M536.7 191.1l2.1 -5.1 2.1 -4.8 2.2 -4.6 2.1 -4.2 2.1 -4 2.1 -3.7 2.1 -3.6 2.2 -3.3 2.1 -3.2 2.1 -3 2.1 -2.9 2.1 -2.8 5.4 -6.4 5.4 -5.7 5.4 -5.2 5.4 -4.7 5.4 -4.2 5.4 -3.9 5.4 -3.6 5.4 -3.3 5.4 -3.1 5.4 -2.8 5.4 -2.7 6.4 -2.9 6.3 -2.7 6.4 -2.5 6.3 -2.3 6.4 -2.2 6.4 -2.1 6.3 -1.9 6.4 -1.8 6.3 -1.8 6.4 -1.6 6.4 -1.6 6.3 -1.5 6.4 -1.4 6.3 -1.3 6.4 -1.3 6.4 -1.2 6.3 -1.2 6.4 -1.1 6.3 -1.1 6.4 -1.1 M536.7 191.1l2.1 -5.2 2.1 -4.8 2.2 -4.6 2.1 -4.2 2.1 -4 2.1 -3.8 2.1 -3.5 2.2 -3.4 2.1 -3.2 2.1 -3 2.1 -2.9 2.1 -2.8 5.4 -6.4 5.4 -5.7 5.4 -5.2 5.4 -4.7 5.4 -4.2 5.4 -3.9 5.4 -3.6 5.4 -3.3 5.4 -3.1 5.4 -2.8 5.4 -2.6 6.4 -2.9 6.3 -2.7 6.4 -2.5 6.3 -2.4 6.4 -2.2 6.4 -2 6.3 -1.9 6.4 -1.9 6.3 -1.7 6.4 -1.6 6.4 -1.6 6.3 -1.4 6.4 -1.4 6.3 -1.4 6.4 -1.2 6.4 -1.3 6.3 -1.1 6.4 -1.1 6.3 -1.1 6.4 -1 M536.7 190.4l2.1 -5.1 2.1 -4.8 2.2 -4.5 2.1 -4.2 2.1 -4 2.1 -3.7 2.1 -3.6 2.2 -3.3 2.1 -3.2 2.1 -3 2.1 -2.9 2.1 -2.7 5.4 -6.4 5.4 -5.7 5.4 -5.1 5.4 -4.7 5.4 -4.2 5.4 -3.9 5.4 -3.6 5.4 -3.3 5.4 -3 5.4 -2.8 5.4 -2.7 6.4 -2.9 6.3 -2.6 6.4 -2.5 6.3 -2.4 6.4 -2.1 6.4 -2.1 6.3 -1.9 6.4 -1.8 6.3 -1.7 6.4 -1.7 6.4 -1.5 6.3 -1.5 6.4 -1.4 6.3 -1.3 6.4 -1.3 6.4 -1.2 6.3 -1.2 6.4 -1.1 6.3 -1.1 6.4 -1 M536.7 191.3l2.1 -5.2 2.1 -4.8 2.2 -4.5 2.1 -4.2 2.1 -4 2.1 -3.8 2.1 -3.5 2.2 -3.4 2.1 -3.2 2.1 -3 2.1 -2.9 2.1 -2.7 5.4 -6.5 5.4 -5.7 5.4 -5.2 5.4 -4.6 5.4 -4.3 5.4 -3.9 5.4 -3.6 5.4 -3.3 5.4 -3 5.4 -2.9 5.4 -2.7 6.4 -2.9 6.3 -2.7 6.4 -2.5 6.3 -2.3 6.4 -2.2 6.4 -2.1 6.3 -1.9 6.4 -1.9 6.3 -1.7 6.4 -1.7 6.4 -1.5 6.3 -1.5 6.4 -1.4 6.3 -1.4 6.4 -1.3 6.4 -1.2 6.3 -1.2 6.4 -1.1 6.3 -1.1 6.4 -1.1 M536.7 192l2.1 -5.2 2.1 -4.9 2.2 -4.5 2.1 -4.3 2.1 -4 2.1 -3.8 2.1 -3.5 2.2 -3.4 2.1 -3.2 2.1 -3.1 2.1 -2.9 2.1 -2.7 5.4 -6.5 5.4 -5.8 5.4 -5.2 5.4 -4.7 5.4 -4.2 5.4 -4 5.4 -3.6 5.4 -3.3 5.4 -3.1 5.4 -2.8 5.4 -2.7 6.4 -2.9 6.3 -2.7 6.4 -2.5 6.3 -2.4 6.4 -2.2 6.4 -2.1 6.3 -1.9 6.4 -1.9 6.3 -1.7 6.4 -1.7 6.4 -1.5 6.3 -1.5 6.4 -1.5 6.3 -1.3 6.4 -1.3 6.4 -1.2 6.3 -1.2 6.4 -1.2 6.3 -1.1 6.4 -1 M536.7 194.6l2.1 -5.3 2.1 -5 2.2 -4.7 2.1 -4.3 2.1 -4.1 2.1 -3.9 2.1 -3.6 2.2 -3.5 2.1 -3.3 2.1 -3.1 2.1 -2.9 2.1 -2.8 5.4 -6.6 5.4 -5.9 5.4 -5.3 5.4 -4.8 5.4 -4.3 5.4 -4 5.4 -3.6 5.4 -3.4 5.4 -3.1 5.4 -2.9 5.4 -2.8 6.4 -2.9 6.3 -2.8 6.4 -2.6 6.3 -2.4 6.4 -2.2 6.4 -2.1 6.3 -2 6.4 -1.9 6.3 -1.8 6.4 -1.6 6.4 -1.6 6.3 -1.6 6.4 -1.4 6.3 -1.4 6.4 -1.3 6.4 -1.3 6.3 -1.2 6.4 -1.2 6.3 -1.1 6.4 -1.1 M536.7 192.6l2.1 -5.2 2.1 -4.9 2.2 -4.5 2.1 -4.3 2.1 -4.1 2.1 -3.8 2.1 -3.5 2.2 -3.4 2.1 -3.3 2.1 -3 2.1 -2.9 2.1 -2.8 5.4 -6.5 5.4 -5.8 5.4 -5.2 5.4 -4.7 5.4 -4.3 5.4 -4 5.4 -3.6 5.4 -3.3 5.4 -3.1 5.4 -2.9 5.4 -2.6 6.4 -3 6.3 -2.7 6.4 -2.5 6.3 -2.4 6.4 -2.2 6.4 -2.1 6.3 -2 6.4 -1.8 6.3 -1.8 6.4 -1.6 6.4 -1.6 6.3 -1.5 6.4 -1.5 6.3 -1.3 6.4 -1.3 6.4 -1.3 6.3 -1.2 6.4 -1.1 6.3 -1.1 6.4 -1.1 M536.7 194.1l2.1 -5.3 2.1 -5 2.2 -4.7 2.1 -4.4 2.1 -4.1 2.1 -3.8 2.1 -3.7 2.2 -3.5 2.1 -3.2 2.1 -3.2 2.1 -2.9 2.1 -2.8 5.4 -6.6 5.4 -5.9 5.4 -5.3 5.4 -4.7 5.4 -4.4 5.4 -4 5.4 -3.6 5.4 -3.4 5.4 -3.1 5.4 -2.9 5.4 -2.6 6.4 -3 6.3 -2.7 6.4 -2.6 6.3 -2.4 6.4 -2.2 6.4 -2.1 6.3 -1.9 6.4 -1.9 6.3 -1.7 6.4 -1.7 6.4 -1.6 6.3 -1.5 6.4 -1.4 6.3 -1.3 6.4 -1.3 6.4 -1.3 6.3 -1.2 6.4 -1.1 6.3 -1.1 6.4 -1.1 M536.7 192.9l2.1 -5.2 2.1 -5 2.2 -4.6 2.1 -4.3 2.1 -4.1 2.1 -3.8 2.1 -3.6 2.2 -3.5 2.1 -3.2 2.1 -3.1 2.1 -2.9 2.1 -2.8 5.4 -6.5 5.4 -5.9 5.4 -5.2 5.4 -4.7 5.4 -4.3 5.4 -4 5.4 -3.6 5.4 -3.3 5.4 -3.1 5.4 -2.9 5.4 -2.7 6.4 -2.9 6.3 -2.7 6.4 -2.5 6.3 -2.4 6.4 -2.2 6.4 -2.1 6.3 -1.9 6.4 -1.9 6.3 -1.7 6.4 -1.6 6.4 -1.6 6.3 -1.5 6.4 -1.4 6.3 -1.4 6.4 -1.2 6.4 -1.3 6.3 -1.2 6.4 -1.1 6.3 -1.1 6.4 -1 M536.7 196.1l2.1 -5.5 2.1 -5.1 2.2 -4.8 2.1 -4.4 2.1 -4.3 2.1 -3.9 2.1 -3.7 2.2 -3.6 2.1 -3.3 2.1 -3.2 2.1 -3 2.1 -2.9 5.4 -6.7 5.4 -5.9 5.4 -5.4 5.4 -4.8 5.4 -4.4 5.4 -4 5.4 -3.7 5.4 -3.4 5.4 -3.2 5.4 -2.9 5.4 -2.7 6.4 -3 6.3 -2.7 6.4 -2.6 6.3 -2.4 6.4 -2.2 6.4 -2.1 6.3 -2 6.4 -1.9 6.3 -1.7 6.4 -1.7 6.4 -1.6 6.3 -1.5 6.4 -1.4 6.3 -1.4 6.4 -1.3 6.4 -1.2 6.3 -1.2 6.4 -1.2 6.3 -1.1 6.4 -1 M536.7 195.8l2.1 -5.5 2.1 -5.1 2.2 -4.7 2.1 -4.5 2.1 -4.2 2.1 -4 2.1 -3.7 2.2 -3.5 2.1 -3.3 2.1 -3.2 2.1 -3 2.1 -2.9 5.4 -6.6 5.4 -6 5.4 -5.3 5.4 -4.9 5.4 -4.4 5.4 -4 5.4 -3.6 5.4 -3.4 5.4 -3.2 5.4 -2.9 5.4 -2.7 6.4 -3 6.3 -2.7 6.4 -2.6 6.3 -2.4 6.4 -2.2 6.4 -2.1 6.3 -2 6.4 -1.8 6.3 -1.8 6.4 -1.6 6.4 -1.6 6.3 -1.5 6.4 -1.4 6.3 -1.4 6.4 -1.3 6.4 -1.3 6.3 -1.1 6.4 -1.2 6.3 -1.1 6.4 -1 M536.7 197.7l2.1 -5.6 2.1 -5.2 2.2 -4.9 2.1 -4.5 2.1 -4.3 2.1 -4 2.1 -3.8 2.2 -3.6 2.1 -3.4 2.1 -3.2 2.1 -3.1 2.1 -2.9 5.4 -6.7 5.4 -6.1 5.4 -5.4 5.4 -4.9 5.4 -4.4 5.4 -4.1 5.4 -3.7 5.4 -3.4 5.4 -3.2 5.4 -2.9 5.4 -2.8 6.4 -3 6.3 -2.8 6.4 -2.5 6.3 -2.5 6.4 -2.2 6.4 -2.1 6.3 -2 6.4 -1.9 6.3 -1.8 6.4 -1.6 6.4 -1.6 6.3 -1.5 6.4 -1.5 6.3 -1.3 6.4 -1.4 6.4 -1.2 6.3 -1.2 6.4 -1.2 6.3 -1.1 6.4 -1 M536.7 194.1l2.1 -5.4 2.1 -5 2.2 -4.6 2.1 -4.4 2.1 -4.2 2.1 -3.8 2.1 -3.7 2.2 -3.5 2.1 -3.3 2.1 -3.1 2.1 -2.9 2.1 -2.9 5.4 -6.6 5.4 -5.8 5.4 -5.3 5.4 -4.8 5.4 -4.3 5.4 -4 5.4 -3.6 5.4 -3.4 5.4 -3.1 5.4 -2.9 5.4 -2.7 6.4 -2.9 6.3 -2.7 6.4 -2.6 6.3 -2.4 6.4 -2.2 6.4 -2 6.3 -2 6.4 -1.8 6.3 -1.8 6.4 -1.6 6.4 -1.6 6.3 -1.5 6.4 -1.4 6.3 -1.4 6.4 -1.2 6.4 -1.3 6.3 -1.2 6.4 -1.1 6.3 -1.1 6.4 -1 M536.7 193.6l2.1 -5.4 2.1 -5 2.2 -4.7 2.1 -4.5 2.1 -4.1 2.1 -3.9 2.1 -3.7 2.2 -3.5 2.1 -3.3 2.1 -3.1 2.1 -3 2.1 -2.8 5.4 -6.6 5.4 -5.9 5.4 -5.3 5.4 -4.7 5.4 -4.4 5.4 -3.9 5.4 -3.6 5.4 -3.4 5.4 -3.1 5.4 -2.8 5.4 -2.7 6.4 -2.9 6.3 -2.7 6.4 -2.5 6.3 -2.4 6.4 -2.1 6.4 -2.1 6.3 -1.9 6.4 -1.8 6.3 -1.7 6.4 -1.6 6.4 -1.6 6.3 -1.4 6.4 -1.4 6.3 -1.3 6.4 -1.3 6.4 -1.2 6.3 -1.1 6.4 -1.1 6.3 -1.1 6.4 -1 M536.7 198.1l2.1 -5.6 2.1 -5.2 2.2 -4.8 2.1 -4.6 2.1 -4.3 2.1 -4 2.1 -3.8 2.2 -3.5 2.1 -3.4 2.1 -3.2 2.1 -3.1 2.1 -2.9 5.4 -6.8 5.4 -6 5.4 -5.5 5.4 -4.9 5.4 -4.4 5.4 -4.1 5.4 -3.7 5.4 -3.4 5.4 -3.2 5.4 -3 5.4 -2.7 6.4 -3 6.3 -2.8 6.4 -2.6 6.3 -2.5 6.4 -2.2 6.4 -2.2 6.3 -2 6.4 -1.9 6.3 -1.7 6.4 -1.7 6.4 -1.6 6.3 -1.6 6.4 -1.4 6.3 -1.4 6.4 -1.4 6.4 -1.2 6.3 -1.3 6.4 -1.1 6.3 -1.1 6.4 -1.1 M536.7 198.1l2.1 -5.7 2.1 -5.2 2.2 -4.9 2.1 -4.6 2.1 -4.4 2.1 -4 2.1 -3.8 2.2 -3.7 2.1 -3.4 2.1 -3.2 2.1 -3.1 2.1 -2.9 5.4 -6.8 5.4 -6.1 5.4 -5.4 5.4 -4.9 5.4 -4.5 5.4 -4 5.4 -3.8 5.4 -3.4 5.4 -3.2 5.4 -2.9 5.4 -2.7 6.4 -3 6.3 -2.8 6.4 -2.6 6.3 -2.4 6.4 -2.2 6.4 -2.1 6.3 -2 6.4 -1.9 6.3 -1.7 6.4 -1.7 6.4 -1.6 6.3 -1.5 6.4 -1.4 6.3 -1.4 6.4 -1.3 6.4 -1.2 6.3 -1.2 6.4 -1.1 6.3 -1.1 6.4 -1 M536.7 198.6l2.1 -5.6 2.1 -5.2 2.2 -4.9 2.1 -4.6 2.1 -4.3 2.1 -4 2.1 -3.9 2.2 -3.6 2.1 -3.4 2.1 -3.2 2.1 -3.1 2.1 -2.9 5.4 -6.8 5.4 -6.1 5.4 -5.4 5.4 -4.9 5.4 -4.5 5.4 -4.1 5.4 -3.7 5.4 -3.5 5.4 -3.1 5.4 -3 5.4 -2.8 6.4 -3 6.3 -2.8 6.4 -2.6 6.3 -2.4 6.4 -2.3 6.4 -2.1 6.3 -2 6.4 -1.9 6.3 -1.8 6.4 -1.7 6.4 -1.6 6.3 -1.5 6.4 -1.5 6.3 -1.4 6.4 -1.3 6.4 -1.3 6.3 -1.2 6.4 -1.2 6.3 -1.1 6.4 -1.1 M536.7 199.9l2.1 -5.7 2.1 -5.3 2.2 -5 2.1 -4.7 2.1 -4.4 2.1 -4.1 2.1 -3.9 2.2 -3.6 2.1 -3.5 2.1 -3.3 2.1 -3.1 2.1 -2.9 5.4 -7 5.4 -6.1 5.4 -5.5 5.4 -5 5.4 -4.5 5.4 -4.1 5.4 -3.7 5.4 -3.5 5.4 -3.2 5.4 -3 5.4 -2.7 6.4 -3.1 6.3 -2.8 6.4 -2.6 6.3 -2.4 6.4 -2.3 6.4 -2.1 6.3 -2 6.4 -1.9 6.3 -1.8 6.4 -1.7 6.4 -1.6 6.3 -1.5 6.4 -1.5 6.3 -1.3 6.4 -1.4 6.4 -1.2 6.3 -1.2 6.4 -1.2 6.3 -1.1 6.4 -1.1 M536.7 200.3l2.1 -5.8 2.1 -5.4 2.2 -5 2.1 -4.7 2.1 -4.4 2.1 -4.1 2.1 -3.9 2.2 -3.6 2.1 -3.5 2.1 -3.3 2.1 -3.1 2.1 -3 5.4 -6.9 5.4 -6.2 5.4 -5.5 5.4 -5 5.4 -4.5 5.4 -4.1 5.4 -3.8 5.4 -3.4 5.4 -3.2 5.4 -3 5.4 -2.8 6.4 -3 6.3 -2.8 6.4 -2.6 6.3 -2.5 6.4 -2.2 6.4 -2.2 6.3 -2 6.4 -1.9 6.3 -1.8 6.4 -1.7 6.4 -1.6 6.3 -1.5 6.4 -1.4 6.3 -1.4 6.4 -1.3 6.4 -1.3 6.3 -1.2 6.4 -1.2 6.3 -1.1 6.4 -1 M536.7 202.1l2.1 -5.8 2.1 -5.5 2.2 -5.1 2.1 -4.8 2.1 -4.5 2.1 -4.2 2.1 -3.9 2.2 -3.7 2.1 -3.6 2.1 -3.3 2.1 -3.2 2.1 -3 5.4 -7 5.4 -6.2 5.4 -5.6 5.4 -5.1 5.4 -4.5 5.4 -4.2 5.4 -3.8 5.4 -3.5 5.4 -3.2 5.4 -3.1 5.4 -2.8 6.4 -3 6.3 -2.8 6.4 -2.7 6.3 -2.4 6.4 -2.3 6.4 -2.2 6.3 -2 6.4 -1.9 6.3 -1.8 6.4 -1.7 6.4 -1.6 6.3 -1.6 6.4 -1.4 6.3 -1.4 6.4 -1.4 6.4 -1.2 6.3 -1.3 6.4 -1.1 6.3 -1.2 6.4 -1 M536.7 201.2l2.1 -5.9 2.1 -5.4 2.2 -5.1 2.1 -4.8 2.1 -4.4 2.1 -4.2 2.1 -3.9 2.2 -3.8 2.1 -3.5 2.1 -3.3 2.1 -3.2 2.1 -3 5.4 -6.9 5.4 -6.3 5.4 -5.5 5.4 -5 5.4 -4.6 5.4 -4.1 5.4 -3.8 5.4 -3.5 5.4 -3.2 5.4 -3 5.4 -2.7 6.4 -3.1 6.3 -2.8 6.4 -2.6 6.3 -2.4 6.4 -2.3 6.4 -2.1 6.3 -2 6.4 -1.9 6.3 -1.8 6.4 -1.7 6.4 -1.6 6.3 -1.5 6.4 -1.4 6.3 -1.4 6.4 -1.3 6.4 -1.3 6.3 -1.1 6.4 -1.2 6.3 -1.1 6.4 -1 M536.7 202.3l2.1 -5.9 2.1 -5.5 2.2 -5.2 2.1 -4.8 2.1 -4.5 2.1 -4.2 2.1 -4 2.2 -3.7 2.1 -3.6 2.1 -3.3 2.1 -3.2 2.1 -3 5.4 -7.1 5.4 -6.2 5.4 -5.6 5.4 -5.1 5.4 -4.6 5.4 -4.1 5.4 -3.8 5.4 -3.5 5.4 -3.3 5.4 -3 5.4 -2.8 6.4 -3 6.3 -2.9 6.4 -2.6 6.3 -2.4 6.4 -2.3 6.4 -2.1 6.3 -2.1 6.4 -1.9 6.3 -1.7 6.4 -1.7 6.4 -1.6 6.3 -1.6 6.4 -1.4 6.3 -1.4 6.4 -1.3 6.4 -1.3 6.3 -1.2 6.4 -1.1 6.3 -1.1 6.4 -1.1 M536.7 203.4l2.1 -6.1 2.1 -5.6 2.2 -5.2 2.1 -4.9 2.1 -4.5 2.1 -4.3 2.1 -4 2.2 -3.8 2.1 -3.6 2.1 -3.4 2.1 -3.2 2.1 -3.1 5.4 -7.1 5.4 -6.3 5.4 -5.6 5.4 -5.1 5.4 -4.6 5.4 -4.2 5.4 -3.8 5.4 -3.6 5.4 -3.2 5.4 -3 5.4 -2.8 6.4 -3.1 6.3 -2.8 6.4 -2.6 6.3 -2.5 6.4 -2.3 6.4 -2.1 6.3 -2 6.4 -1.9 6.3 -1.8 6.4 -1.7 6.4 -1.6 6.3 -1.5 6.4 -1.5 6.3 -1.3 6.4 -1.3 6.4 -1.3 6.3 -1.2 6.4 -1.2 6.3 -1.1 6.4 -1 M536.7 203.1l2.1 -6 2.1 -5.6 2.2 -5.1 2.1 -4.9 2.1 -4.5 2.1 -4.2 2.1 -4 2.2 -3.8 2.1 -3.6 2.1 -3.3 2.1 -3.2 2.1 -3.1 5.4 -7 5.4 -6.3 5.4 -5.6 5.4 -5.1 5.4 -4.6 5.4 -4.2 5.4 -3.8 5.4 -3.5 5.4 -3.3 5.4 -3 5.4 -2.8 6.4 -3.1 6.3 -2.8 6.4 -2.6 6.3 -2.5 6.4 -2.3 6.4 -2.2 6.3 -2 6.4 -1.9 6.3 -1.8 6.4 -1.7 6.4 -1.6 6.3 -1.5 6.4 -1.5 6.3 -1.4 6.4 -1.3 6.4 -1.3 6.3 -1.2 6.4 -1.2 6.3 -1.1 6.4 -1.1 M536.7 203l2.1 -5.9 2.1 -5.5 2.2 -5.1 2.1 -4.8 2.1 -4.5 2.1 -4.2 2.1 -4 2.2 -3.7 2.1 -3.6 2.1 -3.3 2.1 -3.2 2.1 -3 5.4 -7.1 5.4 -6.2 5.4 -5.6 5.4 -5.1 5.4 -4.6 5.4 -4.2 5.4 -3.8 5.4 -3.5 5.4 -3.3 5.4 -3 5.4 -2.8 6.4 -3.1 6.3 -2.9 6.4 -2.6 6.3 -2.5 6.4 -2.3 6.4 -2.2 6.3 -2 6.4 -2 6.3 -1.8 6.4 -1.7 6.4 -1.6 6.3 -1.6 6.4 -1.5 6.3 -1.4 6.4 -1.3 6.4 -1.3 6.3 -1.3 6.4 -1.2 6.3 -1.1 6.4 -1.1 M536.7 206l2.1 -6.1 2.1 -5.8 2.2 -5.3 2.1 -5 2.1 -4.7 2.1 -4.4 2.1 -4.1 2.2 -3.9 2.1 -3.7 2.1 -3.4 2.1 -3.3 2.1 -3.1 5.4 -7.3 5.4 -6.4 5.4 -5.7 5.4 -5.2 5.4 -4.7 5.4 -4.2 5.4 -3.9 5.4 -3.6 5.4 -3.3 5.4 -3 5.4 -2.9 6.4 -3.1 6.3 -2.9 6.4 -2.6 6.3 -2.5 6.4 -2.3 6.4 -2.2 6.3 -2 6.4 -1.9 6.3 -1.8 6.4 -1.8 6.4 -1.6 6.3 -1.5 6.4 -1.5 6.3 -1.4 6.4 -1.3 6.4 -1.3 6.3 -1.2 6.4 -1.2 6.3 -1.1 6.4 -1.1 M536.7 206.2l2.1 -6.2 2.1 -5.7 2.2 -5.4 2.1 -4.9 2.1 -4.7 2.1 -4.4 2.1 -4.1 2.2 -3.9 2.1 -3.6 2.1 -3.5 2.1 -3.3 2.1 -3.1 5.4 -7.2 5.4 -6.4 5.4 -5.8 5.4 -5.1 5.4 -4.7 5.4 -4.3 5.4 -3.9 5.4 -3.6 5.4 -3.3 5.4 -3 5.4 -2.9 6.4 -3.1 6.3 -2.9 6.4 -2.6 6.3 -2.5 6.4 -2.3 6.4 -2.2 6.3 -2.1 6.4 -1.9 6.3 -1.8 6.4 -1.8 6.4 -1.6 6.3 -1.5 6.4 -1.5 6.3 -1.4 6.4 -1.4 6.4 -1.3 6.3 -1.2 6.4 -1.2 6.3 -1.1 6.4 -1.1 M536.7 202.5l2.1 -5.9 2.1 -5.5 2.2 -5.2 2.1 -4.7 2.1 -4.5 2.1 -4.3 2.1 -3.9 2.2 -3.8 2.1 -3.5 2.1 -3.4 2.1 -3.1 2.1 -3.1 5.4 -7 5.4 -6.3 5.4 -5.6 5.4 -5 5.4 -4.6 5.4 -4.1 5.4 -3.9 5.4 -3.5 5.4 -3.2 5.4 -3 5.4 -2.8 6.4 -3.1 6.3 -2.8 6.4 -2.7 6.3 -2.4 6.4 -2.3 6.4 -2.2 6.3 -2 6.4 -1.9 6.3 -1.8 6.4 -1.7 6.4 -1.6 6.3 -1.5 6.4 -1.5 6.3 -1.4 6.4 -1.3 6.4 -1.3 6.3 -1.2 6.4 -1.2 6.3 -1.1 6.4 -1.1 M536.7 206.2l2.1 -6.2 2.1 -5.7 2.2 -5.4 2.1 -5 2.1 -4.6 2.1 -4.4 2.1 -4.1 2.2 -3.9 2.1 -3.7 2.1 -3.4 2.1 -3.3 2.1 -3.1 5.4 -7.3 5.4 -6.4 5.4 -5.7 5.4 -5.2 5.4 -4.7 5.4 -4.2 5.4 -3.9 5.4 -3.6 5.4 -3.3 5.4 -3.1 5.4 -2.8 6.4 -3.1 6.3 -2.9 6.4 -2.7 6.3 -2.5 6.4 -2.3 6.4 -2.2 6.3 -2 6.4 -1.9 6.3 -1.9 6.4 -1.7 6.4 -1.6 6.3 -1.6 6.4 -1.4 6.3 -1.4 6.4 -1.4 6.4 -1.3 6.3 -1.2 6.4 -1.2 6.3 -1.1 6.4 -1.1 M536.7 205.3l2.1 -6.1 2.1 -5.7 2.2 -5.3 2.1 -4.9 2.1 -4.7 2.1 -4.3 2.1 -4.1 2.2 -3.9 2.1 -3.6 2.1 -3.4 2.1 -3.3 2.1 -3.1 5.4 -7.2 5.4 -6.4 5.4 -5.7 5.4 -5.1 5.4 -4.7 5.4 -4.2 5.4 -3.9 5.4 -3.6 5.4 -3.3 5.4 -3 5.4 -2.8 6.4 -3.1 6.3 -2.9 6.4 -2.7 6.3 -2.4 6.4 -2.3 6.4 -2.2 6.3 -2 6.4 -2 6.3 -1.8 6.4 -1.7 6.4 -1.6 6.3 -1.5 6.4 -1.5 6.3 -1.4 6.4 -1.3 6.4 -1.3 6.3 -1.2 6.4 -1.2 6.3 -1.1 6.4 -1.1 M536.7 207.9l2.1 -6.3 2.1 -5.8 2.2 -5.5 2.1 -5 2.1 -4.7 2.1 -4.5 2.1 -4.1 2.2 -4 2.1 -3.7 2.1 -3.5 2.1 -3.3 2.1 -3.1 5.4 -7.3 5.4 -6.5 5.4 -5.8 5.4 -5.2 5.4 -4.8 5.4 -4.3 5.4 -3.9 5.4 -3.6 5.4 -3.3 5.4 -3.1 5.4 -2.9 6.4 -3.1 6.3 -2.9 6.4 -2.7 6.3 -2.6 6.4 -2.3 6.4 -2.2 6.3 -2.1 6.4 -1.9 6.3 -1.9 6.4 -1.7 6.4 -1.7 6.3 -1.5 6.4 -1.5 6.3 -1.4 6.4 -1.4 6.4 -1.3 6.3 -1.3 6.4 -1.1 6.3 -1.2 6.4 -1.1 M536.7 208.6l2.1 -6.4 2.1 -5.9 2.2 -5.5 2.1 -5.1 2.1 -4.8 2.1 -4.5 2.1 -4.2 2.2 -3.9 2.1 -3.8 2.1 -3.5 2.1 -3.4 2.1 -3.1 5.4 -7.4 5.4 -6.5 5.4 -5.9 5.4 -5.2 5.4 -4.8 5.4 -4.3 5.4 -3.9 5.4 -3.6 5.4 -3.4 5.4 -3.1 5.4 -2.8 6.4 -3.2 6.3 -2.9 6.4 -2.7 6.3 -2.5 6.4 -2.3 6.4 -2.2 6.3 -2.1 6.4 -1.9 6.3 -1.8 6.4 -1.8 6.4 -1.6 6.3 -1.6 6.4 -1.4 6.3 -1.5 6.4 -1.3 6.4 -1.3 6.3 -1.2 6.4 -1.2 6.3 -1.1 6.4 -1.1 M536.7 210.5l2.1 -6.5 2.1 -6.1 2.2 -5.6 2.1 -5.2 2.1 -4.9 2.1 -4.6 2.1 -4.3 2.2 -4 2.1 -3.8 2.1 -3.6 2.1 -3.4 2.1 -3.2 5.4 -7.5 5.4 -6.7 5.4 -5.9 5.4 -5.3 5.4 -4.8 5.4 -4.3 5.4 -4 5.4 -3.7 5.4 -3.3 5.4 -3.1 5.4 -2.9 6.4 -3.2 6.3 -2.9 6.4 -2.7 6.3 -2.5 6.4 -2.4 6.4 -2.2 6.3 -2.1 6.4 -1.9 6.3 -1.8 6.4 -1.8 6.4 -1.6 6.3 -1.6 6.4 -1.4 6.3 -1.5 6.4 -1.3 6.4 -1.3 6.3 -1.2 6.4 -1.2 6.3 -1.1 6.4 -1.1 M536.7 208l2.1 -6.4 2.1 -5.9 2.2 -5.5 2.1 -5.1 2.1 -4.8 2.1 -4.5 2.1 -4.2 2.2 -4 2.1 -3.7 2.1 -3.6 2.1 -3.3 2.1 -3.2 5.4 -7.4 5.4 -6.5 5.4 -5.8 5.4 -5.2 5.4 -4.7 5.4 -4.3 5.4 -4 5.4 -3.6 5.4 -3.3 5.4 -3.1 5.4 -2.8 6.4 -3.1 6.3 -2.9 6.4 -2.7 6.3 -2.5 6.4 -2.3 6.4 -2.2 6.3 -2 6.4 -1.9 6.3 -1.8 6.4 -1.7 6.4 -1.6 6.3 -1.6 6.4 -1.4 6.3 -1.4 6.4 -1.3 6.4 -1.3 6.3 -1.2 6.4 -1.1 6.3 -1.1 6.4 -1.1 M536.7 212.6l2.1 -6.6 2.1 -6.1 2.2 -5.7 2.1 -5.4 2.1 -4.9 2.1 -4.7 2.1 -4.3 2.2 -4.1 2.1 -3.9 2.1 -3.6 2.1 -3.5 2.1 -3.2 5.4 -7.6 5.4 -6.7 5.4 -6 5.4 -5.4 5.4 -4.8 5.4 -4.4 5.4 -4.1 5.4 -3.7 5.4 -3.4 5.4 -3.1 5.4 -3 6.4 -3.1 6.3 -3 6.4 -2.7 6.3 -2.6 6.4 -2.4 6.4 -2.2 6.3 -2.1 6.4 -2 6.3 -1.9 6.4 -1.7 6.4 -1.7 6.3 -1.6 6.4 -1.5 6.3 -1.4 6.4 -1.4 6.4 -1.3 6.3 -1.2 6.4 -1.3 6.3 -1.1 6.4 -1.1 M536.7 212.3l2.1 -6.7 2.1 -6.1 2.2 -5.7 2.1 -5.3 2.1 -4.9 2.1 -4.7 2.1 -4.3 2.2 -4.1 2.1 -3.8 2.1 -3.7 2.1 -3.4 2.1 -3.3 5.4 -7.5 5.4 -6.7 5.4 -6 5.4 -5.4 5.4 -4.8 5.4 -4.4 5.4 -4 5.4 -3.7 5.4 -3.4 5.4 -3.1 5.4 -3 6.4 -3.2 6.3 -2.9 6.4 -2.8 6.3 -2.5 6.4 -2.4 6.4 -2.2 6.3 -2.1 6.4 -2 6.3 -1.8 6.4 -1.8 6.4 -1.6 6.3 -1.6 6.4 -1.5 6.3 -1.5 6.4 -1.3 6.4 -1.3 6.3 -1.3 6.4 -1.2 6.3 -1.1 6.4 -1.1 M536.7 211.6l2.1 -6.6 2.1 -6.1 2.2 -5.7 2.1 -5.2 2.1 -4.9 2.1 -4.7 2.1 -4.3 2.2 -4 2.1 -3.9 2.1 -3.6 2.1 -3.4 2.1 -3.3 5.4 -7.5 5.4 -6.7 5.4 -5.9 5.4 -5.4 5.4 -4.8 5.4 -4.4 5.4 -4 5.4 -3.6 5.4 -3.4 5.4 -3.2 5.4 -2.9 6.4 -3.2 6.3 -2.9 6.4 -2.7 6.3 -2.6 6.4 -2.3 6.4 -2.2 6.3 -2.1 6.4 -2 6.3 -1.8 6.4 -1.8 6.4 -1.6 6.3 -1.6 6.4 -1.5 6.3 -1.4 6.4 -1.4 6.4 -1.3 6.3 -1.2 6.4 -1.2 6.3 -1.1 6.4 -1.1 M536.7 211.5l2.1 -6.6 2.1 -6.1 2.2 -5.6 2.1 -5.3 2.1 -4.9 2.1 -4.6 2.1 -4.4 2.2 -4 2.1 -3.9 2.1 -3.6 2.1 -3.4 2.1 -3.3 5.4 -7.5 5.4 -6.7 5.4 -5.9 5.4 -5.4 5.4 -4.8 5.4 -4.4 5.4 -4 5.4 -3.6 5.4 -3.4 5.4 -3.2 5.4 -2.9 6.4 -3.1 6.3 -3 6.4 -2.7 6.3 -2.5 6.4 -2.4 6.4 -2.2 6.3 -2.1 6.4 -1.9 6.3 -1.9 6.4 -1.7 6.4 -1.7 6.3 -1.5 6.4 -1.5 6.3 -1.4 6.4 -1.4 6.4 -1.3 6.3 -1.2 6.4 -1.2 6.3 -1.1 6.4 -1.1 M536.7 213.5l2.1 -6.7 2.1 -6.2 2.2 -5.7 2.1 -5.4 2.1 -5 2.1 -4.6 2.1 -4.4 2.2 -4.1 2.1 -3.9 2.1 -3.7 2.1 -3.4 2.1 -3.3 5.4 -7.6 5.4 -6.8 5.4 -6 5.4 -5.4 5.4 -4.9 5.4 -4.4 5.4 -4 5.4 -3.7 5.4 -3.5 5.4 -3.1 5.4 -3 6.4 -3.2 6.3 -3 6.4 -2.7 6.3 -2.6 6.4 -2.4 6.4 -2.2 6.3 -2.1 6.4 -2 6.3 -1.9 6.4 -1.8 6.4 -1.6 6.3 -1.6 6.4 -1.6 6.3 -1.4 6.4 -1.4 6.4 -1.3 6.3 -1.3 6.4 -1.2 6.3 -1.1 6.4 -1.2 M536.7 214.1l2.1 -6.8 2.1 -6.3 2.2 -5.8 2.1 -5.4 2.1 -5.1 2.1 -4.7 2.1 -4.4 2.2 -4.2 2.1 -3.9 2.1 -3.7 2.1 -3.5 2.1 -3.3 5.4 -7.7 5.4 -6.7 5.4 -6.1 5.4 -5.4 5.4 -4.9 5.4 -4.4 5.4 -4.1 5.4 -3.7 5.4 -3.4 5.4 -3.2 5.4 -2.9 6.4 -3.2 6.3 -3 6.4 -2.7 6.3 -2.6 6.4 -2.4 6.4 -2.2 6.3 -2.1 6.4 -2 6.3 -1.8 6.4 -1.8 6.4 -1.7 6.3 -1.5 6.4 -1.5 6.3 -1.5 6.4 -1.3 6.4 -1.3 6.3 -1.3 6.4 -1.2 6.3 -1.1 6.4 -1.1 M536.7 212.9l2.1 -6.8 2.1 -6.2 2.2 -5.7 2.1 -5.4 2.1 -5 2.1 -4.6 2.1 -4.4 2.2 -4.2 2.1 -3.8 2.1 -3.7 2.1 -3.5 2.1 -3.3 5.4 -7.6 5.4 -6.7 5.4 -6 5.4 -5.4 5.4 -4.8 5.4 -4.5 5.4 -4 5.4 -3.7 5.4 -3.4 5.4 -3.1 5.4 -2.9 6.4 -3.2 6.3 -3 6.4 -2.7 6.3 -2.5 6.4 -2.4 6.4 -2.2 6.3 -2.1 6.4 -2 6.3 -1.8 6.4 -1.7 6.4 -1.7 6.3 -1.6 6.4 -1.4 6.3 -1.5 6.4 -1.3 6.4 -1.3 6.3 -1.2 6.4 -1.2 6.3 -1.1 6.4 -1.1 M536.7 217.2l2.1 -7 2.1 -6.5 2.2 -6 2.1 -5.5 2.1 -5.2 2.1 -4.9 2.1 -4.5 2.2 -4.3 2.1 -4 2.1 -3.8 2.1 -3.5 2.1 -3.4 5.4 -7.9 5.4 -6.9 5.4 -6.1 5.4 -5.6 5.4 -4.9 5.4 -4.5 5.4 -4.2 5.4 -3.7 5.4 -3.5 5.4 -3.2 5.4 -3 6.4 -3.3 6.3 -3 6.4 -2.7 6.3 -2.6 6.4 -2.4 6.4 -2.3 6.3 -2.1 6.4 -2 6.3 -1.9 6.4 -1.8 6.4 -1.6 6.3 -1.6 6.4 -1.6 6.3 -1.4 6.4 -1.4 6.4 -1.3 6.3 -1.3 6.4 -1.2 6.3 -1.1 6.4 -1.1 M536.7 215.3l2.1 -6.9 2.1 -6.4 2.2 -5.9 2.1 -5.5 2.1 -5.1 2.1 -4.7 2.1 -4.5 2.2 -4.2 2.1 -4 2.1 -3.7 2.1 -3.5 2.1 -3.4 5.4 -7.7 5.4 -6.9 5.4 -6.1 5.4 -5.4 5.4 -4.9 5.4 -4.5 5.4 -4.1 5.4 -3.7 5.4 -3.5 5.4 -3.1 5.4 -3 6.4 -3.2 6.3 -3 6.4 -2.7 6.3 -2.6 6.4 -2.4 6.4 -2.2 6.3 -2.1 6.4 -2 6.3 -1.9 6.4 -1.7 6.4 -1.7 6.3 -1.6 6.4 -1.5 6.3 -1.4 6.4 -1.3 6.4 -1.3 6.3 -1.3 6.4 -1.2 6.3 -1.1 6.4 -1.1 M536.7 214.4l2.1 -6.8 2.1 -6.3 2.2 -5.8 2.1 -5.5 2.1 -5 2.1 -4.8 2.1 -4.4 2.2 -4.2 2.1 -3.9 2.1 -3.7 2.1 -3.5 2.1 -3.3 5.4 -7.7 5.4 -6.8 5.4 -6.1 5.4 -5.4 5.4 -4.9 5.4 -4.4 5.4 -4.1 5.4 -3.7 5.4 -3.4 5.4 -3.2 5.4 -3 6.4 -3.2 6.3 -2.9 6.4 -2.8 6.3 -2.5 6.4 -2.4 6.4 -2.3 6.3 -2.1 6.4 -1.9 6.3 -1.9 6.4 -1.7 6.4 -1.7 6.3 -1.6 6.4 -1.5 6.3 -1.4 6.4 -1.4 6.4 -1.3 6.3 -1.2 6.4 -1.2 6.3 -1.2 6.4 -1.1 M536.7 218l2.1 -7.1 2.1 -6.6 2.2 -6 2.1 -5.6 2.1 -5.3 2.1 -4.8 2.1 -4.6 2.2 -4.3 2.1 -4.1 2.1 -3.8 2.1 -3.6 2.1 -3.4 5.4 -7.9 5.4 -6.9 5.4 -6.2 5.4 -5.5 5.4 -5 5.4 -4.5 5.4 -4.2 5.4 -3.7 5.4 -3.5 5.4 -3.2 5.4 -3 6.4 -3.3 6.3 -3 6.4 -2.7 6.3 -2.6 6.4 -2.4 6.4 -2.3 6.3 -2.1 6.4 -2 6.3 -1.8 6.4 -1.8 6.4 -1.7 6.3 -1.6 6.4 -1.5 6.3 -1.4 6.4 -1.4 6.4 -1.3 6.3 -1.2 6.4 -1.2 6.3 -1.2 6.4 -1.1 M536.7 217.3l2.1 -7 2.1 -6.4 2.2 -6 2.1 -5.6 2.1 -5.2 2.1 -4.8 2.1 -4.6 2.2 -4.2 2.1 -4 2.1 -3.8 2.1 -3.6 2.1 -3.4 5.4 -7.8 5.4 -6.9 5.4 -6.2 5.4 -5.5 5.4 -4.9 5.4 -4.6 5.4 -4.1 5.4 -3.7 5.4 -3.5 5.4 -3.2 5.4 -3 6.4 -3.2 6.3 -3 6.4 -2.8 6.3 -2.5 6.4 -2.4 6.4 -2.3 6.3 -2.1 6.4 -2 6.3 -1.9 6.4 -1.7 6.4 -1.7 6.3 -1.6 6.4 -1.5 6.3 -1.4 6.4 -1.4 6.4 -1.3 6.3 -1.2 6.4 -1.2 6.3 -1.2 6.4 -1.1 M536.7 218l2.1 -7.1 2.1 -6.5 2.2 -6 2.1 -5.7 2.1 -5.2 2.1 -4.9 2.1 -4.6 2.2 -4.3 2.1 -4 2.1 -3.8 2.1 -3.6 2.1 -3.4 5.4 -7.9 5.4 -7 5.4 -6.1 5.4 -5.5 5.4 -5 5.4 -4.5 5.4 -4.2 5.4 -3.7 5.4 -3.5 5.4 -3.2 5.4 -3 6.4 -3.2 6.3 -3 6.4 -2.7 6.3 -2.6 6.4 -2.4 6.4 -2.2 6.3 -2.1 6.4 -2 6.3 -1.8 6.4 -1.8 6.4 -1.6 6.3 -1.6 6.4 -1.5 6.3 -1.4 6.4 -1.4 6.4 -1.3 6.3 -1.2 6.4 -1.2 6.3 -1.1 6.4 -1.1 M536.7 218.8l2.1 -7.1 2.1 -6.6 2.2 -6 2.1 -5.7 2.1 -5.2 2.1 -4.9 2.1 -4.6 2.2 -4.3 2.1 -4.1 2.1 -3.8 2.1 -3.6 2.1 -3.4 5.4 -7.9 5.4 -7 5.4 -6.1 5.4 -5.6 5.4 -5 5.4 -4.5 5.4 -4.1 5.4 -3.8 5.4 -3.5 5.4 -3.2 5.4 -3 6.4 -3.2 6.3 -3 6.4 -2.8 6.3 -2.6 6.4 -2.4 6.4 -2.2 6.3 -2.1 6.4 -2 6.3 -1.9 6.4 -1.7 6.4 -1.7 6.3 -1.6 6.4 -1.5 6.3 -1.4 6.4 -1.4 6.4 -1.3 6.3 -1.2 6.4 -1.2 6.3 -1.1 6.4 -1.1 M536.7 221.4l2.1 -7.3 2.1 -6.7 2.2 -6.2 2.1 -5.8 2.1 -5.3 2.1 -5 2.1 -4.7 2.2 -4.4 2.1 -4.1 2.1 -3.9 2.1 -3.7 2.1 -3.5 5.4 -8 5.4 -7.1 5.4 -6.2 5.4 -5.6 5.4 -5.1 5.4 -4.6 5.4 -4.2 5.4 -3.8 5.4 -3.5 5.4 -3.2 5.4 -3 6.4 -3.3 6.3 -3 6.4 -2.8 6.3 -2.6 6.4 -2.4 6.4 -2.3 6.3 -2.1 6.4 -2 6.3 -1.9 6.4 -1.8 6.4 -1.7 6.3 -1.5 6.4 -1.6 6.3 -1.4 6.4 -1.4 6.4 -1.3 6.3 -1.2 6.4 -1.2 6.3 -1.2 6.4 -1.1 M536.7 223l2.1 -7.3 2.1 -6.7 2.2 -6.3 2.1 -5.8 2.1 -5.3 2.1 -5.1 2.1 -4.7 2.2 -4.4 2.1 -4.1 2.1 -3.9 2.1 -3.7 2.1 -3.5 5.4 -8.1 5.4 -7.1 5.4 -6.3 5.4 -5.6 5.4 -5.1 5.4 -4.7 5.4 -4.2 5.4 -3.8 5.4 -3.6 5.4 -3.2 5.4 -3.1 6.4 -3.3 6.3 -3 6.4 -2.9 6.3 -2.6 6.4 -2.5 6.4 -2.3 6.3 -2.1 6.4 -2 6.3 -2 6.4 -1.8 6.4 -1.7 6.3 -1.6 6.4 -1.6 6.3 -1.4 6.4 -1.4 6.4 -1.4 6.3 -1.3 6.4 -1.2 6.3 -1.2 6.4 -1.1 M536.7 221.5l2.1 -7.2 2.1 -6.7 2.2 -6.2 2.1 -5.7 2.1 -5.4 2.1 -5 2.1 -4.6 2.2 -4.4 2.1 -4.1 2.1 -3.9 2.1 -3.6 2.1 -3.5 5.4 -8 5.4 -7.1 5.4 -6.2 5.4 -5.6 5.4 -5.1 5.4 -4.5 5.4 -4.2 5.4 -3.8 5.4 -3.5 5.4 -3.3 5.4 -3 6.4 -3.2 6.3 -3.1 6.4 -2.7 6.3 -2.6 6.4 -2.5 6.4 -2.2 6.3 -2.1 6.4 -2 6.3 -1.9 6.4 -1.8 6.4 -1.7 6.3 -1.6 6.4 -1.5 6.3 -1.4 6.4 -1.4 6.4 -1.3 6.3 -1.3 6.4 -1.1 6.3 -1.2 6.4 -1.1 M536.7 223.5l2.1 -7.3 2.1 -6.8 2.2 -6.3 2.1 -5.8 2.1 -5.5 2.1 -5 2.1 -4.7 2.2 -4.5 2.1 -4.1 2.1 -3.9 2.1 -3.7 2.1 -3.5 5.4 -8.1 5.4 -7.2 5.4 -6.3 5.4 -5.6 5.4 -5.1 5.4 -4.6 5.4 -4.2 5.4 -3.9 5.4 -3.5 5.4 -3.3 5.4 -3 6.4 -3.3 6.3 -3.1 6.4 -2.8 6.3 -2.6 6.4 -2.4 6.4 -2.3 6.3 -2.2 6.4 -2 6.3 -1.9 6.4 -1.7 6.4 -1.7 6.3 -1.7 6.4 -1.5 6.3 -1.4 6.4 -1.4 6.4 -1.3 6.3 -1.3 6.4 -1.2 6.3 -1.2 6.4 -1.1 M536.7 222.9l2.1 -7.3 2.1 -6.7 2.2 -6.2 2.1 -5.8 2.1 -5.4 2.1 -5 2.1 -4.6 2.2 -4.4 2.1 -4.2 2.1 -3.9 2.1 -3.6 2.1 -3.5 5.4 -8 5.4 -7.1 5.4 -6.3 5.4 -5.6 5.4 -5.1 5.4 -4.6 5.4 -4.2 5.4 -3.8 5.4 -3.5 5.4 -3.3 5.4 -3 6.4 -3.3 6.3 -3 6.4 -2.8 6.3 -2.7 6.4 -2.4 6.4 -2.3 6.3 -2.1 6.4 -2 6.3 -1.9 6.4 -1.8 6.4 -1.7 6.3 -1.6 6.4 -1.6 6.3 -1.4 6.4 -1.4 6.4 -1.3 6.3 -1.3 6.4 -1.2 6.3 -1.2 6.4 -1.1 M536.7 228.2l2.1 -7.8 2.1 -7.1 2.2 -6.5 2.1 -6.1 2.1 -5.6 2.1 -5.2 2.1 -4.9 2.2 -4.6 2.1 -4.3 2.1 -4.1 2.1 -3.8 2.1 -3.6 5.4 -8.3 5.4 -7.3 5.4 -6.5 5.4 -5.8 5.4 -5.2 5.4 -4.7 5.4 -4.3 5.4 -3.9 5.4 -3.6 5.4 -3.3 5.4 -3.1 6.4 -3.3 6.3 -3.1 6.4 -2.9 6.3 -2.6 6.4 -2.5 6.4 -2.3 6.3 -2.1 6.4 -2.1 6.3 -1.9 6.4 -1.8 6.4 -1.7 6.3 -1.6 6.4 -1.5 6.3 -1.5 6.4 -1.4 6.4 -1.3 6.3 -1.3 6.4 -1.2 6.3 -1.2 6.4 -1.1 M536.7 225.2l2.1 -7.5 2.1 -6.9 2.2 -6.3 2.1 -5.9 2.1 -5.5 2.1 -5.1 2.1 -4.8 2.2 -4.5 2.1 -4.2 2.1 -4 2.1 -3.7 2.1 -3.5 5.4 -8.2 5.4 -7.2 5.4 -6.3 5.4 -5.7 5.4 -5.1 5.4 -4.7 5.4 -4.2 5.4 -3.8 5.4 -3.6 5.4 -3.2 5.4 -3.1 6.4 -3.3 6.3 -3 6.4 -2.8 6.3 -2.6 6.4 -2.5 6.4 -2.3 6.3 -2.1 6.4 -2 6.3 -1.9 6.4 -1.8 6.4 -1.6 6.3 -1.6 6.4 -1.6 6.3 -1.4 6.4 -1.4 6.4 -1.3 6.3 -1.2 6.4 -1.2 6.3 -1.2 6.4 -1.1 M536.7 226.9l2.1 -7.6 2.1 -7 2.2 -6.5 2.1 -6 2.1 -5.5 2.1 -5.2 2.1 -4.9 2.2 -4.5 2.1 -4.3 2.1 -4 2.1 -3.7 2.1 -3.6 5.4 -8.2 5.4 -7.3 5.4 -6.4 5.4 -5.7 5.4 -5.2 5.4 -4.6 5.4 -4.3 5.4 -3.9 5.4 -3.5 5.4 -3.3 5.4 -3.1 6.4 -3.3 6.3 -3 6.4 -2.9 6.3 -2.6 6.4 -2.4 6.4 -2.3 6.3 -2.1 6.4 -2.1 6.3 -1.8 6.4 -1.8 6.4 -1.7 6.3 -1.6 6.4 -1.5 6.3 -1.5 6.4 -1.3 6.4 -1.4 6.3 -1.2 6.4 -1.2 6.3 -1.2 6.4 -1.1 M536.7 226.8l2.1 -7.5 2.1 -6.9 2.2 -6.3 2.1 -6 2.1 -5.4 2.1 -5.2 2.1 -4.8 2.2 -4.4 2.1 -4.3 2.1 -3.9 2.1 -3.8 2.1 -3.5 5.4 -8.2 5.4 -7.2 5.4 -6.4 5.4 -5.7 5.4 -5.2 5.4 -4.6 5.4 -4.3 5.4 -3.9 5.4 -3.5 5.4 -3.3 5.4 -3.1 6.4 -3.3 6.3 -3.1 6.4 -2.9 6.3 -2.6 6.4 -2.5 6.4 -2.3 6.3 -2.1 6.4 -2.1 6.3 -1.9 6.4 -1.8 6.4 -1.7 6.3 -1.7 6.4 -1.5 6.3 -1.5 6.4 -1.4 6.4 -1.3 6.3 -1.3 6.4 -1.3 6.3 -1.1 6.4 -1.2 M536.7 228l2.1 -7.6 2.1 -7 2.2 -6.4 2.1 -6 2.1 -5.5 2.1 -5.2 2.1 -4.8 2.2 -4.5 2.1 -4.3 2.1 -4 2.1 -3.8 2.1 -3.5 5.4 -8.3 5.4 -7.2 5.4 -6.4 5.4 -5.8 5.4 -5.1 5.4 -4.7 5.4 -4.3 5.4 -3.9 5.4 -3.6 5.4 -3.3 5.4 -3.1 6.4 -3.3 6.3 -3.1 6.4 -2.8 6.3 -2.7 6.4 -2.5 6.4 -2.3 6.3 -2.1 6.4 -2.1 6.3 -1.9 6.4 -1.8 6.4 -1.7 6.3 -1.7 6.4 -1.5 6.3 -1.5 6.4 -1.4 6.4 -1.4 6.3 -1.2 6.4 -1.3 6.3 -1.2 6.4 -1.1 M536.7 232.5l2.1 -8 2.1 -7.3 2.2 -6.7 2.1 -6.2 2.1 -5.8 2.1 -5.4 2.1 -5 2.2 -4.7 2.1 -4.4 2.1 -4.1 2.1 -3.9 2.1 -3.7 5.4 -8.5 5.4 -7.4 5.4 -6.6 5.4 -5.9 5.4 -5.3 5.4 -4.8 5.4 -4.3 5.4 -4 5.4 -3.6 5.4 -3.4 5.4 -3.1 6.4 -3.4 6.3 -3.1 6.4 -2.9 6.3 -2.7 6.4 -2.4 6.4 -2.4 6.3 -2.2 6.4 -2 6.3 -1.9 6.4 -1.9 6.4 -1.7 6.3 -1.6 6.4 -1.6 6.3 -1.5 6.4 -1.4 6.4 -1.3 6.3 -1.3 6.4 -1.2 6.3 -1.2 6.4 -1.1 M536.7 232.7l2.1 -7.9 2.1 -7.2 2.2 -6.7 2.1 -6.2 2.1 -5.8 2.1 -5.3 2.1 -5 2.2 -4.7 2.1 -4.3 2.1 -4.2 2.1 -3.8 2.1 -3.7 5.4 -8.5 5.4 -7.4 5.4 -6.6 5.4 -5.8 5.4 -5.3 5.4 -4.8 5.4 -4.3 5.4 -4 5.4 -3.7 5.4 -3.3 5.4 -3.2 6.4 -3.4 6.3 -3.1 6.4 -2.9 6.3 -2.7 6.4 -2.5 6.4 -2.4 6.3 -2.2 6.4 -2 6.3 -2 6.4 -1.8 6.4 -1.8 6.3 -1.6 6.4 -1.6 6.3 -1.5 6.4 -1.4 6.4 -1.4 6.3 -1.3 6.4 -1.3 6.3 -1.2 6.4 -1.1 M536.7 237.5l2.1 -8.3 2.1 -7.6 2.2 -7 2.1 -6.5 2.1 -6 2.1 -5.5 2.1 -5.2 2.2 -4.8 2.1 -4.6 2.1 -4.2 2.1 -4 2.1 -3.8 5.4 -8.7 5.4 -7.7 5.4 -6.7 5.4 -6 5.4 -5.4 5.4 -4.8 5.4 -4.5 5.4 -4 5.4 -3.7 5.4 -3.4 5.4 -3.1 6.4 -3.5 6.3 -3.1 6.4 -2.9 6.3 -2.7 6.4 -2.6 6.4 -2.3 6.3 -2.2 6.4 -2.1 6.3 -1.9 6.4 -1.9 6.4 -1.7 6.3 -1.7 6.4 -1.5 6.3 -1.5 6.4 -1.4 6.4 -1.4 6.3 -1.3 6.4 -1.2 6.3 -1.2 6.4 -1.1 M536.7 244.8l2.1 -8.9 2.1 -8.1 2.2 -7.4 2.1 -6.8 2.1 -6.3 2.1 -5.9 2.1 -5.4 2.2 -5.1 2.1 -4.7 2.1 -4.5 2.1 -4.2 2.1 -3.9 5.4 -9.1 5.4 -7.9 5.4 -6.9 5.4 -6.2 5.4 -5.6 5.4 -4.9 5.4 -4.6 5.4 -4.1 5.4 -3.8 5.4 -3.5 5.4 -3.2 6.4 -3.5 6.3 -3.2 6.4 -3 6.3 -2.7 6.4 -2.6 6.4 -2.4 6.3 -2.2 6.4 -2.1 6.3 -2 6.4 -1.9 6.4 -1.7 6.3 -1.7 6.4 -1.6 6.3 -1.5 6.4 -1.4 6.4 -1.4 6.3 -1.3 6.4 -1.2 6.3 -1.2 6.4 -1.1" stroke="#000" stroke-width="1.35"/>
<path d="M536.7 221.8l2.1 -7.4 2.1 -6.8 2.2 -6.3 2.1 -5.9 2.1 -5.4 2.1 -5.1 2.1 -4.7 2.2 -4.5 2.1 -4.2 2.1 -3.9 2.1 -3.7 2.1 -3.5 5.4 -8.2 5.4 -7.1 5.4 -6.3 5.4 -5.7 5.4 -5.1 5.4 -4.6 5.4 -4.3 5.4 -3.8 5.4 -3.6 5.4 -3.2 5.4 -3.1 6.4 -3.3 6.3 -3 6.4 -2.8 6.3 -2.7 6.4 -2.4 6.4 -2.3 6.3 -2.1 6.4 -2 6.3 -1.9 6.4 -1.8 6.4 -1.7 6.3 -1.6 6.4 -1.6 6.3 -1.4 6.4 -1.4 6.4 -1.3 6.3 -1.3 6.4 -1.2 6.3 -1.2 6.4 -1.1" stroke="#00ff00" stroke-width="3.5"/>
</g>
<g clip-path="url(#c3)" fill="none" stroke-linejoin="round">
<path d="M748.6 158.9l2.1 -8.8 2.1 -6.9 2.2 -5.7 2.1 -4.8 2.1 -4.2 2.1 -3.7 2.1 -3.3 2.2 -3 2.1 -2.7 2.1 -2.6 2.1 -2.4 2.1 -2.2 5.4 -5.2 5.4 -4.5 5.4 -4 5.4 -3.7 5.4 -3.3 5.4 -3 5.4 -2.7 5.4 -2.6 5.4 -2.3 5.4 -2.2 5.4 -1.9 6.4 -2.2 6.3 -1.9 6.4 -1.8 6.3 -1.6 6.4 -1.5 6.4 -1.4 6.3 -1.3 6.4 -1.1 6.3 -1 6.4 -1 6.4 -.9 6.3 -.8 6.4 -.7 6.3 -.7 6.4 -.6 6.4 -.5 6.3 -.5 6.4 -.4 6.3 -.4 6.4 -.4 M748.6 164.9l2.1 -5.4 2.1 -4.6 2.2 -4 2.1 -3.8 2.1 -3.4 2.1 -3.2 2.1 -3 2.2 -2.8 2.1 -2.8 2.1 -2.5 2.1 -2.5 2.1 -2.4 5.4 -5.6 5.4 -5.1 5.4 -4.6 5.4 -4.2 5.4 -3.9 5.4 -3.5 5.4 -3.3 5.4 -3 5.4 -2.8 5.4 -2.6 5.4 -2.5 6.4 -2.6 6.3 -2.4 6.4 -2.3 6.3 -2.1 6.4 -1.9 6.4 -1.8 6.3 -1.7 6.4 -1.5 6.3 -1.5 6.4 -1.3 6.4 -1.3 6.3 -1.2 6.4 -1.1 6.3 -1 6.4 -1 6.4 -.9 6.3 -.9 6.4 -.8 6.3 -.7 6.4 -.7 M748.6 168.4l2.1 -4.9 2.1 -4.3 2.2 -3.9 2.1 -3.5 2.1 -3.4 2.1 -3.2 2.1 -3 2.2 -2.9 2.1 -2.7 2.1 -2.6 2.1 -2.6 2.1 -2.4 5.4 -5.8 5.4 -5.2 5.4 -4.8 5.4 -4.4 5.4 -4 5.4 -3.7 5.4 -3.4 5.4 -3.1 5.4 -2.9 5.4 -2.8 5.4 -2.5 6.4 -2.8 6.3 -2.5 6.4 -2.4 6.3 -2.2 6.4 -2.1 6.4 -1.9 6.3 -1.8 6.4 -1.6 6.3 -1.6 6.4 -1.4 6.4 -1.4 6.3 -1.3 6.4 -1.2 6.3 -1.2 6.4 -1 6.4 -1 6.3 -1 6.4 -.9 6.3 -.8 6.4 -.8 M748.6 170.9l2.1 -4.4 2.1 -3.9 2.2 -3.7 2.1 -3.5 2.1 -3.2 2.1 -3.2 2.1 -3 2.2 -2.9 2.1 -2.7 2.1 -2.7 2.1 -2.6 2.1 -2.5 5.4 -5.9 5.4 -5.3 5.4 -5 5.4 -4.5 5.4 -4.1 5.4 -3.8 5.4 -3.5 5.4 -3.3 5.4 -3 5.4 -2.8 5.4 -2.6 6.4 -2.9 6.3 -2.7 6.4 -2.4 6.3 -2.3 6.4 -2.2 6.4 -2 6.3 -1.8 6.4 -1.8 6.3 -1.6 6.4 -1.5 6.4 -1.5 6.3 -1.4 6.4 -1.2 6.3 -1.2 6.4 -1.2 6.4 -1.1 6.3 -1 6.4 -1 6.3 -.9 6.4 -.8 M748.6 199.4l2.1 -9.6 2.1 -8.2 2.2 -6.9 2.1 -6.1 2.1 -5.3 2.1 -4.8 2.1 -4.2 2.2 -3.9 2.1 -3.6 2.1 -3.3 2.1 -3.1 2.1 -2.9 5.4 -6.6 5.4 -5.9 5.4 -5.2 5.4 -4.7 5.4 -4.4 5.4 -3.9 5.4 -3.7 5.4 -3.3 5.4 -3.2 5.4 -2.9 5.4 -2.7 6.4 -3 6.3 -2.8 6.4 -2.5 6.3 -2.4 6.4 -2.2 6.4 -2.1 6.3 -2 6.4 -1.8 6.3 -1.7 6.4 -1.7 6.4 -1.5 6.3 -1.4 6.4 -1.4 6.3 -1.3 6.4 -1.2 6.4 -1.2 6.3 -1.1 6.4 -1 6.3 -1 6.4 -.9 M748.6 201.3l2.1 -9.6 2.1 -8 2.2 -7 2.1 -6 2.1 -5.3 2.1 -4.7 2.1 -4.3 2.2 -3.9 2.1 -3.6 2.1 -3.3 2.1 -3.1 2.1 -2.9 5.4 -6.7 5.4 -5.8 5.4 -5.3 5.4 -4.7 5.4 -4.4 5.4 -4 5.4 -3.6 5.4 -3.4 5.4 -3.2 5.4 -2.9 5.4 -2.8 6.4 -3 6.3 -2.8 6.4 -2.6 6.3 -2.4 6.4 -2.2 6.4 -2.2 6.3 -1.9 6.4 -1.9 6.3 -1.7 6.4 -1.7 6.4 -1.5 6.3 -1.5 6.4 -1.4 6.3 -1.3 6.4 -1.2 6.4 -1.2 6.3 -1.1 6.4 -1.1 6.3 -1 6.4 -.9 M748.6 199.6l2.1 -9.7 2.1 -8.1 2.2 -6.9 2.1 -6 2.1 -5.4 2.1 -4.7 2.1 -4.3 2.2 -3.8 2.1 -3.6 2.1 -3.3 2.1 -3.1 2.1 -2.9 5.4 -6.6 5.4 -5.8 5.4 -5.2 5.4 -4.7 5.4 -4.3 5.4 -4 5.4 -3.6 5.4 -3.4 5.4 -3.1 5.4 -2.9 5.4 -2.7 6.4 -3 6.3 -2.7 6.4 -2.6 6.3 -2.3 6.4 -2.3 6.4 -2 6.3 -2 6.4 -1.8 6.3 -1.7 6.4 -1.6 6.4 -1.5 6.3 -1.4 6.4 -1.4 6.3 -1.3 6.4 -1.2 6.4 -1.1 6.3 -1.1 6.4 -1 6.3 -1 6.4 -.9 M748.6 200.3l2.1 -9.4 2.1 -7.9 2.2 -6.8 2.1 -5.9 2.1 -5.3 2.1 -4.7 2.1 -4.2 2.2 -3.9 2.1 -3.6 2.1 -3.3 2.1 -3.1 2.1 -2.9 5.4 -6.7 5.4 -5.8 5.4 -5.3 5.4 -4.8 5.4 -4.3 5.4 -4 5.4 -3.7 5.4 -3.4 5.4 -3.1 5.4 -2.9 5.4 -2.8 6.4 -3 6.3 -2.8 6.4 -2.5 6.3 -2.4 6.4 -2.3 6.4 -2.1 6.3 -1.9 6.4 -1.9 6.3 -1.7 6.4 -1.6 6.4 -1.5 6.3 -1.5 6.4 -1.3 6.3 -1.3 6.4 -1.2 6.4 -1.2 6.3 -1.1 6.4 -1 6.3 -1 6.4 -1 M748.6 200.4l2.1 -9.3 2.1 -7.8 2.2 -6.8 2.1 -5.9 2.1 -5.3 2.1 -4.7 2.1 -4.2 2.2 -3.9 2.1 -3.6 2.1 -3.3 2.1 -3.1 2.1 -2.9 5.4 -6.6 5.4 -5.9 5.4 -5.3 5.4 -4.8 5.4 -4.3 5.4 -4 5.4 -3.7 5.4 -3.4 5.4 -3.2 5.4 -2.9 5.4 -2.8 6.4 -3 6.3 -2.8 6.4 -2.5 6.3 -2.4 6.4 -2.3 6.4 -2.1 6.3 -2 6.4 -1.8 6.3 -1.7 6.4 -1.7 6.4 -1.5 6.3 -1.4 6.4 -1.4 6.3 -1.3 6.4 -1.2 6.4 -1.2 6.3 -1.1 6.4 -1 6.3 -1 6.4 -1 M748.6 200.8l2.1 -9.3 2.1 -7.8 2.2 -6.7 2.1 -5.9 2.1 -5.2 2.1 -4.7 2.1 -4.3 2.2 -3.8 2.1 -3.6 2.1 -3.3 2.1 -3.1 2.1 -2.9 5.4 -6.7 5.4 -5.9 5.4 -5.3 5.4 -4.7 5.4 -4.4 5.4 -4 5.4 -3.7 5.4 -3.4 5.4 -3.2 5.4 -2.9 5.4 -2.8 6.4 -3 6.3 -2.8 6.4 -2.5 6.3 -2.5 6.4 -2.2 6.4 -2.1 6.3 -2 6.4 -1.8 6.3 -1.7 6.4 -1.7 6.4 -1.5 6.3 -1.5 6.4 -1.3 6.3 -1.3 6.4 -1.2 6.4 -1.2 6.3 -1.1 6.4 -1.1 6.3 -1 6.4 -.9 M748.6 201.5l2.1 -8.9 2.1 -7.6 2.2 -6.5 2.1 -5.8 2.1 -5.2 2.1 -4.6 2.1 -4.2 2.2 -3.9 2.1 -3.6 2.1 -3.3 2.1 -3.1 2.1 -3 5.4 -6.7 5.4 -6 5.4 -5.4 5.4 -4.8 5.4 -4.4 5.4 -4.1 5.4 -3.8 5.4 -3.4 5.4 -3.3 5.4 -3 5.4 -2.8 6.4 -3 6.3 -2.9 6.4 -2.6 6.3 -2.5 6.4 -2.3 6.4 -2.1 6.3 -2 6.4 -1.9 6.3 -1.8 6.4 -1.6 6.4 -1.6 6.3 -1.5 6.4 -1.4 6.3 -1.3 6.4 -1.3 6.4 -1.2 6.3 -1.1 6.4 -1.1 6.3 -1 6.4 -1 M748.6 201.5l2.1 -9.4 2.1 -8 2.2 -6.8 2.1 -6 2.1 -5.3 2.1 -4.7 2.1 -4.2 2.2 -3.9 2.1 -3.6 2.1 -3.3 2.1 -3.1 2.1 -2.9 5.4 -6.7 5.4 -5.9 5.4 -5.3 5.4 -4.8 5.4 -4.3 5.4 -4 5.4 -3.8 5.4 -3.4 5.4 -3.2 5.4 -2.9 5.4 -2.8 6.4 -3.1 6.3 -2.8 6.4 -2.6 6.3 -2.4 6.4 -2.3 6.4 -2.2 6.3 -2 6.4 -1.9 6.3 -1.7 6.4 -1.7 6.4 -1.6 6.3 -1.5 6.4 -1.4 6.3 -1.4 6.4 -1.2 6.4 -1.2 6.3 -1.2 6.4 -1.1 6.3 -1 6.4 -1 M748.6 202.1l2.1 -9.3 2.1 -7.9 2.2 -6.8 2.1 -5.9 2.1 -5.2 2.1 -4.7 2.1 -4.2 2.2 -3.9 2.1 -3.6 2.1 -3.3 2.1 -3.1 2.1 -2.9 5.4 -6.7 5.4 -5.9 5.4 -5.2 5.4 -4.8 5.4 -4.4 5.4 -4 5.4 -3.7 5.4 -3.4 5.4 -3.2 5.4 -2.9 5.4 -2.8 6.4 -3 6.3 -2.8 6.4 -2.6 6.3 -2.5 6.4 -2.2 6.4 -2.1 6.3 -2 6.4 -1.9 6.3 -1.7 6.4 -1.7 6.4 -1.6 6.3 -1.4 6.4 -1.4 6.3 -1.3 6.4 -1.3 6.4 -1.2 6.3 -1.1 6.4 -1.1 6.3 -1 6.4 -1 M748.6 200.2l2.1 -9 2.1 -7.6 2.2 -6.7 2.1 -5.8 2.1 -5.1 2.1 -4.7 2.1 -4.2 2.2 -3.8 2.1 -3.6 2.1 -3.3 2.1 -3.1 2.1 -2.9 5.4 -6.6 5.4 -5.9 5.4 -5.3 5.4 -4.8 5.4 -4.4 5.4 -4 5.4 -3.7 5.4 -3.4 5.4 -3.2 5.4 -2.9 5.4 -2.8 6.4 -3 6.3 -2.7 6.4 -2.6 6.3 -2.4 6.4 -2.3 6.4 -2.1 6.3 -1.9 6.4 -1.9 6.3 -1.7 6.4 -1.6 6.4 -1.5 6.3 -1.5 6.4 -1.3 6.3 -1.3 6.4 -1.2 6.4 -1.2 6.3 -1 6.4 -1.1 6.3 -1 6.4 -.9 M748.6 202.3l2.1 -9 2.1 -7.7 2.2 -6.6 2.1 -5.9 2.1 -5.1 2.1 -4.7 2.1 -4.2 2.2 -3.8 2.1 -3.6 2.1 -3.3 2.1 -3.1 2.1 -2.9 5.4 -6.7 5.4 -5.9 5.4 -5.3 5.4 -4.8 5.4 -4.4 5.4 -4 5.4 -3.7 5.4 -3.4 5.4 -3.2 5.4 -3 5.4 -2.7 6.4 -3 6.3 -2.8 6.4 -2.6 6.3 -2.5 6.4 -2.2 6.4 -2.1 6.3 -2 6.4 -1.8 6.3 -1.8 6.4 -1.6 6.4 -1.6 6.3 -1.4 6.4 -1.4 6.3 -1.3 6.4 -1.2 6.4 -1.2 6.3 -1.1 6.4 -1 6.3 -1 6.4 -1 M748.6 201.3l2.1 -8.8 2.1 -7.5 2.2 -6.5 2.1 -5.8 2.1 -5.1 2.1 -4.6 2.1 -4.2 2.2 -3.8 2.1 -3.6 2.1 -3.3 2.1 -3.1 2.1 -3 5.4 -6.7 5.4 -6 5.4 -5.3 5.4 -4.9 5.4 -4.4 5.4 -4.1 5.4 -3.7 5.4 -3.5 5.4 -3.2 5.4 -3 5.4 -2.8 6.4 -3 6.3 -2.9 6.4 -2.6 6.3 -2.5 6.4 -2.2 6.4 -2.2 6.3 -2 6.4 -1.9 6.3 -1.7 6.4 -1.7 6.4 -1.6 6.3 -1.5 6.4 -1.4 6.3 -1.3 6.4 -1.2 6.4 -1.2 6.3 -1.2 6.4 -1 6.3 -1.1 6.4 -.9 M748.6 202l2.1 -8.8 2.1 -7.5 2.2 -6.5 2.1 -5.7 2.1 -5.2 2.1 -4.6 2.1 -4.2 2.2 -3.8 2.1 -3.6 2.1 -3.3 2.1 -3.1 2.1 -3 5.4 -6.7 5.4 -6 5.4 -5.4 5.4 -4.8 5.4 -4.5 5.4 -4 5.4 -3.8 5.4 -3.5 5.4 -3.2 5.4 -3 5.4 -2.8 6.4 -3.1 6.3 -2.9 6.4 -2.6 6.3 -2.5 6.4 -2.3 6.4 -2.1 6.3 -2.1 6.4 -1.9 6.3 -1.7 6.4 -1.7 6.4 -1.6 6.3 -1.5 6.4 -1.4 6.3 -1.4 6.4 -1.2 6.4 -1.3 6.3 -1.1 6.4 -1.1 6.3 -1 6.4 -1 M748.6 201.4l2.1 -8.6 2.1 -7.5 2.2 -6.4 2.1 -5.7 2.1 -5.1 2.1 -4.6 2.1 -4.1 2.2 -3.9 2.1 -3.5 2.1 -3.3 2.1 -3.1 2.1 -2.9 5.4 -6.7 5.4 -6 5.4 -5.3 5.4 -4.8 5.4 -4.5 5.4 -4 5.4 -3.7 5.4 -3.5 5.4 -3.2 5.4 -2.9 5.4 -2.8 6.4 -3 6.3 -2.8 6.4 -2.6 6.3 -2.5 6.4 -2.2 6.4 -2.1 6.3 -2 6.4 -1.8 6.3 -1.8 6.4 -1.6 6.4 -1.5 6.3 -1.5 6.4 -1.3 6.3 -1.3 6.4 -1.3 6.4 -1.1 6.3 -1.1 6.4 -1 6.3 -1 6.4 -1 M748.6 203.4l2.1 -8.4 2.1 -7.3 2.2 -6.4 2.1 -5.6 2.1 -5.1 2.1 -4.5 2.1 -4.2 2.2 -3.9 2.1 -3.5 2.1 -3.4 2.1 -3.1 2.1 -3 5.4 -6.8 5.4 -6 5.4 -5.5 5.4 -4.9 5.4 -4.5 5.4 -4.2 5.4 -3.8 5.4 -3.5 5.4 -3.3 5.4 -3.1 5.4 -2.8 6.4 -3.2 6.3 -2.9 6.4 -2.7 6.3 -2.5 6.4 -2.3 6.4 -2.2 6.3 -2.1 6.4 -1.9 6.3 -1.8 6.4 -1.8 6.4 -1.6 6.3 -1.5 6.4 -1.5 6.3 -1.3 6.4 -1.3 6.4 -1.3 6.3 -1.2 6.4 -1.1 6.3 -1.1 6.4 -1 M748.6 202.6l2.1 -8.4 2.1 -7.3 2.2 -6.4 2.1 -5.6 2.1 -5.1 2.1 -4.5 2.1 -4.2 2.2 -3.8 2.1 -3.6 2.1 -3.3 2.1 -3.1 2.1 -3 5.4 -6.8 5.4 -6 5.4 -5.4 5.4 -4.9 5.4 -4.5 5.4 -4.1 5.4 -3.8 5.4 -3.5 5.4 -3.2 5.4 -3.1 5.4 -2.8 6.4 -3.1 6.3 -2.9 6.4 -2.6 6.3 -2.5 6.4 -2.3 6.4 -2.2 6.3 -2 6.4 -1.9 6.3 -1.8 6.4 -1.7 6.4 -1.6 6.3 -1.5 6.4 -1.4 6.3 -1.4 6.4 -1.3 6.4 -1.2 6.3 -1.1 6.4 -1.1 6.3 -1.1 6.4 -1 M748.6 201.9l2.1 -8.6 2.1 -7.3 2.2 -6.4 2.1 -5.6 2.1 -5.1 2.1 -4.6 2.1 -4.1 2.2 -3.9 2.1 -3.5 2.1 -3.3 2.1 -3.1 2.1 -3 5.4 -6.7 5.4 -6 5.4 -5.4 5.4 -4.9 5.4 -4.4 5.4 -4.1 5.4 -3.8 5.4 -3.5 5.4 -3.2 5.4 -3 5.4 -2.9 6.4 -3 6.3 -2.9 6.4 -2.6 6.3 -2.5 6.4 -2.3 6.4 -2.2 6.3 -2 6.4 -1.9 6.3 -1.7 6.4 -1.7 6.4 -1.6 6.3 -1.5 6.4 -1.4 6.3 -1.3 6.4 -1.3 6.4 -1.2 6.3 -1.1 6.4 -1.1 6.3 -1 6.4 -1 M748.6 203l2.1 -8.3 2.1 -7.2 2.2 -6.2 2.1 -5.6 2.1 -5 2.1 -4.5 2.1 -4.2 2.2 -3.8 2.1 -3.5 2.1 -3.4 2.1 -3.1 2.1 -2.9 5.4 -6.8 5.4 -6.1 5.4 -5.4 5.4 -4.9 5.4 -4.5 5.4 -4.2 5.4 -3.8 5.4 -3.5 5.4 -3.3 5.4 -3 5.4 -2.8 6.4 -3.1 6.3 -2.9 6.4 -2.7 6.3 -2.5 6.4 -2.3 6.4 -2.2 6.3 -2 6.4 -1.9 6.3 -1.8 6.4 -1.7 6.4 -1.6 6.3 -1.5 6.4 -1.4 6.3 -1.3 6.4 -1.3 6.4 -1.2 6.3 -1.2 6.4 -1.1 6.3 -1 6.4 -1 M748.6 201.9l2.1 -8.1 2.1 -7.1 2.2 -6.2 2.1 -5.5 2.1 -5 2.1 -4.5 2.1 -4.1 2.2 -3.8 2.1 -3.6 2.1 -3.3 2.1 -3.1 2.1 -2.9 5.4 -6.9 5.4 -6 5.4 -5.4 5.4 -5 5.4 -4.5 5.4 -4.1 5.4 -3.8 5.4 -3.5 5.4 -3.3 5.4 -3 5.4 -2.8 6.4 -3.1 6.3 -2.9 6.4 -2.6 6.3 -2.5 6.4 -2.3 6.4 -2.2 6.3 -2 6.4 -1.9 6.3 -1.8 6.4 -1.6 6.4 -1.6 6.3 -1.5 6.4 -1.4 6.3 -1.3 6.4 -1.3 6.4 -1.2 6.3 -1.1 6.4 -1.1 6.3 -1 6.4 -1 M748.6 203.8l2.1 -8.2 2.1 -7.2 2.2 -6.2 2.1 -5.6 2.1 -5 2.1 -4.5 2.1 -4.1 2.2 -3.9 2.1 -3.5 2.1 -3.4 2.1 -3.1 2.1 -2.9 5.4 -6.9 5.4 -6 5.4 -5.5 5.4 -4.9 5.4 -4.5 5.4 -4.2 5.4 -3.8 5.4 -3.6 5.4 -3.3 5.4 -3 5.4 -2.9 6.4 -3.1 6.3 -2.9 6.4 -2.7 6.3 -2.5 6.4 -2.4 6.4 -2.2 6.3 -2 6.4 -2 6.3 -1.8 6.4 -1.7 6.4 -1.6 6.3 -1.6 6.4 -1.4 6.3 -1.4 6.4 -1.3 6.4 -1.2 6.3 -1.2 6.4 -1.1 6.3 -1.1 6.4 -1 M748.6 203.8l2.1 -8 2.1 -6.9 2.2 -6.2 2.1 -5.5 2.1 -4.9 2.1 -4.5 2.1 -4.2 2.2 -3.8 2.1 -3.5 2.1 -3.4 2.1 -3.1 2.1 -3 5.4 -6.8 5.4 -6.2 5.4 -5.5 5.4 -4.9 5.4 -4.6 5.4 -4.2 5.4 -3.9 5.4 -3.5 5.4 -3.4 5.4 -3.1 5.4 -2.8 6.4 -3.2 6.3 -2.9 6.4 -2.8 6.3 -2.5 6.4 -2.4 6.4 -2.2 6.3 -2.1 6.4 -1.9 6.3 -1.9 6.4 -1.7 6.4 -1.6 6.3 -1.6 6.4 -1.5 6.3 -1.3 6.4 -1.4 6.4 -1.2 6.3 -1.2 6.4 -1.1 6.3 -1.1 6.4 -1.1 M748.6 204.5l2.1 -8.3 2.1 -7.1 2.2 -6.3 2.1 -5.6 2.1 -5 2.1 -4.5 2.1 -4.1 2.2 -3.9 2.1 -3.5 2.1 -3.3 2.1 -3.2 2.1 -2.9 5.4 -6.8 5.4 -6.1 5.4 -5.4 5.4 -4.9 5.4 -4.5 5.4 -4.2 5.4 -3.8 5.4 -3.5 5.4 -3.3 5.4 -3.1 5.4 -2.8 6.4 -3.2 6.3 -2.9 6.4 -2.7 6.3 -2.5 6.4 -2.3 6.4 -2.2 6.3 -2.1 6.4 -1.9 6.3 -1.8 6.4 -1.7 6.4 -1.7 6.3 -1.5 6.4 -1.4 6.3 -1.4 6.4 -1.3 6.4 -1.3 6.3 -1.1 6.4 -1.1 6.3 -1.1 6.4 -1 M748.6 205.1l2.1 -8.4 2.1 -7.2 2.2 -6.3 2.1 -5.6 2.1 -5 2.1 -4.6 2.1 -4.1 2.2 -3.9 2.1 -3.5 2.1 -3.3 2.1 -3.1 2.1 -3 5.4 -6.8 5.4 -6 5.4 -5.4 5.4 -5 5.4 -4.5 5.4 -4.1 5.4 -3.8 5.4 -3.6 5.4 -3.2 5.4 -3.1 5.4 -2.9 6.4 -3.1 6.3 -2.9 6.4 -2.7 6.3 -2.5 6.4 -2.4 6.4 -2.2 6.3 -2 6.4 -2 6.3 -1.8 6.4 -1.7 6.4 -1.6 6.3 -1.6 6.4 -1.4 6.3 -1.4 6.4 -1.3 6.4 -1.3 6.3 -1.2 6.4 -1.1 6.3 -1.1 6.4 -1 M748.6 203.9l2.1 -7.7 2.1 -6.8 2.2 -6 2.1 -5.3 2.1 -4.9 2.1 -4.5 2.1 -4.1 2.2 -3.8 2.1 -3.5 2.1 -3.3 2.1 -3.2 2.1 -2.9 5.4 -6.9 5.4 -6.2 5.4 -5.5 5.4 -5 5.4 -4.6 5.4 -4.2 5.4 -3.8 5.4 -3.6 5.4 -3.4 5.4 -3.1 5.4 -2.8 6.4 -3.2 6.3 -2.9 6.4 -2.8 6.3 -2.5 6.4 -2.4 6.4 -2.2 6.3 -2 6.4 -2 6.3 -1.8 6.4 -1.7 6.4 -1.7 6.3 -1.5 6.4 -1.4 6.3 -1.4 6.4 -1.3 6.4 -1.3 6.3 -1.1 6.4 -1.1 6.3 -1.1 6.4 -1 M748.6 206.5l2.1 -8.2 2.1 -7 2.2 -6.2 2.1 -5.5 2.1 -5 2.1 -4.5 2.1 -4.2 2.2 -3.8 2.1 -3.5 2.1 -3.4 2.1 -3.1 2.1 -3 5.4 -6.9 5.4 -6.1 5.4 -5.5 5.4 -5 5.4 -4.6 5.4 -4.2 5.4 -3.9 5.4 -3.6 5.4 -3.3 5.4 -3.1 5.4 -2.9 6.4 -3.2 6.3 -3 6.4 -2.8 6.3 -2.6 6.4 -2.4 6.4 -2.2 6.3 -2.2 6.4 -2 6.3 -1.8 6.4 -1.8 6.4 -1.7 6.3 -1.6 6.4 -1.5 6.3 -1.4 6.4 -1.4 6.4 -1.3 6.3 -1.2 6.4 -1.2 6.3 -1.1 6.4 -1.1 M748.6 204.1l2.1 -7.5 2.1 -6.7 2.2 -5.9 2.1 -5.3 2.1 -4.8 2.1 -4.4 2.1 -4.1 2.2 -3.8 2.1 -3.5 2.1 -3.3 2.1 -3.2 2.1 -2.9 5.4 -7 5.4 -6.1 5.4 -5.5 5.4 -5.1 5.4 -4.6 5.4 -4.2 5.4 -3.9 5.4 -3.6 5.4 -3.3 5.4 -3.1 5.4 -2.9 6.4 -3.2 6.3 -2.9 6.4 -2.7 6.3 -2.6 6.4 -2.3 6.4 -2.2 6.3 -2.1 6.4 -1.9 6.3 -1.9 6.4 -1.7 6.4 -1.6 6.3 -1.5 6.4 -1.5 6.3 -1.4 6.4 -1.3 6.4 -1.2 6.3 -1.2 6.4 -1.1 6.3 -1 6.4 -1 M748.6 204.5l2.1 -8.1 2.1 -6.9 2.2 -6.2 2.1 -5.4 2.1 -5 2.1 -4.4 2.1 -4.1 2.2 -3.8 2.1 -3.6 2.1 -3.3 2.1 -3.1 2.1 -2.9 5.4 -6.8 5.4 -6.1 5.4 -5.4 5.4 -4.9 5.4 -4.6 5.4 -4.1 5.4 -3.8 5.4 -3.5 5.4 -3.3 5.4 -3.1 5.4 -2.8 6.4 -3.1 6.3 -2.9 6.4 -2.7 6.3 -2.5 6.4 -2.3 6.4 -2.2 6.3 -2 6.4 -2 6.3 -1.8 6.4 -1.7 6.4 -1.6 6.3 -1.5 6.4 -1.4 6.3 -1.3 6.4 -1.3 6.4 -1.2 6.3 -1.2 6.4 -1.1 6.3 -1 6.4 -1 M748.6 205.8l2.1 -7.9 2.1 -6.9 2.2 -6 2.1 -5.5 2.1 -4.9 2.1 -4.4 2.1 -4.2 2.2 -3.8 2.1 -3.5 2.1 -3.3 2.1 -3.2 2.1 -2.9 5.4 -6.9 5.4 -6.1 5.4 -5.5 5.4 -5 5.4 -4.6 5.4 -4.2 5.4 -3.8 5.4 -3.6 5.4 -3.3 5.4 -3.1 5.4 -2.9 6.4 -3.2 6.3 -3 6.4 -2.7 6.3 -2.6 6.4 -2.3 6.4 -2.3 6.3 -2.1 6.4 -1.9 6.3 -1.9 6.4 -1.7 6.4 -1.7 6.3 -1.5 6.4 -1.5 6.3 -1.4 6.4 -1.4 6.4 -1.2 6.3 -1.2 6.4 -1.2 6.3 -1.1 6.4 -1 M748.6 204.8l2.1 -7.8 2.1 -6.8 2.2 -6 2.1 -5.4 2.1 -4.9 2.1 -4.4 2.1 -4.1 2.2 -3.8 2.1 -3.6 2.1 -3.3 2.1 -3.1 2.1 -3 5.4 -6.8 5.4 -6.1 5.4 -5.5 5.4 -5 5.4 -4.6 5.4 -4.2 5.4 -3.8 5.4 -3.6 5.4 -3.3 5.4 -3.1 5.4 -2.9 6.4 -3.2 6.3 -2.9 6.4 -2.7 6.3 -2.5 6.4 -2.4 6.4 -2.2 6.3 -2.1 6.4 -2 6.3 -1.8 6.4 -1.7 6.4 -1.6 6.3 -1.6 6.4 -1.4 6.3 -1.4 6.4 -1.3 6.4 -1.3 6.3 -1.2 6.4 -1.1 6.3 -1.1 6.4 -1 M748.6 204.9l2.1 -7.5 2.1 -6.6 2.2 -5.9 2.1 -5.3 2.1 -4.9 2.1 -4.4 2.1 -4 2.2 -3.8 2.1 -3.6 2.1 -3.3 2.1 -3.1 2.1 -3 5.4 -6.9 5.4 -6.2 5.4 -5.5 5.4 -5 5.4 -4.6 5.4 -4.3 5.4 -3.9 5.4 -3.6 5.4 -3.3 5.4 -3.2 5.4 -2.9 6.4 -3.2 6.3 -2.9 6.4 -2.8 6.3 -2.5 6.4 -2.4 6.4 -2.2 6.3 -2.1 6.4 -2 6.3 -1.8 6.4 -1.8 6.4 -1.6 6.3 -1.6 6.4 -1.5 6.3 -1.3 6.4 -1.4 6.4 -1.2 6.3 -1.2 6.4 -1.2 6.3 -1.1 6.4 -1 M748.6 204.7l2.1 -7.5 2.1 -6.6 2.2 -5.9 2.1 -5.3 2.1 -4.8 2.1 -4.4 2.1 -4 2.2 -3.8 2.1 -3.6 2.1 -3.3 2.1 -3.1 2.1 -3 5.4 -6.9 5.4 -6.1 5.4 -5.6 5.4 -5 5.4 -4.6 5.4 -4.3 5.4 -3.9 5.4 -3.6 5.4 -3.3 5.4 -3.1 5.4 -2.9 6.4 -3.2 6.3 -3 6.4 -2.7 6.3 -2.6 6.4 -2.4 6.4 -2.2 6.3 -2.1 6.4 -1.9 6.3 -1.9 6.4 -1.7 6.4 -1.7 6.3 -1.5 6.4 -1.5 6.3 -1.4 6.4 -1.3 6.4 -1.3 6.3 -1.2 6.4 -1.1 6.3 -1.1 6.4 -1 M748.6 206.4l2.1 -7.4 2.1 -6.5 2.2 -5.8 2.1 -5.3 2.1 -4.8 2.1 -4.4 2.1 -4.1 2.2 -3.8 2.1 -3.5 2.1 -3.4 2.1 -3.1 2.1 -3 5.4 -7 5.4 -6.2 5.4 -5.6 5.4 -5.1 5.4 -4.7 5.4 -4.2 5.4 -4 5.4 -3.7 5.4 -3.4 5.4 -3.1 5.4 -3 6.4 -3.2 6.3 -3.1 6.4 -2.8 6.3 -2.6 6.4 -2.4 6.4 -2.3 6.3 -2.2 6.4 -2 6.3 -1.9 6.4 -1.8 6.4 -1.7 6.3 -1.6 6.4 -1.5 6.3 -1.5 6.4 -1.3 6.4 -1.3 6.3 -1.3 6.4 -1.2 6.3 -1.1 6.4 -1.1 M748.6 205.4l2.1 -7.3 2.1 -6.5 2.2 -5.8 2.1 -5.2 2.1 -4.7 2.1 -4.4 2.1 -4.1 2.2 -3.7 2.1 -3.6 2.1 -3.3 2.1 -3.1 2.1 -3 5.4 -6.9 5.4 -6.2 5.4 -5.6 5.4 -5.1 5.4 -4.6 5.4 -4.3 5.4 -3.9 5.4 -3.7 5.4 -3.3 5.4 -3.2 5.4 -2.9 6.4 -3.2 6.3 -3 6.4 -2.8 6.3 -2.5 6.4 -2.4 6.4 -2.3 6.3 -2.1 6.4 -2 6.3 -1.8 6.4 -1.8 6.4 -1.7 6.3 -1.5 6.4 -1.5 6.3 -1.4 6.4 -1.3 6.4 -1.3 6.3 -1.2 6.4 -1.2 6.3 -1.1 6.4 -1 M748.6 205.7l2.1 -7.1 2.1 -6.3 2.2 -5.6 2.1 -5.2 2.1 -4.7 2.1 -4.3 2.1 -4 2.2 -3.8 2.1 -3.5 2.1 -3.3 2.1 -3.1 2.1 -3 5.4 -7 5.4 -6.2 5.4 -5.6 5.4 -5 5.4 -4.7 5.4 -4.3 5.4 -3.9 5.4 -3.6 5.4 -3.4 5.4 -3.1 5.4 -2.9 6.4 -3.2 6.3 -3 6.4 -2.8 6.3 -2.5 6.4 -2.4 6.4 -2.2 6.3 -2.1 6.4 -2 6.3 -1.8 6.4 -1.7 6.4 -1.7 6.3 -1.5 6.4 -1.5 6.3 -1.4 6.4 -1.3 6.4 -1.2 6.3 -1.2 6.4 -1.1 6.3 -1.1 6.4 -1 M748.6 206.6l2.1 -7.3 2.1 -6.5 2.2 -5.7 2.1 -5.3 2.1 -4.7 2.1 -4.4 2.1 -4 2.2 -3.8 2.1 -3.6 2.1 -3.3 2.1 -3.1 2.1 -3 5.4 -6.9 5.4 -6.2 5.4 -5.6 5.4 -5.1 5.4 -4.7 5.4 -4.2 5.4 -4 5.4 -3.6 5.4 -3.4 5.4 -3.2 5.4 -2.9 6.4 -3.2 6.3 -3 6.4 -2.8 6.3 -2.6 6.4 -2.4 6.4 -2.3 6.3 -2.1 6.4 -2 6.3 -1.9 6.4 -1.8 6.4 -1.6 6.3 -1.6 6.4 -1.5 6.3 -1.4 6.4 -1.4 6.4 -1.3 6.3 -1.2 6.4 -1.2 6.3 -1.1 6.4 -1.1 M748.6 207l2.1 -7.3 2.1 -6.4 2.2 -5.7 2.1 -5.2 2.1 -4.8 2.1 -4.3 2.1 -4.1 2.2 -3.7 2.1 -3.6 2.1 -3.3 2.1 -3.1 2.1 -3 5.4 -7 5.4 -6.2 5.4 -5.6 5.4 -5.1 5.4 -4.7 5.4 -4.2 5.4 -4 5.4 -3.7 5.4 -3.4 5.4 -3.1 5.4 -3 6.4 -3.2 6.3 -3 6.4 -2.8 6.3 -2.6 6.4 -2.4 6.4 -2.3 6.3 -2.2 6.4 -2 6.3 -1.9 6.4 -1.7 6.4 -1.7 6.3 -1.6 6.4 -1.5 6.3 -1.4 6.4 -1.4 6.4 -1.3 6.3 -1.2 6.4 -1.2 6.3 -1.1 6.4 -1.1 M748.6 206.6l2.1 -6.9 2.1 -6.2 2.2 -5.6 2.1 -5 2.1 -4.7 2.1 -4.3 2.1 -4 2.2 -3.8 2.1 -3.5 2.1 -3.4 2.1 -3.1 2.1 -3 5.4 -7 5.4 -6.3 5.4 -5.7 5.4 -5.1 5.4 -4.7 5.4 -4.4 5.4 -3.9 5.4 -3.7 5.4 -3.5 5.4 -3.2 5.4 -3 6.4 -3.2 6.3 -3 6.4 -2.9 6.3 -2.6 6.4 -2.4 6.4 -2.3 6.3 -2.2 6.4 -2 6.3 -1.9 6.4 -1.8 6.4 -1.7 6.3 -1.6 6.4 -1.5 6.3 -1.5 6.4 -1.3 6.4 -1.3 6.3 -1.3 6.4 -1.2 6.3 -1.1 6.4 -1.1 M748.6 206.9l2.1 -7 2.1 -6.2 2.2 -5.6 2.1 -5.1 2.1 -4.6 2.1 -4.3 2.1 -4.1 2.2 -3.7 2.1 -3.5 2.1 -3.3 2.1 -3.2 2.1 -3 5.4 -6.9 5.4 -6.3 5.4 -5.6 5.4 -5.1 5.4 -4.7 5.4 -4.3 5.4 -4 5.4 -3.6 5.4 -3.4 5.4 -3.2 5.4 -2.9 6.4 -3.3 6.3 -3 6.4 -2.8 6.3 -2.6 6.4 -2.4 6.4 -2.2 6.3 -2.2 6.4 -1.9 6.3 -1.9 6.4 -1.8 6.4 -1.7 6.3 -1.5 6.4 -1.5 6.3 -1.4 6.4 -1.4 6.4 -1.2 6.3 -1.3 6.4 -1.1 6.3 -1.1 6.4 -1.1 M748.6 207l2.1 -7 2.1 -6.3 2.2 -5.6 2.1 -5.2 2.1 -4.7 2.1 -4.3 2.1 -4 2.2 -3.8 2.1 -3.5 2.1 -3.3 2.1 -3.2 2.1 -3 5.4 -7 5.4 -6.2 5.4 -5.7 5.4 -5.1 5.4 -4.7 5.4 -4.3 5.4 -4 5.4 -3.7 5.4 -3.4 5.4 -3.2 5.4 -3 6.4 -3.3 6.3 -3 6.4 -2.8 6.3 -2.6 6.4 -2.5 6.4 -2.3 6.3 -2.1 6.4 -2.1 6.3 -1.9 6.4 -1.8 6.4 -1.7 6.3 -1.6 6.4 -1.5 6.3 -1.5 6.4 -1.4 6.4 -1.3 6.3 -1.2 6.4 -1.2 6.3 -1.2 6.4 -1 M748.6 206.4l2.1 -6.7 2.1 -6 2.2 -5.5 2.1 -5 2.1 -4.6 2.1 -4.3 2.1 -4 2.2 -3.7 2.1 -3.5 2.1 -3.4 2.1 -3.1 2.1 -3 5.4 -7 5.4 -6.3 5.4 -5.7 5.4 -5.2 5.4 -4.7 5.4 -4.4 5.4 -4 5.4 -3.7 5.4 -3.4 5.4 -3.3 5.4 -2.9 6.4 -3.3 6.3 -3.1 6.4 -2.8 6.3 -2.6 6.4 -2.5 6.4 -2.3 6.3 -2.1 6.4 -2 6.3 -1.9 6.4 -1.8 6.4 -1.7 6.3 -1.6 6.4 -1.5 6.3 -1.5 6.4 -1.3 6.4 -1.3 6.3 -1.3 6.4 -1.2 6.3 -1.1 6.4 -1.1 M748.6 208.3l2.1 -6.7 2.1 -6.1 2.2 -5.5 2.1 -5 2.1 -4.7 2.1 -4.3 2.1 -4 2.2 -3.7 2.1 -3.6 2.1 -3.3 2.1 -3.2 2.1 -3 5.4 -7.1 5.4 -6.3 5.4 -5.7 5.4 -5.2 5.4 -4.8 5.4 -4.3 5.4 -4.1 5.4 -3.7 5.4 -3.5 5.4 -3.3 5.4 -3 6.4 -3.3 6.3 -3.1 6.4 -2.9 6.3 -2.6 6.4 -2.5 6.4 -2.4 6.3 -2.2 6.4 -2 6.3 -2 6.4 -1.8 6.4 -1.8 6.3 -1.6 6.4 -1.6 6.3 -1.5 6.4 -1.4 6.4 -1.3 6.3 -1.3 6.4 -1.3 6.3 -1.1 6.4 -1.2 M748.6 207l2.1 -6.8 2.1 -6.2 2.2 -5.5 2.1 -5 2.1 -4.7 2.1 -4.3 2.1 -4 2.2 -3.7 2.1 -3.5 2.1 -3.4 2.1 -3.1 2.1 -3 5.4 -7 5.4 -6.2 5.4 -5.7 5.4 -5.1 5.4 -4.7 5.4 -4.4 5.4 -3.9 5.4 -3.7 5.4 -3.5 5.4 -3.1 5.4 -3 6.4 -3.3 6.3 -3 6.4 -2.8 6.3 -2.6 6.4 -2.5 6.4 -2.3 6.3 -2.1 6.4 -2 6.3 -1.9 6.4 -1.8 6.4 -1.7 6.3 -1.6 6.4 -1.5 6.3 -1.4 6.4 -1.4 6.4 -1.3 6.3 -1.2 6.4 -1.2 6.3 -1.1 6.4 -1.1 M748.6 207.2l2.1 -6.6 2.1 -5.8 2.2 -5.4 2.1 -4.9 2.1 -4.6 2.1 -4.2 2.1 -4 2.2 -3.7 2.1 -3.5 2.1 -3.4 2.1 -3.1 2.1 -3 5.4 -7.1 5.4 -6.3 5.4 -5.7 5.4 -5.2 5.4 -4.7 5.4 -4.4 5.4 -4 5.4 -3.8 5.4 -3.4 5.4 -3.2 5.4 -3 6.4 -3.3 6.3 -3 6.4 -2.9 6.3 -2.6 6.4 -2.5 6.4 -2.3 6.3 -2.1 6.4 -2 6.3 -2 6.4 -1.8 6.4 -1.6 6.3 -1.7 6.4 -1.5 6.3 -1.4 6.4 -1.4 6.4 -1.3 6.3 -1.2 6.4 -1.2 6.3 -1.1 6.4 -1.1 M748.6 207.4l2.1 -6.4 2.1 -5.8 2.2 -5.3 2.1 -4.9 2.1 -4.5 2.1 -4.3 2.1 -3.9 2.2 -3.7 2.1 -3.5 2.1 -3.3 2.1 -3.2 2.1 -3 5.4 -7.1 5.4 -6.3 5.4 -5.7 5.4 -5.2 5.4 -4.7 5.4 -4.4 5.4 -4 5.4 -3.7 5.4 -3.5 5.4 -3.2 5.4 -3 6.4 -3.3 6.3 -3 6.4 -2.8 6.3 -2.7 6.4 -2.4 6.4 -2.3 6.3 -2.2 6.4 -2 6.3 -1.9 6.4 -1.8 6.4 -1.6 6.3 -1.6 6.4 -1.5 6.3 -1.5 6.4 -1.3 6.4 -1.3 6.3 -1.2 6.4 -1.2 6.3 -1.1 6.4 -1.1 M748.6 207.2l2.1 -6.6 2.1 -6 2.2 -5.4 2.1 -4.9 2.1 -4.6 2.1 -4.3 2.1 -3.9 2.2 -3.8 2.1 -3.5 2.1 -3.3 2.1 -3.2 2.1 -2.9 5.4 -7.1 5.4 -6.3 5.4 -5.7 5.4 -5.1 5.4 -4.8 5.4 -4.3 5.4 -4 5.4 -3.8 5.4 -3.4 5.4 -3.2 5.4 -3 6.4 -3.3 6.3 -3 6.4 -2.9 6.3 -2.6 6.4 -2.5 6.4 -2.3 6.3 -2.1 6.4 -2.1 6.3 -1.9 6.4 -1.8 6.4 -1.7 6.3 -1.6 6.4 -1.5 6.3 -1.5 6.4 -1.3 6.4 -1.4 6.3 -1.2 6.4 -1.2 6.3 -1.1 6.4 -1.1 M748.6 208.1l2.1 -6 2.1 -5.6 2.2 -5.1 2.1 -4.7 2.1 -4.5 2.1 -4.1 2.1 -4 2.2 -3.7 2.1 -3.5 2.1 -3.3 2.1 -3.2 2.1 -3 5.4 -7.1 5.4 -6.4 5.4 -5.8 5.4 -5.3 5.4 -4.8 5.4 -4.4 5.4 -4.1 5.4 -3.8 5.4 -3.5 5.4 -3.3 5.4 -3 6.4 -3.3 6.3 -3.1 6.4 -2.9 6.3 -2.7 6.4 -2.5 6.4 -2.3 6.3 -2.2 6.4 -2 6.3 -1.9 6.4 -1.9 6.4 -1.7 6.3 -1.6 6.4 -1.5 6.3 -1.5 6.4 -1.4 6.4 -1.3 6.3 -1.2 6.4 -1.2 6.3 -1.2 6.4 -1.1 M748.6 208.7l2.1 -6.3 2.1 -5.7 2.2 -5.3 2.1 -4.9 2.1 -4.5 2.1 -4.2 2.1 -3.9 2.2 -3.7 2.1 -3.5 2.1 -3.4 2.1 -3.1 2.1 -3 5.4 -7.1 5.4 -6.4 5.4 -5.7 5.4 -5.3 5.4 -4.8 5.4 -4.4 5.4 -4 5.4 -3.8 5.4 -3.5 5.4 -3.2 5.4 -3 6.4 -3.4 6.3 -3 6.4 -2.9 6.3 -2.7 6.4 -2.5 6.4 -2.3 6.3 -2.2 6.4 -2 6.3 -2 6.4 -1.8 6.4 -1.7 6.3 -1.6 6.4 -1.6 6.3 -1.4 6.4 -1.4 6.4 -1.4 6.3 -1.2 6.4 -1.2 6.3 -1.2 6.4 -1.1 M748.6 207.9l2.1 -5.9 2.1 -5.4 2.2 -5 2.1 -4.7 2.1 -4.4 2.1 -4.2 2.1 -3.9 2.2 -3.7 2.1 -3.5 2.1 -3.3 2.1 -3.2 2.1 -3 5.4 -7.2 5.4 -6.4 5.4 -5.9 5.4 -5.3 5.4 -4.8 5.4 -4.5 5.4 -4.1 5.4 -3.8 5.4 -3.5 5.4 -3.3 5.4 -3.1 6.4 -3.3 6.3 -3.1 6.4 -2.9 6.3 -2.7 6.4 -2.5 6.4 -2.4 6.3 -2.2 6.4 -2.1 6.3 -1.9 6.4 -1.8 6.4 -1.8 6.3 -1.6 6.4 -1.6 6.3 -1.4 6.4 -1.4 6.4 -1.4 6.3 -1.2 6.4 -1.3 6.3 -1.1 6.4 -1.1 M748.6 207.9l2.1 -6.3 2.1 -5.8 2.2 -5.2 2.1 -4.9 2.1 -4.5 2.1 -4.2 2.1 -3.9 2.2 -3.7 2.1 -3.5 2.1 -3.3 2.1 -3.1 2.1 -3 5.4 -7.1 5.4 -6.3 5.4 -5.7 5.4 -5.1 5.4 -4.8 5.4 -4.3 5.4 -4.1 5.4 -3.7 5.4 -3.4 5.4 -3.2 5.4 -3 6.4 -3.3 6.3 -3 6.4 -2.8 6.3 -2.7 6.4 -2.4 6.4 -2.3 6.3 -2.1 6.4 -2 6.3 -1.9 6.4 -1.8 6.4 -1.7 6.3 -1.6 6.4 -1.5 6.3 -1.4 6.4 -1.3 6.4 -1.3 6.3 -1.2 6.4 -1.2 6.3 -1.1 6.4 -1.1 M748.6 208.4l2.1 -6 2.1 -5.4 2.2 -5.1 2.1 -4.7 2.1 -4.4 2.1 -4.2 2.1 -3.9 2.2 -3.7 2.1 -3.5 2.1 -3.3 2.1 -3.2 2.1 -3 5.4 -7.1 5.4 -6.5 5.4 -5.8 5.4 -5.3 5.4 -4.8 5.4 -4.5 5.4 -4.1 5.4 -3.8 5.4 -3.5 5.4 -3.3 5.4 -3 6.4 -3.4 6.3 -3.1 6.4 -2.9 6.3 -2.7 6.4 -2.5 6.4 -2.3 6.3 -2.2 6.4 -2.1 6.3 -1.9 6.4 -1.9 6.4 -1.7 6.3 -1.7 6.4 -1.5 6.3 -1.5 6.4 -1.4 6.4 -1.3 6.3 -1.3 6.4 -1.2 6.3 -1.2 6.4 -1.1 M748.6 210.4l2.1 -6.1 2.1 -5.6 2.2 -5.1 2.1 -4.8 2.1 -4.5 2.1 -4.1 2.1 -4 2.2 -3.7 2.1 -3.5 2.1 -3.4 2.1 -3.2 2.1 -3 5.4 -7.2 5.4 -6.5 5.4 -5.8 5.4 -5.3 5.4 -4.9 5.4 -4.5 5.4 -4.2 5.4 -3.8 5.4 -3.6 5.4 -3.3 5.4 -3.1 6.4 -3.5 6.3 -3.1 6.4 -3 6.3 -2.8 6.4 -2.5 6.4 -2.5 6.3 -2.2 6.4 -2.2 6.3 -2 6.4 -1.9 6.4 -1.8 6.3 -1.7 6.4 -1.7 6.3 -1.5 6.4 -1.5 6.4 -1.4 6.3 -1.3 6.4 -1.3 6.3 -1.3 6.4 -1.2 M748.6 208.6l2.1 -5.8 2.1 -5.4 2.2 -5 2.1 -4.6 2.1 -4.4 2.1 -4.1 2.1 -3.9 2.2 -3.7 2.1 -3.5 2.1 -3.3 2.1 -3.1 2.1 -3.1 5.4 -7.1 5.4 -6.4 5.4 -5.8 5.4 -5.2 5.4 -4.9 5.4 -4.4 5.4 -4.1 5.4 -3.7 5.4 -3.6 5.4 -3.2 5.4 -3 6.4 -3.4 6.3 -3 6.4 -2.9 6.3 -2.7 6.4 -2.4 6.4 -2.4 6.3 -2.1 6.4 -2.1 6.3 -1.9 6.4 -1.8 6.4 -1.7 6.3 -1.6 6.4 -1.5 6.3 -1.5 6.4 -1.3 6.4 -1.3 6.3 -1.3 6.4 -1.2 6.3 -1.1 6.4 -1 M748.6 209.5l2.1 -6.1 2.1 -5.5 2.2 -5.2 2.1 -4.7 2.1 -4.5 2.1 -4.1 2.1 -3.9 2.2 -3.7 2.1 -3.5 2.1 -3.4 2.1 -3.1 2.1 -3.1 5.4 -7.1 5.4 -6.4 5.4 -5.8 5.4 -5.3 5.4 -4.8 5.4 -4.5 5.4 -4.1 5.4 -3.8 5.4 -3.5 5.4 -3.3 5.4 -3 6.4 -3.4 6.3 -3.1 6.4 -2.9 6.3 -2.7 6.4 -2.5 6.4 -2.4 6.3 -2.2 6.4 -2.1 6.3 -2 6.4 -1.8 6.4 -1.8 6.3 -1.6 6.4 -1.6 6.3 -1.5 6.4 -1.4 6.4 -1.4 6.3 -1.3 6.4 -1.2 6.3 -1.2 6.4 -1.1 M748.6 211l2.1 -6 2.1 -5.5 2.2 -5 2.1 -4.8 2.1 -4.4 2.1 -4.1 2.1 -3.9 2.2 -3.7 2.1 -3.5 2.1 -3.4 2.1 -3.2 2.1 -3 5.4 -7.1 5.4 -6.4 5.4 -5.9 5.4 -5.3 5.4 -4.8 5.4 -4.5 5.4 -4.1 5.4 -3.8 5.4 -3.5 5.4 -3.3 5.4 -3.1 6.4 -3.4 6.3 -3.1 6.4 -2.9 6.3 -2.8 6.4 -2.5 6.4 -2.4 6.3 -2.2 6.4 -2.1 6.3 -2 6.4 -1.8 6.4 -1.8 6.3 -1.7 6.4 -1.6 6.3 -1.5 6.4 -1.4 6.4 -1.4 6.3 -1.3 6.4 -1.2 6.3 -1.2 6.4 -1.1 M748.6 209.4l2.1 -5.8 2.1 -5.4 2.2 -5 2.1 -4.6 2.1 -4.4 2.1 -4.1 2.1 -3.9 2.2 -3.7 2.1 -3.5 2.1 -3.3 2.1 -3.2 2.1 -3 5.4 -7.2 5.4 -6.4 5.4 -5.8 5.4 -5.4 5.4 -4.8 5.4 -4.5 5.4 -4.1 5.4 -3.9 5.4 -3.5 5.4 -3.3 5.4 -3.1 6.4 -3.4 6.3 -3.1 6.4 -2.9 6.3 -2.7 6.4 -2.6 6.4 -2.4 6.3 -2.2 6.4 -2.1 6.3 -1.9 6.4 -1.9 6.4 -1.8 6.3 -1.6 6.4 -1.6 6.3 -1.5 6.4 -1.4 6.4 -1.4 6.3 -1.3 6.4 -1.2 6.3 -1.2 6.4 -1.1 M748.6 210.2l2.1 -5.7 2.1 -5.3 2.2 -4.9 2.1 -4.6 2.1 -4.4 2.1 -4.1 2.1 -3.9 2.2 -3.6 2.1 -3.5 2.1 -3.4 2.1 -3.1 2.1 -3.1 5.4 -7.1 5.4 -6.5 5.4 -5.8 5.4 -5.4 5.4 -4.8 5.4 -4.5 5.4 -4.2 5.4 -3.8 5.4 -3.5 5.4 -3.3 5.4 -3.1 6.4 -3.4 6.3 -3.1 6.4 -2.9 6.3 -2.8 6.4 -2.5 6.4 -2.4 6.3 -2.2 6.4 -2.1 6.3 -2 6.4 -1.8 6.4 -1.8 6.3 -1.6 6.4 -1.6 6.3 -1.5 6.4 -1.4 6.4 -1.4 6.3 -1.3 6.4 -1.2 6.3 -1.2 6.4 -1.1 M748.6 209.6l2.1 -5.6 2.1 -5.2 2.2 -4.9 2.1 -4.6 2.1 -4.3 2.1 -4 2.1 -3.9 2.2 -3.7 2.1 -3.4 2.1 -3.4 2.1 -3.1 2.1 -3.1 5.4 -7.1 5.4 -6.5 5.4 -5.8 5.4 -5.3 5.4 -4.9 5.4 -4.5 5.4 -4.1 5.4 -3.8 5.4 -3.6 5.4 -3.3 5.4 -3.1 6.4 -3.3 6.3 -3.1 6.4 -2.9 6.3 -2.7 6.4 -2.6 6.4 -2.3 6.3 -2.2 6.4 -2.1 6.3 -1.9 6.4 -1.9 6.4 -1.7 6.3 -1.7 6.4 -1.5 6.3 -1.5 6.4 -1.4 6.4 -1.3 6.3 -1.3 6.4 -1.2 6.3 -1.2 6.4 -1.1 M748.6 211.7l2.1 -5.5 2.1 -5.2 2.2 -4.8 2.1 -4.6 2.1 -4.3 2.1 -4 2.1 -3.9 2.2 -3.6 2.1 -3.5 2.1 -3.4 2.1 -3.2 2.1 -3 5.4 -7.2 5.4 -6.5 5.4 -5.9 5.4 -5.3 5.4 -4.9 5.4 -4.6 5.4 -4.1 5.4 -3.9 5.4 -3.6 5.4 -3.3 5.4 -3.1 6.4 -3.4 6.3 -3.1 6.4 -3 6.3 -2.7 6.4 -2.6 6.4 -2.4 6.3 -2.2 6.4 -2.1 6.3 -2 6.4 -1.9 6.4 -1.7 6.3 -1.7 6.4 -1.6 6.3 -1.5 6.4 -1.4 6.4 -1.4 6.3 -1.3 6.4 -1.2 6.3 -1.2 6.4 -1.2 M748.6 210.2l2.1 -5.4 2.1 -5.1 2.2 -4.8 2.1 -4.5 2.1 -4.3 2.1 -4.1 2.1 -3.8 2.2 -3.7 2.1 -3.4 2.1 -3.4 2.1 -3.1 2.1 -3.1 5.4 -7.2 5.4 -6.4 5.4 -5.9 5.4 -5.4 5.4 -4.9 5.4 -4.5 5.4 -4.1 5.4 -3.9 5.4 -3.6 5.4 -3.3 5.4 -3.1 6.4 -3.4 6.3 -3.1 6.4 -2.9 6.3 -2.7 6.4 -2.6 6.4 -2.3 6.3 -2.3 6.4 -2.1 6.3 -1.9 6.4 -1.9 6.4 -1.7 6.3 -1.7 6.4 -1.6 6.3 -1.5 6.4 -1.4 6.4 -1.3 6.3 -1.3 6.4 -1.2 6.3 -1.2 6.4 -1.1 M748.6 210.4l2.1 -5.4 2.1 -5.1 2.2 -4.8 2.1 -4.6 2.1 -4.2 2.1 -4.1 2.1 -3.8 2.2 -3.7 2.1 -3.5 2.1 -3.3 2.1 -3.2 2.1 -3 5.4 -7.2 5.4 -6.4 5.4 -5.9 5.4 -5.4 5.4 -4.9 5.4 -4.5 5.4 -4.1 5.4 -3.9 5.4 -3.5 5.4 -3.4 5.4 -3.1 6.4 -3.3 6.3 -3.2 6.4 -2.9 6.3 -2.7 6.4 -2.6 6.4 -2.3 6.3 -2.3 6.4 -2.1 6.3 -1.9 6.4 -1.9 6.4 -1.7 6.3 -1.7 6.4 -1.6 6.3 -1.5 6.4 -1.4 6.4 -1.3 6.3 -1.3 6.4 -1.2 6.3 -1.2 6.4 -1.1 M748.6 211.7l2.1 -5.5 2.1 -5.1 2.2 -4.8 2.1 -4.5 2.1 -4.3 2.1 -4.1 2.1 -3.8 2.2 -3.7 2.1 -3.5 2.1 -3.3 2.1 -3.2 2.1 -3.1 5.4 -7.2 5.4 -6.5 5.4 -5.9 5.4 -5.3 5.4 -5 5.4 -4.5 5.4 -4.2 5.4 -3.8 5.4 -3.6 5.4 -3.4 5.4 -3.1 6.4 -3.4 6.3 -3.2 6.4 -3 6.3 -2.7 6.4 -2.6 6.4 -2.4 6.3 -2.2 6.4 -2.2 6.3 -2 6.4 -1.9 6.4 -1.8 6.3 -1.7 6.4 -1.6 6.3 -1.5 6.4 -1.4 6.4 -1.4 6.3 -1.4 6.4 -1.2 6.3 -1.2 6.4 -1.2 M748.6 211.2l2.1 -5.1 2.1 -4.9 2.2 -4.7 2.1 -4.4 2.1 -4.2 2.1 -4 2.1 -3.8 2.2 -3.7 2.1 -3.4 2.1 -3.4 2.1 -3.2 2.1 -3 5.4 -7.3 5.4 -6.5 5.4 -6 5.4 -5.4 5.4 -5 5.4 -4.5 5.4 -4.3 5.4 -3.9 5.4 -3.6 5.4 -3.3 5.4 -3.2 6.4 -3.4 6.3 -3.2 6.4 -3 6.3 -2.8 6.4 -2.5 6.4 -2.5 6.3 -2.2 6.4 -2.2 6.3 -2 6.4 -1.9 6.4 -1.8 6.3 -1.7 6.4 -1.6 6.3 -1.5 6.4 -1.5 6.4 -1.3 6.3 -1.4 6.4 -1.2 6.3 -1.2 6.4 -1.2 M748.6 211.4l2.1 -5.3 2.1 -5 2.2 -4.7 2.1 -4.5 2.1 -4.2 2.1 -4.1 2.1 -3.8 2.2 -3.6 2.1 -3.5 2.1 -3.3 2.1 -3.2 2.1 -3.1 5.4 -7.2 5.4 -6.5 5.4 -5.9 5.4 -5.4 5.4 -5 5.4 -4.5 5.4 -4.2 5.4 -3.9 5.4 -3.6 5.4 -3.3 5.4 -3.1 6.4 -3.5 6.3 -3.1 6.4 -3 6.3 -2.8 6.4 -2.5 6.4 -2.4 6.3 -2.3 6.4 -2.1 6.3 -2 6.4 -1.9 6.4 -1.8 6.3 -1.7 6.4 -1.6 6.3 -1.5 6.4 -1.5 6.4 -1.3 6.3 -1.4 6.4 -1.2 6.3 -1.2 6.4 -1.2 M748.6 211.8l2.1 -5.1 2.1 -4.7 2.2 -4.6 2.1 -4.4 2.1 -4.2 2.1 -3.9 2.1 -3.9 2.2 -3.6 2.1 -3.5 2.1 -3.3 2.1 -3.2 2.1 -3.1 5.4 -7.3 5.4 -6.6 5.4 -5.9 5.4 -5.5 5.4 -5 5.4 -4.6 5.4 -4.3 5.4 -3.9 5.4 -3.6 5.4 -3.4 5.4 -3.2 6.4 -3.5 6.3 -3.2 6.4 -3 6.3 -2.8 6.4 -2.6 6.4 -2.4 6.3 -2.3 6.4 -2.2 6.3 -2 6.4 -1.9 6.4 -1.9 6.3 -1.7 6.4 -1.6 6.3 -1.6 6.4 -1.4 6.4 -1.4 6.3 -1.4 6.4 -1.3 6.3 -1.2 6.4 -1.2 M748.6 210.9l2.1 -5 2.1 -4.7 2.2 -4.6 2.1 -4.3 2.1 -4.1 2.1 -4 2.1 -3.8 2.2 -3.6 2.1 -3.5 2.1 -3.3 2.1 -3.2 2.1 -3.1 5.4 -7.2 5.4 -6.6 5.4 -5.9 5.4 -5.4 5.4 -5 5.4 -4.6 5.4 -4.2 5.4 -3.9 5.4 -3.6 5.4 -3.4 5.4 -3.1 6.4 -3.5 6.3 -3.1 6.4 -3 6.3 -2.7 6.4 -2.6 6.4 -2.4 6.3 -2.3 6.4 -2.1 6.3 -2 6.4 -1.9 6.4 -1.7 6.3 -1.7 6.4 -1.6 6.3 -1.5 6.4 -1.5 6.4 -1.3 6.3 -1.3 6.4 -1.3 6.3 -1.1 6.4 -1.2 M748.6 210.5l2.1 -5 2.1 -4.7 2.2 -4.5 2.1 -4.3 2.1 -4.2 2.1 -3.9 2.1 -3.8 2.2 -3.6 2.1 -3.5 2.1 -3.3 2.1 -3.2 2.1 -3 5.4 -7.2 5.4 -6.6 5.4 -5.9 5.4 -5.4 5.4 -4.9 5.4 -4.6 5.4 -4.2 5.4 -3.9 5.4 -3.5 5.4 -3.4 5.4 -3.1 6.4 -3.4 6.3 -3.2 6.4 -2.9 6.3 -2.7 6.4 -2.6 6.4 -2.3 6.3 -2.3 6.4 -2.1 6.3 -1.9 6.4 -1.9 6.4 -1.7 6.3 -1.7 6.4 -1.5 6.3 -1.5 6.4 -1.4 6.4 -1.4 6.3 -1.3 6.4 -1.2 6.3 -1.1 6.4 -1.1 M748.6 212.2l2.1 -4.8 2.1 -4.6 2.2 -4.5 2.1 -4.3 2.1 -4.1 2.1 -3.9 2.1 -3.8 2.2 -3.6 2.1 -3.5 2.1 -3.3 2.1 -3.2 2.1 -3.1 5.4 -7.3 5.4 -6.6 5.4 -6 5.4 -5.5 5.4 -5 5.4 -4.6 5.4 -4.3 5.4 -3.9 5.4 -3.7 5.4 -3.4 5.4 -3.2 6.4 -3.4 6.3 -3.3 6.4 -3 6.3 -2.8 6.4 -2.6 6.4 -2.4 6.3 -2.3 6.4 -2.1 6.3 -2.1 6.4 -1.9 6.4 -1.8 6.3 -1.7 6.4 -1.6 6.3 -1.6 6.4 -1.5 6.4 -1.4 6.3 -1.3 6.4 -1.3 6.3 -1.2 6.4 -1.1 M748.6 211.7l2.1 -4.8 2.1 -4.6 2.2 -4.5 2.1 -4.3 2.1 -4.1 2.1 -3.9 2.1 -3.8 2.2 -3.6 2.1 -3.5 2.1 -3.3 2.1 -3.2 2.1 -3 5.4 -7.3 5.4 -6.6 5.4 -6 5.4 -5.4 5.4 -5 5.4 -4.6 5.4 -4.2 5.4 -4 5.4 -3.6 5.4 -3.4 5.4 -3.1 6.4 -3.5 6.3 -3.2 6.4 -3 6.3 -2.7 6.4 -2.6 6.4 -2.4 6.3 -2.3 6.4 -2.1 6.3 -2 6.4 -1.9 6.4 -1.8 6.3 -1.7 6.4 -1.6 6.3 -1.6 6.4 -1.4 6.4 -1.4 6.3 -1.3 6.4 -1.2 6.3 -1.2 6.4 -1.2 M748.6 212.8l2.1 -4.8 2.1 -4.6 2.2 -4.5 2.1 -4.3 2.1 -4.1 2.1 -3.9 2.1 -3.8 2.2 -3.6 2.1 -3.5 2.1 -3.3 2.1 -3.2 2.1 -3.1 5.4 -7.3 5.4 -6.6 5.4 -6.1 5.4 -5.5 5.4 -5 5.4 -4.6 5.4 -4.3 5.4 -4 5.4 -3.6 5.4 -3.4 5.4 -3.2 6.4 -3.5 6.3 -3.3 6.4 -3 6.3 -2.8 6.4 -2.6 6.4 -2.5 6.3 -2.3 6.4 -2.2 6.3 -2 6.4 -2 6.4 -1.8 6.3 -1.7 6.4 -1.7 6.3 -1.6 6.4 -1.4 6.4 -1.5 6.3 -1.3 6.4 -1.3 6.3 -1.3 6.4 -1.2 M748.6 213l2.1 -4.6 2.1 -4.4 2.2 -4.3 2.1 -4.2 2.1 -4.1 2.1 -3.9 2.1 -3.7 2.2 -3.7 2.1 -3.4 2.1 -3.4 2.1 -3.2 2.1 -3.1 5.4 -7.3 5.4 -6.6 5.4 -6.1 5.4 -5.5 5.4 -5.1 5.4 -4.6 5.4 -4.3 5.4 -4 5.4 -3.7 5.4 -3.4 5.4 -3.2 6.4 -3.5 6.3 -3.3 6.4 -3 6.3 -2.8 6.4 -2.6 6.4 -2.5 6.3 -2.3 6.4 -2.2 6.3 -2 6.4 -1.9 6.4 -1.9 6.3 -1.7 6.4 -1.6 6.3 -1.6 6.4 -1.5 6.4 -1.4 6.3 -1.3 6.4 -1.3 6.3 -1.3 6.4 -1.1 M748.6 195.5l2.1 -4.9 2.1 -4.5 2.2 -4.3 2.1 -4 2.1 -3.9 2.1 -3.7 2.1 -3.5 2.2 -3.3 2.1 -3.2 2.1 -3.1 2.1 -3 2.1 -2.8 5.4 -6.7 5.4 -6.1 5.4 -5.5 5.4 -5.1 5.4 -4.6 5.4 -4.3 5.4 -3.9 5.4 -3.6 5.4 -3.4 5.4 -3.2 5.4 -2.9 6.4 -3.2 6.3 -3 6.4 -2.8 6.3 -2.6 6.4 -2.4 6.4 -2.3 6.3 -2.1 6.4 -2 6.3 -1.8 6.4 -1.8 6.4 -1.7 6.3 -1.5 6.4 -1.5 6.3 -1.5 6.4 -1.3 6.4 -1.3 6.3 -1.2 6.4 -1.1 6.3 -1.1 6.4 -1.1 M748.6 191.4l2.1 -4.7 2.1 -4.4 2.2 -4.2 2.1 -3.9 2.1 -3.7 2.1 -3.6 2.1 -3.4 2.2 -3.3 2.1 -3.1 2.1 -3 2.1 -2.9 2.1 -2.8 5.4 -6.6 5.4 -5.9 5.4 -5.5 5.4 -4.9 5.4 -4.6 5.4 -4.2 5.4 -3.9 5.4 -3.6 5.4 -3.3 5.4 -3.1 5.4 -2.9 6.4 -3.2 6.3 -2.9 6.4 -2.7 6.3 -2.6 6.4 -2.4 6.4 -2.2 6.3 -2.1 6.4 -1.9 6.3 -1.9 6.4 -1.7 6.4 -1.6 6.3 -1.6 6.4 -1.4 6.3 -1.4 6.4 -1.4 6.4 -1.2 6.3 -1.2 6.4 -1.1 6.3 -1.1 6.4 -1 M748.6 187l2.1 -4.6 2.1 -4.3 2.2 -4 2.1 -3.8 2.1 -3.7 2.1 -3.4 2.1 -3.4 2.2 -3.2 2.1 -3 2.1 -2.9 2.1 -2.9 2.1 -2.7 5.4 -6.4 5.4 -5.8 5.4 -5.4 5.4 -4.8 5.4 -4.5 5.4 -4.1 5.4 -3.8 5.4 -3.6 5.4 -3.2 5.4 -3.1 5.4 -2.8 6.4 -3.2 6.3 -2.9 6.4 -2.6 6.3 -2.5 6.4 -2.4 6.4 -2.2 6.3 -2 6.4 -1.9 6.3 -1.8 6.4 -1.7 6.4 -1.6 6.3 -1.5 6.4 -1.5 6.3 -1.3 6.4 -1.3 6.4 -1.2 6.3 -1.2 6.4 -1.1 6.3 -1.1 6.4 -1 M748.6 181.5l2.1 -4.4 2.1 -4.2 2.2 -3.9 2.1 -3.7 2.1 -3.5 2.1 -3.4 2.1 -3.2 2.2 -3.1 2.1 -2.9 2.1 -2.9 2.1 -2.7 2.1 -2.6 5.4 -6.3 5.4 -5.7 5.4 -5.2 5.4 -4.7 5.4 -4.4 5.4 -4 5.4 -3.8 5.4 -3.4 5.4 -3.2 5.4 -3 5.4 -2.8 6.4 -3 6.3 -2.8 6.4 -2.7 6.3 -2.4 6.4 -2.3 6.4 -2.1 6.3 -2 6.4 -1.9 6.3 -1.7 6.4 -1.7 6.4 -1.6 6.3 -1.4 6.4 -1.4 6.3 -1.4 6.4 -1.2 6.4 -1.2 6.3 -1.1 6.4 -1.1 6.3 -1 6.4 -1 M748.6 187.8l2.1 -2.7 2.1 -2.9 2.2 -3 2.1 -3.1 2.1 -3.1 2.1 -3.1 2.1 -3.1 2.2 -3 2.1 -2.9 2.1 -2.9 2.1 -2.8 2.1 -2.7 5.4 -6.6 5.4 -6 5.4 -5.5 5.4 -5.1 5.4 -4.6 5.4 -4.3 5.4 -4 5.4 -3.7 5.4 -3.4 5.4 -3.2 5.4 -2.9 6.4 -3.3 6.3 -3 6.4 -2.8 6.3 -2.6 6.4 -2.4 6.4 -2.3 6.3 -2.2 6.4 -2 6.3 -1.9 6.4 -1.7 6.4 -1.7 6.3 -1.6 6.4 -1.5 6.3 -1.4 6.4 -1.4 6.4 -1.3 6.3 -1.2 6.4 -1.2 6.3 -1.1 6.4 -1.1 M748.6 176.5l2.1 -3.9 2.1 -3.6 2.2 -3.5 2.1 -3.3 2.1 -3.3 2.1 -3.1 2.1 -3 2.2 -3 2.1 -2.8 2.1 -2.8 2.1 -2.6 2.1 -2.6 5.4 -6.1 5.4 -5.6 5.4 -5.1 5.4 -4.7 5.4 -4.3 5.4 -4 5.4 -3.7 5.4 -3.4 5.4 -3.2 5.4 -2.9 5.4 -2.8 6.4 -3 6.3 -2.8 6.4 -2.6 6.3 -2.4 6.4 -2.3 6.4 -2.1 6.3 -1.9 6.4 -1.9 6.3 -1.7 6.4 -1.7 6.4 -1.5 6.3 -1.5 6.4 -1.4 6.3 -1.3 6.4 -1.2 6.4 -1.2 6.3 -1.1 6.4 -1 6.3 -1 6.4 -1 M748.6 180.2l2.1 -2.3 2.1 -2.5 2.2 -2.7 2.1 -2.8 2.1 -2.8 2.1 -2.9 2.1 -2.9 2.2 -2.9 2.1 -2.8 2.1 -2.7 2.1 -2.7 2.1 -2.6 5.4 -6.3 5.4 -5.8 5.4 -5.4 5.4 -4.9 5.4 -4.5 5.4 -4.2 5.4 -3.9 5.4 -3.6 5.4 -3.3 5.4 -3.1 5.4 -2.9 6.4 -3.2 6.3 -2.9 6.4 -2.7 6.3 -2.6 6.4 -2.3 6.4 -2.3 6.3 -2 6.4 -2 6.3 -1.8 6.4 -1.8 6.4 -1.6 6.3 -1.5 6.4 -1.5 6.3 -1.4 6.4 -1.3 6.4 -1.2 6.3 -1.2 6.4 -1.2 6.3 -1 6.4 -1.1 M748.6 174.3l2.1 -2.7 2.1 -2.7 2.2 -2.8 2.1 -2.8 2.1 -2.9 2.1 -2.9 2.1 -2.8 2.2 -2.8 2.1 -2.7 2.1 -2.7 2.1 -2.6 2.1 -2.5 5.4 -6.1 5.4 -5.6 5.4 -5.2 5.4 -4.7 5.4 -4.4 5.4 -4 5.4 -3.8 5.4 -3.4 5.4 -3.3 5.4 -2.9 5.4 -2.8 6.4 -3.1 6.3 -2.8 6.4 -2.7 6.3 -2.4 6.4 -2.3 6.4 -2.2 6.3 -2 6.4 -1.9 6.3 -1.7 6.4 -1.7 6.4 -1.6 6.3 -1.4 6.4 -1.4 6.3 -1.4 6.4 -1.2 6.4 -1.2 6.3 -1.2 6.4 -1 6.3 -1.1 6.4 -.9 M748.6 177.6l2.1 -.5 2.1 -1.1 2.2 -1.7 2.1 -2 2.1 -2.3 2.1 -2.5 2.1 -2.5 2.2 -2.7 2.1 -2.6 2.1 -2.6 2.1 -2.7 2.1 -2.5 5.4 -6.3 5.4 -5.9 5.4 -5.5 5.4 -5 5.4 -4.6 5.4 -4.3 5.4 -4 5.4 -3.7 5.4 -3.4 5.4 -3.1 5.4 -3 6.4 -3.3 6.3 -3 6.4 -2.8 6.3 -2.6 6.4 -2.4 6.4 -2.3 6.3 -2.1 6.4 -2 6.3 -1.9 6.4 -1.8 6.4 -1.7 6.3 -1.6 6.4 -1.5 6.3 -1.4 6.4 -1.4 6.4 -1.2 6.3 -1.3 6.4 -1.1 6.3 -1.2 6.4 -1 M748.6 170.3l2.1 -1.4 2.1 -1.7 2.2 -2 2.1 -2.3 2.1 -2.4 2.1 -2.5 2.1 -2.5 2.2 -2.6 2.1 -2.6 2.1 -2.6 2.1 -2.5 2.1 -2.5 5.4 -6 5.4 -5.6 5.4 -5.2 5.4 -4.7 5.4 -4.4 5.4 -4.1 5.4 -3.8 5.4 -3.5 5.4 -3.2 5.4 -3 5.4 -2.8 6.4 -3.1 6.3 -2.9 6.4 -2.7 6.3 -2.4 6.4 -2.4 6.4 -2.1 6.3 -2 6.4 -1.9 6.3 -1.8 6.4 -1.7 6.4 -1.6 6.3 -1.5 6.4 -1.4 6.3 -1.4 6.4 -1.2 6.4 -1.2 6.3 -1.2 6.4 -1.1 6.3 -1 6.4 -1 M748.6 173.8l2.1 .1 2.1 -.7 2.2 -1.3 2.1 -1.7 2.1 -2 2.1 -2.3 2.1 -2.4 2.2 -2.5 2.1 -2.5 2.1 -2.6 2.1 -2.6 2.1 -2.5 5.4 -6.2 5.4 -5.8 5.4 -5.4 5.4 -5 5.4 -4.6 5.4 -4.3 5.4 -3.9 5.4 -3.7 5.4 -3.4 5.4 -3.1 5.4 -3 6.4 -3.2 6.3 -3 6.4 -2.8 6.3 -2.6 6.4 -2.4 6.4 -2.3 6.3 -2.1 6.4 -2 6.3 -1.9 6.4 -1.7 6.4 -1.7 6.3 -1.6 6.4 -1.5 6.3 -1.4 6.4 -1.4 6.4 -1.2 6.3 -1.3 6.4 -1.1 6.3 -1.1 6.4 -1.1 M748.6 216.4l2.1 -4.3 2.1 -4.2 2.2 -4.2 2.1 -4.1 2.1 -3.9 2.1 -3.9 2.1 -3.7 2.2 -3.6 2.1 -3.5 2.1 -3.4 2.1 -3.2 2.1 -3.1 5.4 -7.5 5.4 -6.7 5.4 -6.2 5.4 -5.6 5.4 -5.1 5.4 -4.8 5.4 -4.4 5.4 -4 5.4 -3.8 5.4 -3.5 5.4 -3.2 6.4 -3.6 6.3 -3.3 6.4 -3.1 6.3 -2.9 6.4 -2.7 6.4 -2.5 6.3 -2.3 6.4 -2.3 6.3 -2.1 6.4 -2 6.4 -1.8 6.3 -1.8 6.4 -1.7 6.3 -1.6 6.4 -1.6 6.4 -1.4 6.3 -1.4 6.4 -1.3 6.3 -1.3 6.4 -1.2 M748.6 219.4l2.1 -4.1 2.1 -4.1 2.2 -4.1 2.1 -4 2.1 -4 2.1 -3.8 2.1 -3.8 2.2 -3.6 2.1 -3.5 2.1 -3.4 2.1 -3.2 2.1 -3.2 5.4 -7.5 5.4 -6.8 5.4 -6.2 5.4 -5.7 5.4 -5.2 5.4 -4.8 5.4 -4.5 5.4 -4.1 5.4 -3.8 5.4 -3.6 5.4 -3.3 6.4 -3.6 6.3 -3.4 6.4 -3.1 6.3 -3 6.4 -2.7 6.4 -2.6 6.3 -2.4 6.4 -2.3 6.3 -2.2 6.4 -2 6.4 -1.9 6.3 -1.9 6.4 -1.7 6.3 -1.7 6.4 -1.5 6.4 -1.5 6.3 -1.5 6.4 -1.4 6.3 -1.3 6.4 -1.3 M748.6 222.9l2.1 -3.7 2.1 -3.9 2.2 -3.9 2.1 -3.9 2.1 -3.9 2.1 -3.8 2.1 -3.7 2.2 -3.7 2.1 -3.5 2.1 -3.4 2.1 -3.3 2.1 -3.2 5.4 -7.6 5.4 -6.9 5.4 -6.4 5.4 -5.8 5.4 -5.4 5.4 -4.9 5.4 -4.5 5.4 -4.2 5.4 -3.9 5.4 -3.7 5.4 -3.4 6.4 -3.7 6.3 -3.5 6.4 -3.2 6.3 -3.1 6.4 -2.8 6.4 -2.6 6.3 -2.5 6.4 -2.4 6.3 -2.2 6.4 -2.1 6.4 -2.1 6.3 -1.9 6.4 -1.8 6.3 -1.7 6.4 -1.7 6.4 -1.5 6.3 -1.5 6.4 -1.5 6.3 -1.4 6.4 -1.3 M748.6 225.9l2.1 -3.4 2.1 -3.6 2.2 -3.8 2.1 -3.7 2.1 -3.8 2.1 -3.8 2.1 -3.7 2.2 -3.7 2.1 -3.5 2.1 -3.4 2.1 -3.4 2.1 -3.2 5.4 -7.8 5.4 -7.1 5.4 -6.5 5.4 -5.9 5.4 -5.5 5.4 -5 5.4 -4.7 5.4 -4.3 5.4 -4 5.4 -3.8 5.4 -3.5 6.4 -3.9 6.3 -3.5 6.4 -3.4 6.3 -3.1 6.4 -2.9 6.4 -2.8 6.3 -2.6 6.4 -2.4 6.3 -2.3 6.4 -2.3 6.4 -2 6.3 -2 6.4 -1.9 6.3 -1.9 6.4 -1.7 6.4 -1.7 6.3 -1.6 6.4 -1.5 6.3 -1.5 6.4 -1.4" stroke="#000" stroke-width="1.35"/>
<path d="M748.6 205.9l2.1 -5.1 2.1 -4.9 2.2 -4.6 2.1 -4.4 2.1 -4.1 2.1 -4 2.1 -3.8 2.2 -3.6 2.1 -3.4 2.1 -3.3 2.1 -3.2 2.1 -3 5.4 -7.2 5.4 -6.4 5.4 -5.9 5.4 -5.3 5.4 -4.9 5.4 -4.5 5.4 -4.1 5.4 -3.9 5.4 -3.5 5.4 -3.3 5.4 -3.1 6.4 -3.4 6.3 -3.1 6.4 -2.9 6.3 -2.7 6.4 -2.5 6.4 -2.3 6.3 -2.2 6.4 -2.1 6.3 -1.9 6.4 -1.9 6.4 -1.7 6.3 -1.6 6.4 -1.6 6.3 -1.4 6.4 -1.4 6.4 -1.3 6.3 -1.3 6.4 -1.2 6.3 -1.1 6.4 -1.1" stroke="#00ff00" stroke-width="3.5"/>
</g>
<g stroke="#000" stroke-width="1.8" fill="none">
<rect x="111.90" y="11.70" width="848.70" height="254.70"/>
<line x1="324.30" y1="11.70" x2="324.30" y2="266.00"/>
<line x1="536.70" y1="11.70" x2="536.70" y2="266.00"/>
<line x1="748.60" y1="11.70" x2="748.60" y2="266.00"/>
</g>
<path d="M111.90,266.00h-7 M111.90,258.10h-4 M111.90,253.48h-4 M111.90,250.20h-4 M111.90,247.66h-4 M111.90,245.58h-4 M111.90,243.82h-4 M111.90,242.30h-4 M111.90,240.96h-4 M111.90,239.76h-7 M111.90,231.86h-4 M111.90,227.23h-4 M111.90,223.95h-4 M111.90,221.41h-4 M111.90,219.33h-4 M111.90,217.58h-4 M111.90,216.05h-4 M111.90,214.71h-4 M111.90,213.51h-7 M111.90,205.61h-4 M111.90,200.99h-4 M111.90,197.71h-4 M111.90,195.17h-4 M111.90,193.09h-4 M111.90,191.33h-4 M111.90,189.81h-4 M111.90,188.47h-4 M111.90,187.27h-7 M111.90,179.37h-4 M111.90,174.74h-4 M111.90,171.47h-4 M111.90,168.92h-4 M111.90,166.84h-4 M111.90,165.09h-4 M111.90,163.57h-4 M111.90,162.22h-4 M111.90,161.02h-7 M111.90,153.12h-4 M111.90,148.50h-4 M111.90,145.22h-4 M111.90,142.68h-4 M111.90,140.60h-4 M111.90,138.84h-4 M111.90,137.32h-4 M111.90,135.98h-4 M111.90,134.78h-7 M111.90,126.88h-4 M111.90,122.26h-4 M111.90,118.98h-4 M111.90,116.43h-4 M111.90,114.36h-4 M111.90,112.60h-4 M111.90,111.08h-4 M111.90,109.73h-4 M111.90,108.53h-7 M111.90,100.63h-4 M111.90,96.01h-4 M111.90,92.73h-4 M111.90,90.19h-4 M111.90,88.11h-4 M111.90,86.35h-4 M111.90,84.83h-4 M111.90,83.49h-4 M111.90,82.29h-7 M111.90,74.39h-4 M111.90,69.77h-4 M111.90,66.49h-4 M111.90,63.94h-4 M111.90,61.87h-4 M111.90,60.11h-4 M111.90,58.59h-4 M111.90,57.25h-4 M111.90,56.04h-7 M111.90,48.14h-4 M111.90,43.52h-4 M111.90,40.24h-4 M111.90,37.70h-4 M111.90,35.62h-4 M111.90,33.87h-4 M111.90,32.34h-4 M111.90,31.00h-4 M111.90,29.80h-7 M111.90,21.90h-4 M111.90,17.28h-4 M111.90,14.00h-4 M111.90,11.46h-4 M960.60,266.00h7 M960.60,258.10h4 M960.60,253.48h4 M960.60,250.20h4 M960.60,247.66h4 M960.60,245.58h4 M960.60,243.82h4 M960.60,242.30h4 M960.60,240.96h4 M960.60,239.76h7 M960.60,231.86h4 M960.60,227.23h4 M960.60,223.95h4 M960.60,221.41h4 M960.60,219.33h4 M960.60,217.58h4 M960.60,216.05h4 M960.60,214.71h4 M960.60,213.51h7 M960.60,205.61h4 M960.60,200.99h4 M960.60,197.71h4 M960.60,195.17h4 M960.60,193.09h4 M960.60,191.33h4 M960.60,189.81h4 M960.60,188.47h4 M960.60,187.27h7 M960.60,179.37h4 M960.60,174.74h4 M960.60,171.47h4 M960.60,168.92h4 M960.60,166.84h4 M960.60,165.09h4 M960.60,163.57h4 M960.60,162.22h4 M960.60,161.02h7 M960.60,153.12h4 M960.60,148.50h4 M960.60,145.22h4 M960.60,142.68h4 M960.60,140.60h4 M960.60,138.84h4 M960.60,137.32h4 M960.60,135.98h4 M960.60,134.78h7 M960.60,126.88h4 M960.60,122.26h4 M960.60,118.98h4 M960.60,116.43h4 M960.60,114.36h4 M960.60,112.60h4 M960.60,111.08h4 M960.60,109.73h4 M960.60,108.53h7 M960.60,100.63h4 M960.60,96.01h4 M960.60,92.73h4 M960.60,90.19h4 M960.60,88.11h4 M960.60,86.35h4 M960.60,84.83h4 M960.60,83.49h4 M960.60,82.29h7 M960.60,74.39h4 M960.60,69.77h4 M960.60,66.49h4 M960.60,63.94h4 M960.60,61.87h4 M960.60,60.11h4 M960.60,58.59h4 M960.60,57.25h4 M960.60,56.04h7 M960.60,48.14h4 M960.60,43.52h4 M960.60,40.24h4 M960.60,37.70h4 M960.60,35.62h4 M960.60,33.87h4 M960.60,32.34h4 M960.60,31.00h4 M960.60,29.80h7 M960.60,21.90h4 M960.60,17.28h4 M960.60,14.00h4 M960.60,11.46h4" stroke="#000" stroke-width="1.5" fill="none"/>
<path d="M111.90,266.00v7.6 M154.30,266.00v5 M196.70,266.00v7.6 M239.10,266.00v5 M281.50,266.00v7.6 M323.90,266.00v5 M324.30,266.00v7.6 M366.70,266.00v5 M409.10,266.00v7.6 M451.50,266.00v5 M493.90,266.00v7.6 M536.30,266.00v5 M536.70,266.00v7.6 M579.10,266.00v5 M621.50,266.00v7.6 M663.90,266.00v5 M706.30,266.00v7.6 M748.70,266.00v5 M748.60,266.00v7.6 M791.00,266.00v5 M833.40,266.00v7.6 M875.80,266.00v5 M918.20,266.00v7.6 M960.60,266.00v5" stroke="#000" stroke-width="1.5" fill="none"/>
<text transform="translate(101.00,261.00) scale(1.0,1)" font-size="15" text-anchor="end" font-family="'Liberation Sans', Arial, sans-serif" font-weight="bold" stroke="#000" stroke-width="0.3">-14</text>
<text transform="translate(80.40,275.70) scale(1.0,1)" font-size="26" text-anchor="end" font-family="'Liberation Sans', Arial, sans-serif" font-weight="bold" stroke="#000" stroke-width="0.3">10</text>
<text transform="translate(967.20,275.70) scale(1.02,1)" font-size="26" font-family="'Liberation Sans', Arial, sans-serif" font-weight="bold" stroke="#000" stroke-width="0.3">10</text>
<text transform="translate(996.60,261.60) scale(0.93,1)" font-size="16" font-family="'Liberation Sans', Arial, sans-serif" font-weight="bold" stroke="#000" stroke-width="0.3">-14</text>
<text transform="translate(101.00,234.76) scale(1.0,1)" font-size="15" text-anchor="end" font-family="'Liberation Sans', Arial, sans-serif" font-weight="bold" stroke="#000" stroke-width="0.3">-13</text>
<text transform="translate(80.40,249.46) scale(1.0,1)" font-size="26" text-anchor="end" font-family="'Liberation Sans', Arial, sans-serif" font-weight="bold" stroke="#000" stroke-width="0.3">10</text>
<text transform="translate(967.20,249.46) scale(1.02,1)" font-size="26" font-family="'Liberation Sans', Arial, sans-serif" font-weight="bold" stroke="#000" stroke-width="0.3">10</text>
<text transform="translate(996.60,235.36) scale(0.93,1)" font-size="16" font-family="'Liberation Sans', Arial, sans-serif" font-weight="bold" stroke="#000" stroke-width="0.3">-13</text>
<text transform="translate(101.00,208.51) scale(1.0,1)" font-size="15" text-anchor="end" font-family="'Liberation Sans', Arial, sans-serif" font-weight="bold" stroke="#000" stroke-width="0.3">-12</text>
<text transform="translate(80.40,223.21) scale(1.0,1)" font-size="26" text-anchor="end" font-family="'Liberation Sans', Arial, sans-serif" font-weight="bold" stroke="#000" stroke-width="0.3">10</text>
<text transform="translate(967.20,223.21) scale(1.02,1)" font-size="26" font-family="'Liberation Sans', Arial, sans-serif" font-weight="bold" stroke="#000" stroke-width="0.3">10</text>
<text transform="translate(996.60,209.11) scale(0.93,1)" font-size="16" font-family="'Liberation Sans', Arial, sans-serif" font-weight="bold" stroke="#000" stroke-width="0.3">-12</text>
<text transform="translate(101.00,182.27) scale(1.0,1)" font-size="15" text-anchor="end" font-family="'Liberation Sans', Arial, sans-serif" font-weight="bold" stroke="#000" stroke-width="0.3">-11</text>
<text transform="translate(80.40,196.97) scale(1.0,1)" font-size="26" text-anchor="end" font-family="'Liberation Sans', Arial, sans-serif" font-weight="bold" stroke="#000" stroke-width="0.3">10</text>
<text transform="translate(967.20,196.97) scale(1.02,1)" font-size="26" font-family="'Liberation Sans', Arial, sans-serif" font-weight="bold" stroke="#000" stroke-width="0.3">10</text>
<text transform="translate(996.60,182.87) scale(0.93,1)" font-size="16" font-family="'Liberation Sans', Arial, sans-serif" font-weight="bold" stroke="#000" stroke-width="0.3">-11</text>
<text transform="translate(101.00,156.02) scale(1.0,1)" font-size="15" text-anchor="end" font-family="'Liberation Sans', Arial, sans-serif" font-weight="bold" stroke="#000" stroke-width="0.3">-10</text>
<text transform="translate(80.40,170.72) scale(1.0,1)" font-size="26" text-anchor="end" font-family="'Liberation Sans', Arial, sans-serif" font-weight="bold" stroke="#000" stroke-width="0.3">10</text>
<text transform="translate(967.20,170.72) scale(1.02,1)" font-size="26" font-family="'Liberation Sans', Arial, sans-serif" font-weight="bold" stroke="#000" stroke-width="0.3">10</text>
<text transform="translate(996.60,156.62) scale(0.93,1)" font-size="16" font-family="'Liberation Sans', Arial, sans-serif" font-weight="bold" stroke="#000" stroke-width="0.3">-10</text>
<text transform="translate(101.00,129.78) scale(1.0,1)" font-size="15" text-anchor="end" font-family="'Liberation Sans', Arial, sans-serif" font-weight="bold" stroke="#000" stroke-width="0.3">-9</text>
<text transform="translate(88.80,144.48) scale(1.0,1)" font-size="26" text-anchor="end" font-family="'Liberation Sans', Arial, sans-serif" font-weight="bold" stroke="#000" stroke-width="0.3">10</text>
<text transform="translate(967.20,144.48) scale(1.02,1)" font-size="26" font-family="'Liberation Sans', Arial, sans-serif" font-weight="bold" stroke="#000" stroke-width="0.3">10</text>
<text transform="translate(996.60,130.38) scale(0.93,1)" font-size="16" font-family="'Liberation Sans', Arial, sans-serif" font-weight="bold" stroke="#000" stroke-width="0.3">-9</text>
<text transform="translate(101.00,103.53) scale(1.0,1)" font-size="15" text-anchor="end" font-family="'Liberation Sans', Arial, sans-serif" font-weight="bold" stroke="#000" stroke-width="0.3">-8</text>
<text transform="translate(88.80,118.23) scale(1.0,1)" font-size="26" text-anchor="end" font-family="'Liberation Sans', Arial, sans-serif" font-weight="bold" stroke="#000" stroke-width="0.3">10</text>
<text transform="translate(967.20,118.23) scale(1.02,1)" font-size="26" font-family="'Liberation Sans', Arial, sans-serif" font-weight="bold" stroke="#000" stroke-width="0.3">10</text>
<text transform="translate(996.60,104.13) scale(0.93,1)" font-size="16" font-family="'Liberation Sans', Arial, sans-serif" font-weight="bold" stroke="#000" stroke-width="0.3">-8</text>
<text transform="translate(101.00,77.29) scale(1.0,1)" font-size="15" text-anchor="end" font-family="'Liberation Sans', Arial, sans-serif" font-weight="bold" stroke="#000" stroke-width="0.3">-7</text>
<text transform="translate(88.80,91.99) scale(1.0,1)" font-size="26" text-anchor="end" font-family="'Liberation Sans', Arial, sans-serif" font-weight="bold" stroke="#000" stroke-width="0.3">10</text>
<text transform="translate(967.20,91.99) scale(1.02,1)" font-size="26" font-family="'Liberation Sans', Arial, sans-serif" font-weight="bold" stroke="#000" stroke-width="0.3">10</text>
<text transform="translate(996.60,77.89) scale(0.93,1)" font-size="16" font-family="'Liberation Sans', Arial, sans-serif" font-weight="bold" stroke="#000" stroke-width="0.3">-7</text>
<text transform="translate(101.00,51.04) scale(1.0,1)" font-size="15" text-anchor="end" font-family="'Liberation Sans', Arial, sans-serif" font-weight="bold" stroke="#000" stroke-width="0.3">-6</text>
<text transform="translate(88.80,65.74) scale(1.0,1)" font-size="26" text-anchor="end" font-family="'Liberation Sans', Arial, sans-serif" font-weight="bold" stroke="#000" stroke-width="0.3">10</text>
<text transform="translate(967.20,65.74) scale(1.02,1)" font-size="26" font-family="'Liberation Sans', Arial, sans-serif" font-weight="bold" stroke="#000" stroke-width="0.3">10</text>
<text transform="translate(996.60,51.64) scale(0.93,1)" font-size="16" font-family="'Liberation Sans', Arial, sans-serif" font-weight="bold" stroke="#000" stroke-width="0.3">-6</text>
<text transform="translate(101.00,24.80) scale(1.0,1)" font-size="15" text-anchor="end" font-family="'Liberation Sans', Arial, sans-serif" font-weight="bold" stroke="#000" stroke-width="0.3">-5</text>
<text transform="translate(88.80,39.50) scale(1.0,1)" font-size="26" text-anchor="end" font-family="'Liberation Sans', Arial, sans-serif" font-weight="bold" stroke="#000" stroke-width="0.3">10</text>
<text transform="translate(967.20,39.50) scale(1.02,1)" font-size="26" font-family="'Liberation Sans', Arial, sans-serif" font-weight="bold" stroke="#000" stroke-width="0.3">10</text>
<text transform="translate(996.60,25.40) scale(0.93,1)" font-size="16" font-family="'Liberation Sans', Arial, sans-serif" font-weight="bold" stroke="#000" stroke-width="0.3">-5</text>
<g fill="#fff"><rect x="52.10" y="272.00" width="5.30" height="4.50"/><rect x="61.29" y="272.00" width="4.76" height="4.50"/><rect x="967.81" y="272.00" width="5.41" height="4.50"/><rect x="977.19" y="272.00" width="4.85" height="4.50"/><rect x="84.22" y="258.44" width="3.40" height="3.36"/><rect x="90.03" y="258.44" width="3.02" height="3.36"/><rect x="1001.54" y="258.94" width="3.32" height="3.46"/><rect x="1007.23" y="258.94" width="2.96" height="3.46"/><rect x="52.10" y="245.75" width="5.30" height="4.50"/><rect x="61.29" y="245.75" width="4.76" height="4.50"/><rect x="967.81" y="245.75" width="5.41" height="4.50"/><rect x="977.19" y="245.75" width="4.85" height="4.50"/><rect x="84.22" y="232.20" width="3.40" height="3.36"/><rect x="90.03" y="232.20" width="3.02" height="3.36"/><rect x="1001.54" y="232.69" width="3.32" height="3.46"/><rect x="1007.23" y="232.69" width="2.96" height="3.46"/><rect x="52.10" y="219.51" width="5.30" height="4.50"/><rect x="61.29" y="219.51" width="4.76" height="4.50"/><rect x="967.81" y="219.51" width="5.41" height="4.50"/><rect x="977.19" y="219.51" width="4.85" height="4.50"/><rect x="84.22" y="205.95" width="3.40" height="3.36"/><rect x="90.03" y="205.95" width="3.02" height="3.36"/><rect x="1001.54" y="206.45" width="3.32" height="3.46"/><rect x="1007.23" y="206.45" width="2.96" height="3.46"/><rect x="52.10" y="193.26" width="5.30" height="4.50"/><rect x="61.29" y="193.26" width="4.76" height="4.50"/><rect x="967.81" y="193.26" width="5.41" height="4.50"/><rect x="977.19" y="193.26" width="4.85" height="4.50"/><rect x="84.22" y="179.71" width="3.40" height="3.36"/><rect x="90.03" y="179.71" width="3.02" height="3.36"/><rect x="92.56" y="179.71" width="3.40" height="3.36"/><rect x="98.37" y="179.71" width="3.02" height="3.36"/><rect x="1001.54" y="180.20" width="3.32" height="3.46"/><rect x="1007.23" y="180.20" width="2.96" height="3.46"/><rect x="1009.81" y="180.20" width="3.32" height="3.46"/><rect x="1015.51" y="180.20" width="2.96" height="3.46"/><rect x="52.10" y="167.02" width="5.30" height="4.50"/><rect x="61.29" y="167.02" width="4.76" height="4.50"/><rect x="967.81" y="167.02" width="5.41" height="4.50"/><rect x="977.19" y="167.02" width="4.85" height="4.50"/><rect x="84.22" y="153.46" width="3.40" height="3.36"/><rect x="90.03" y="153.46" width="3.02" height="3.36"/><rect x="1001.54" y="153.96" width="3.32" height="3.46"/><rect x="1007.23" y="153.96" width="2.96" height="3.46"/><rect x="60.50" y="140.77" width="5.30" height="4.50"/><rect x="69.69" y="140.77" width="4.76" height="4.50"/><rect x="967.81" y="140.77" width="5.41" height="4.50"/><rect x="977.19" y="140.77" width="4.85" height="4.50"/><rect x="60.50" y="114.53" width="5.30" height="4.50"/><rect x="69.69" y="114.53" width="4.76" height="4.50"/><rect x="967.81" y="114.53" width="5.41" height="4.50"/><rect x="977.19" y="114.53" width="4.85" height="4.50"/><rect x="60.50" y="88.28" width="5.30" height="4.50"/><rect x="69.69" y="88.28" width="4.76" height="4.50"/><rect x="967.81" y="88.28" width="5.41" height="4.50"/><rect x="977.19" y="88.28" width="4.85" height="4.50"/><rect x="60.50" y="62.04" width="5.30" height="4.50"/><rect x="69.69" y="62.04" width="4.76" height="4.50"/><rect x="967.81" y="62.04" width="5.41" height="4.50"/><rect x="977.19" y="62.04" width="4.85" height="4.50"/><rect x="60.50" y="35.80" width="5.30" height="4.50"/><rect x="69.69" y="35.80" width="4.76" height="4.50"/><rect x="967.81" y="35.80" width="5.41" height="4.50"/><rect x="977.19" y="35.80" width="4.85" height="4.50"/></g>
<text transform="translate(108.60,297.60) scale(0.93,1)" font-size="28" text-anchor="middle" font-family="'Liberation Sans', Arial, sans-serif" font-weight="bold" stroke="#000" stroke-width="0.3">0.0</text>
<text transform="translate(193.40,297.60) scale(0.93,1)" font-size="28" text-anchor="middle" font-family="'Liberation Sans', Arial, sans-serif" font-weight="bold" stroke="#000" stroke-width="0.3">0.2</text>
<text transform="translate(278.20,297.60) scale(0.93,1)" font-size="28" text-anchor="middle" font-family="'Liberation Sans', Arial, sans-serif" font-weight="bold" stroke="#000" stroke-width="0.3">0.4</text>
<text transform="translate(321.00,297.60) scale(0.93,1)" font-size="28" text-anchor="middle" font-family="'Liberation Sans', Arial, sans-serif" font-weight="bold" stroke="#000" stroke-width="0.3">0.0</text>
<text transform="translate(405.80,297.60) scale(0.93,1)" font-size="28" text-anchor="middle" font-family="'Liberation Sans', Arial, sans-serif" font-weight="bold" stroke="#000" stroke-width="0.3">0.2</text>
<text transform="translate(490.60,297.60) scale(0.93,1)" font-size="28" text-anchor="middle" font-family="'Liberation Sans', Arial, sans-serif" font-weight="bold" stroke="#000" stroke-width="0.3">0.4</text>
<text transform="translate(533.40,297.60) scale(0.93,1)" font-size="28" text-anchor="middle" font-family="'Liberation Sans', Arial, sans-serif" font-weight="bold" stroke="#000" stroke-width="0.3">0.0</text>
<text transform="translate(618.20,297.60) scale(0.93,1)" font-size="28" text-anchor="middle" font-family="'Liberation Sans', Arial, sans-serif" font-weight="bold" stroke="#000" stroke-width="0.3">0.2</text>
<text transform="translate(703.00,297.60) scale(0.93,1)" font-size="28" text-anchor="middle" font-family="'Liberation Sans', Arial, sans-serif" font-weight="bold" stroke="#000" stroke-width="0.3">0.4</text>
<text transform="translate(745.30,297.60) scale(0.93,1)" font-size="28" text-anchor="middle" font-family="'Liberation Sans', Arial, sans-serif" font-weight="bold" stroke="#000" stroke-width="0.3">0.0</text>
<text transform="translate(830.10,297.60) scale(0.93,1)" font-size="28" text-anchor="middle" font-family="'Liberation Sans', Arial, sans-serif" font-weight="bold" stroke="#000" stroke-width="0.3">0.2</text>
<text transform="translate(914.90,297.60) scale(0.93,1)" font-size="28" text-anchor="middle" font-family="'Liberation Sans', Arial, sans-serif" font-weight="bold" stroke="#000" stroke-width="0.3">0.4</text>
<text x="115.70" y="36.40" font-size="25.5" textLength="162.60" lengthAdjust="spacingAndGlyphs" font-family="'Liberation Sans', Arial, sans-serif" font-weight="bold" stroke="#000" stroke-width="0.3">nFinFET WFV</text>
<rect x="115.30" y="39.40" width="162.80" height="3" fill="#000"/>
<text x="333.90" y="36.40" font-size="25.5" textLength="157.20" lengthAdjust="spacingAndGlyphs" font-family="'Liberation Sans', Arial, sans-serif" font-weight="bold" stroke="#000" stroke-width="0.3">nFinFET LER</text>
<rect x="333.50" y="39.40" width="157.40" height="3" fill="#000"/>
<text x="545.70" y="37.50" font-size="25.5" textLength="140.80" lengthAdjust="spacingAndGlyphs" font-family="'Liberation Sans', Arial, sans-serif" font-weight="bold" stroke="#000" stroke-width="0.3">nTFET WFV</text>
<rect x="545.30" y="40.50" width="141.00" height="3" fill="#000"/>
<text x="757.10" y="37.50" font-size="25.5" textLength="134.90" lengthAdjust="spacingAndGlyphs" font-family="'Liberation Sans', Arial, sans-serif" font-weight="bold" stroke="#000" stroke-width="0.3">nTFET LER</text>
<rect x="756.70" y="40.50" width="135.10" height="3" fill="#000"/>
<line x1="281" y1="252.3" x2="336" y2="252.3" stroke="#ff0000" stroke-width="3.2" stroke-linecap="round"/>
<text x="351" y="260" font-size="24.3" textLength="180" lengthAdjust="spacingAndGlyphs" font-family="'Liberation Sans', Arial, sans-serif" font-weight="bold" stroke="#000" stroke-width="0.3">Nominal FinFET</text>
<line x1="547.5" y1="251.5" x2="602" y2="251.5" stroke="#00ff00" stroke-width="3.3" stroke-linecap="round"/>
<text x="617" y="259.6" font-size="24.3" textLength="158.5" lengthAdjust="spacingAndGlyphs" font-family="'Liberation Sans', Arial, sans-serif" font-weight="bold" stroke="#000" stroke-width="0.3">Nominal TFET</text>
<line x1="748.60" y1="230" x2="748.60" y2="266.00" stroke="#000" stroke-width="1.8"/>
<text x="853.6" y="229.6" font-size="21" font-family="'Liberation Sans', Arial, sans-serif" font-weight="bold" stroke="#000" stroke-width="0.3">V</text>
<text x="867.6" y="238.5" font-size="12" textLength="16.2" lengthAdjust="spacingAndGlyphs" font-family="'Liberation Sans', Arial, sans-serif" font-weight="bold" stroke="#000" stroke-width="0.3">DS</text>
<text x="889.6" y="229.6" font-size="21" textLength="61.3" lengthAdjust="spacingAndGlyphs" font-family="'Liberation Sans', Arial, sans-serif" font-weight="bold" stroke="#000" stroke-width="0.3">= 0.3V</text>
<rect x="853.5" y="232.0" width="14" height="2.5" fill="#000"/>
<rect x="884" y="232.0" width="67.5" height="2.5" fill="#000"/>
<rect x="867.5" y="239.8" width="16.5" height="1.6" fill="#000"/>
<text x="860.6" y="256.7" font-size="16.3" textLength="87.6" lengthAdjust="spacingAndGlyphs" font-family="'Liberation Sans', Arial, sans-serif" font-weight="bold" stroke="#000" stroke-width="0.3">100 samples</text>
<g fill="#fff"><rect x="860.60" y="254.00" width="3.27" height="3.50"/><rect x="866.22" y="254.00" width="2.91" height="3.50"/></g>
<text transform="translate(29.1,182.5) rotate(-90)" font-size="32" font-family="'Liberation Sans', Arial, sans-serif" font-weight="bold" stroke="#000" stroke-width="0.3">I</text>
<text transform="translate(41.9,172.8) rotate(-90)" font-size="19" font-family="'Liberation Sans', Arial, sans-serif" font-weight="bold" stroke="#000" stroke-width="0.3">DS</text>
<text transform="translate(28.9,138.0) rotate(-90)" font-size="32" font-family="'Liberation Sans', Arial, sans-serif" font-weight="bold" stroke="#000" stroke-width="0.3">(A)</text>
<text x="485.8" y="327.2" font-size="30.5" font-family="'Liberation Sans', Arial, sans-serif" font-weight="bold" stroke="#000" stroke-width="0.3">V</text>
<text x="505.5" y="339" font-size="18.5" font-family="'Liberation Sans', Arial, sans-serif" font-weight="bold" stroke="#000" stroke-width="0.3">GS</text>
<text x="540.2" y="327.2" font-size="30.5" font-family="'Liberation Sans', Arial, sans-serif" font-weight="bold" stroke="#000" stroke-width="0.3">(V)</text>
</svg>
</body></html>
